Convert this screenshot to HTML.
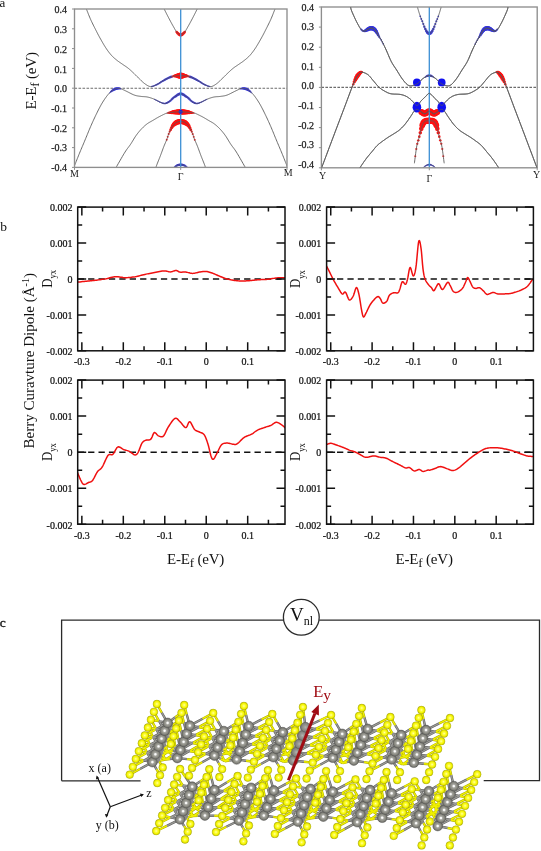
<!DOCTYPE html>
<html><head><meta charset="utf-8"><style>
html,body{margin:0;padding:0;background:#fff;}
body{width:541px;height:851px;overflow:hidden;}
svg{display:block;}
text{font-family:"Liberation Serif",serif;}
</style></head><body>
<svg width="541" height="851" viewBox="0 0 541 851">
<defs>
<radialGradient id="gY" cx="0.5" cy="0.5" r="0.5"><stop offset="0" stop-color="#ffffc0"/><stop offset="0.25" stop-color="#ffff50"/><stop offset="0.7" stop-color="#f4f400"/><stop offset="0.9" stop-color="#d8d800"/><stop offset="1" stop-color="#a8a800"/></radialGradient>
<radialGradient id="gG" cx="0.5" cy="0.5" r="0.5"><stop offset="0" stop-color="#ffffff"/><stop offset="0.16" stop-color="#f6f6f4"/><stop offset="0.36" stop-color="#a6a6a0"/><stop offset="0.72" stop-color="#88887f"/><stop offset="0.92" stop-color="#6e6e6a"/><stop offset="1" stop-color="#5a5a58"/></radialGradient>
<radialGradient id="gD" cx="0.5" cy="0.5" r="0.5"><stop offset="0" stop-color="#b4b4b0"/><stop offset="0.35" stop-color="#9a9a96"/><stop offset="0.8" stop-color="#82827e"/><stop offset="1" stop-color="#6c6c68"/></radialGradient>
</defs><rect x="0" y="0" width="541" height="851" fill="#fff"/><line x1="74.5" y1="88.20" x2="287.0" y2="88.20" stroke="#6c6c6c" stroke-width="1.1" stroke-dasharray="2.6,1.4"/><clipPath id="clipa74"><rect x="74.5" y="9.0" width="212.5" height="158.4"/></clipPath><g clip-path="url(#clipa74)"><circle cx="151.70" cy="86.56" r="0.72" fill="#3434d8"/><circle cx="152.70" cy="86.34" r="0.74" fill="#3434d8"/><circle cx="153.70" cy="86.00" r="0.76" fill="#3434d8"/><circle cx="154.70" cy="85.58" r="0.79" fill="#3434d8"/><circle cx="155.70" cy="85.12" r="0.81" fill="#3434d8"/><circle cx="156.70" cy="84.65" r="0.84" fill="#3434d8"/><circle cx="157.70" cy="84.12" r="0.86" fill="#3434d8"/><circle cx="158.70" cy="83.52" r="0.88" fill="#3434d8"/><circle cx="159.70" cy="82.89" r="0.91" fill="#3434d8"/><circle cx="160.70" cy="82.25" r="0.93" fill="#3434d8"/><circle cx="161.70" cy="81.61" r="0.95" fill="#3434d8"/><circle cx="162.70" cy="81.02" r="0.98" fill="#3434d8"/><circle cx="163.70" cy="80.45" r="1.00" fill="#3434d8"/><circle cx="164.70" cy="79.90" r="1.03" fill="#3434d8"/><circle cx="165.70" cy="79.36" r="1.05" fill="#3434d8"/><circle cx="166.70" cy="78.84" r="1.07" fill="#3434d8"/><circle cx="167.70" cy="78.34" r="1.10" fill="#3434d8"/><circle cx="168.70" cy="77.86" r="1.12" fill="#3434d8"/><circle cx="169.70" cy="77.43" r="1.15" fill="#3434d8"/><circle cx="170.70" cy="77.04" r="1.17" fill="#3434d8"/><circle cx="171.70" cy="76.68" r="1.19" fill="#3434d8"/><circle cx="189.70" cy="76.68" r="1.19" fill="#3434d8"/><circle cx="190.70" cy="77.04" r="1.17" fill="#3434d8"/><circle cx="191.70" cy="77.43" r="1.15" fill="#3434d8"/><circle cx="192.70" cy="77.86" r="1.12" fill="#3434d8"/><circle cx="193.70" cy="78.34" r="1.10" fill="#3434d8"/><circle cx="194.70" cy="78.84" r="1.07" fill="#3434d8"/><circle cx="195.70" cy="79.36" r="1.05" fill="#3434d8"/><circle cx="196.70" cy="79.90" r="1.03" fill="#3434d8"/><circle cx="197.70" cy="80.45" r="1.00" fill="#3434d8"/><circle cx="198.70" cy="81.02" r="0.98" fill="#3434d8"/><circle cx="199.70" cy="81.61" r="0.95" fill="#3434d8"/><circle cx="200.70" cy="82.25" r="0.93" fill="#3434d8"/><circle cx="201.70" cy="82.89" r="0.91" fill="#3434d8"/><circle cx="202.70" cy="83.52" r="0.88" fill="#3434d8"/><circle cx="203.70" cy="84.12" r="0.86" fill="#3434d8"/><circle cx="204.70" cy="84.65" r="0.84" fill="#3434d8"/><circle cx="205.70" cy="85.12" r="0.81" fill="#3434d8"/><circle cx="206.70" cy="85.58" r="0.79" fill="#3434d8"/><circle cx="207.70" cy="86.00" r="0.76" fill="#3434d8"/><circle cx="208.70" cy="86.34" r="0.74" fill="#3434d8"/><circle cx="209.70" cy="86.56" r="0.72" fill="#3434d8"/><circle cx="171.70" cy="76.68" r="0.56" fill="#ff1010"/><circle cx="172.70" cy="76.39" r="0.85" fill="#ff1010"/><circle cx="173.70" cy="76.15" r="1.15" fill="#ff1010"/><circle cx="174.70" cy="75.97" r="1.44" fill="#ff1010"/><circle cx="175.70" cy="75.85" r="1.73" fill="#ff1010"/><circle cx="176.70" cy="75.77" r="2.03" fill="#ff1010"/><circle cx="177.70" cy="75.73" r="2.32" fill="#ff1010"/><circle cx="178.70" cy="75.71" r="2.61" fill="#ff1010"/><circle cx="179.70" cy="75.70" r="2.91" fill="#ff1010"/><circle cx="180.70" cy="75.70" r="3.20" fill="#ff1010"/><circle cx="181.70" cy="75.70" r="2.91" fill="#ff1010"/><circle cx="182.70" cy="75.71" r="2.61" fill="#ff1010"/><circle cx="183.70" cy="75.73" r="2.32" fill="#ff1010"/><circle cx="184.70" cy="75.77" r="2.03" fill="#ff1010"/><circle cx="185.70" cy="75.85" r="1.73" fill="#ff1010"/><circle cx="186.70" cy="75.97" r="1.44" fill="#ff1010"/><circle cx="187.70" cy="76.15" r="1.15" fill="#ff1010"/><circle cx="188.70" cy="76.39" r="0.85" fill="#ff1010"/><circle cx="189.70" cy="76.68" r="0.56" fill="#ff1010"/><circle cx="176.70" cy="32.03" r="1.32" fill="#ff1010"/><circle cx="177.70" cy="33.16" r="1.41" fill="#ff1010"/><circle cx="178.70" cy="34.06" r="1.51" fill="#ff1010"/><circle cx="179.70" cy="34.67" r="1.60" fill="#ff1010"/><circle cx="180.70" cy="34.90" r="1.70" fill="#ff1010"/><circle cx="181.70" cy="34.67" r="1.60" fill="#ff1010"/><circle cx="182.70" cy="34.06" r="1.51" fill="#ff1010"/><circle cx="183.70" cy="33.16" r="1.41" fill="#ff1010"/><circle cx="184.70" cy="32.03" r="1.32" fill="#ff1010"/><circle cx="109.70" cy="92.81" r="0.56" fill="#3434d8"/><circle cx="110.70" cy="91.91" r="0.82" fill="#3434d8"/><circle cx="111.70" cy="91.10" r="1.04" fill="#3434d8"/><circle cx="112.70" cy="90.37" r="1.20" fill="#3434d8"/><circle cx="113.70" cy="89.74" r="1.32" fill="#3434d8"/><circle cx="114.70" cy="89.22" r="1.38" fill="#3434d8"/><circle cx="115.70" cy="88.82" r="1.40" fill="#3434d8"/><circle cx="116.70" cy="88.56" r="1.36" fill="#3434d8"/><circle cx="117.70" cy="88.42" r="1.28" fill="#3434d8"/><circle cx="118.70" cy="88.41" r="1.14" fill="#3434d8"/><circle cx="119.70" cy="88.52" r="0.96" fill="#3434d8"/><circle cx="120.70" cy="88.73" r="0.72" fill="#3434d8"/><circle cx="240.70" cy="88.73" r="0.72" fill="#3434d8"/><circle cx="241.70" cy="88.52" r="0.96" fill="#3434d8"/><circle cx="242.70" cy="88.41" r="1.14" fill="#3434d8"/><circle cx="243.70" cy="88.42" r="1.28" fill="#3434d8"/><circle cx="244.70" cy="88.56" r="1.36" fill="#3434d8"/><circle cx="245.70" cy="88.82" r="1.40" fill="#3434d8"/><circle cx="246.70" cy="89.22" r="1.38" fill="#3434d8"/><circle cx="247.70" cy="89.74" r="1.32" fill="#3434d8"/><circle cx="248.70" cy="90.37" r="1.20" fill="#3434d8"/><circle cx="249.70" cy="91.10" r="1.04" fill="#3434d8"/><circle cx="250.70" cy="91.91" r="0.82" fill="#3434d8"/><circle cx="251.70" cy="92.81" r="0.56" fill="#3434d8"/><circle cx="154.70" cy="99.39" r="0.52" fill="#3434d8"/><circle cx="155.70" cy="99.88" r="0.56" fill="#3434d8"/><circle cx="156.70" cy="100.39" r="0.59" fill="#3434d8"/><circle cx="157.70" cy="100.92" r="0.62" fill="#3434d8"/><circle cx="158.70" cy="101.44" r="0.66" fill="#3434d8"/><circle cx="159.70" cy="101.94" r="0.69" fill="#3434d8"/><circle cx="160.70" cy="102.37" r="0.73" fill="#3434d8"/><circle cx="161.70" cy="102.79" r="0.76" fill="#3434d8"/><circle cx="162.70" cy="103.18" r="0.79" fill="#3434d8"/><circle cx="163.70" cy="103.44" r="0.83" fill="#3434d8"/><circle cx="164.70" cy="103.50" r="0.86" fill="#3434d8"/><circle cx="165.70" cy="103.36" r="0.89" fill="#3434d8"/><circle cx="166.70" cy="103.04" r="0.93" fill="#3434d8"/><circle cx="167.70" cy="102.57" r="0.96" fill="#3434d8"/><circle cx="168.70" cy="101.99" r="1.00" fill="#3434d8"/><circle cx="169.70" cy="101.31" r="1.03" fill="#3434d8"/><circle cx="170.70" cy="100.44" r="1.06" fill="#3434d8"/><circle cx="171.70" cy="99.47" r="1.10" fill="#3434d8"/><circle cx="172.70" cy="98.50" r="1.13" fill="#3434d8"/><circle cx="173.70" cy="97.61" r="1.16" fill="#3434d8"/><circle cx="174.70" cy="96.86" r="1.20" fill="#3434d8"/><circle cx="175.70" cy="96.15" r="1.23" fill="#3434d8"/><circle cx="176.70" cy="95.45" r="1.27" fill="#3434d8"/><circle cx="177.70" cy="94.82" r="1.30" fill="#3434d8"/><circle cx="178.70" cy="94.30" r="1.33" fill="#3434d8"/><circle cx="179.70" cy="93.95" r="1.37" fill="#3434d8"/><circle cx="180.70" cy="93.80" r="1.40" fill="#3434d8"/><circle cx="181.70" cy="93.95" r="1.37" fill="#3434d8"/><circle cx="182.70" cy="94.30" r="1.33" fill="#3434d8"/><circle cx="183.70" cy="94.82" r="1.30" fill="#3434d8"/><circle cx="184.70" cy="95.45" r="1.27" fill="#3434d8"/><circle cx="185.70" cy="96.15" r="1.23" fill="#3434d8"/><circle cx="186.70" cy="96.86" r="1.20" fill="#3434d8"/><circle cx="187.70" cy="97.61" r="1.16" fill="#3434d8"/><circle cx="188.70" cy="98.50" r="1.13" fill="#3434d8"/><circle cx="189.70" cy="99.47" r="1.10" fill="#3434d8"/><circle cx="190.70" cy="100.44" r="1.06" fill="#3434d8"/><circle cx="191.70" cy="101.31" r="1.03" fill="#3434d8"/><circle cx="192.70" cy="101.99" r="1.00" fill="#3434d8"/><circle cx="193.70" cy="102.57" r="0.96" fill="#3434d8"/><circle cx="194.70" cy="103.04" r="0.93" fill="#3434d8"/><circle cx="195.70" cy="103.36" r="0.89" fill="#3434d8"/><circle cx="196.70" cy="103.50" r="0.86" fill="#3434d8"/><circle cx="197.70" cy="103.44" r="0.83" fill="#3434d8"/><circle cx="198.70" cy="103.18" r="0.79" fill="#3434d8"/><circle cx="199.70" cy="102.79" r="0.76" fill="#3434d8"/><circle cx="200.70" cy="102.37" r="0.73" fill="#3434d8"/><circle cx="201.70" cy="101.94" r="0.69" fill="#3434d8"/><circle cx="202.70" cy="101.44" r="0.66" fill="#3434d8"/><circle cx="203.70" cy="100.92" r="0.62" fill="#3434d8"/><circle cx="204.70" cy="100.39" r="0.59" fill="#3434d8"/><circle cx="205.70" cy="99.88" r="0.56" fill="#3434d8"/><circle cx="206.70" cy="99.39" r="0.52" fill="#3434d8"/><circle cx="166.70" cy="113.19" r="0.37" fill="#ff1010"/><circle cx="167.70" cy="112.98" r="0.69" fill="#ff1010"/><circle cx="168.70" cy="112.81" r="0.99" fill="#ff1010"/><circle cx="169.70" cy="112.66" r="1.26" fill="#ff1010"/><circle cx="170.70" cy="112.53" r="1.51" fill="#ff1010"/><circle cx="171.70" cy="112.41" r="1.74" fill="#ff1010"/><circle cx="172.70" cy="112.30" r="1.94" fill="#ff1010"/><circle cx="173.70" cy="112.21" r="2.12" fill="#ff1010"/><circle cx="174.70" cy="112.13" r="2.27" fill="#ff1010"/><circle cx="175.70" cy="112.06" r="2.40" fill="#ff1010"/><circle cx="176.70" cy="112.00" r="2.51" fill="#ff1010"/><circle cx="177.70" cy="111.96" r="2.59" fill="#ff1010"/><circle cx="178.70" cy="111.93" r="2.65" fill="#ff1010"/><circle cx="179.70" cy="111.91" r="2.69" fill="#ff1010"/><circle cx="180.70" cy="111.90" r="2.70" fill="#ff1010"/><circle cx="181.70" cy="111.91" r="2.69" fill="#ff1010"/><circle cx="182.70" cy="111.93" r="2.65" fill="#ff1010"/><circle cx="183.70" cy="111.96" r="2.59" fill="#ff1010"/><circle cx="184.70" cy="112.00" r="2.51" fill="#ff1010"/><circle cx="185.70" cy="112.06" r="2.40" fill="#ff1010"/><circle cx="186.70" cy="112.13" r="2.27" fill="#ff1010"/><circle cx="187.70" cy="112.21" r="2.12" fill="#ff1010"/><circle cx="188.70" cy="112.30" r="1.94" fill="#ff1010"/><circle cx="189.70" cy="112.41" r="1.74" fill="#ff1010"/><circle cx="190.70" cy="112.53" r="1.51" fill="#ff1010"/><circle cx="191.70" cy="112.66" r="1.26" fill="#ff1010"/><circle cx="192.70" cy="112.81" r="0.99" fill="#ff1010"/><circle cx="193.70" cy="112.98" r="0.69" fill="#ff1010"/><circle cx="194.70" cy="113.19" r="0.37" fill="#ff1010"/><circle cx="166.70" cy="139.75" r="0.91" fill="#ff1010"/><circle cx="167.70" cy="136.84" r="0.96" fill="#ff1010"/><circle cx="168.70" cy="133.92" r="1.01" fill="#ff1010"/><circle cx="169.70" cy="131.59" r="1.06" fill="#ff1010"/><circle cx="191.70" cy="131.59" r="1.06" fill="#ff1010"/><circle cx="192.70" cy="133.92" r="1.01" fill="#ff1010"/><circle cx="193.70" cy="136.84" r="0.96" fill="#ff1010"/><circle cx="194.70" cy="139.75" r="0.91" fill="#ff1010"/><circle cx="170.70" cy="129.66" r="1.44" fill="#ff1010"/><circle cx="171.70" cy="127.59" r="1.66" fill="#ff1010"/><circle cx="172.70" cy="125.77" r="1.88" fill="#ff1010"/><circle cx="173.70" cy="124.67" r="2.10" fill="#ff1010"/><circle cx="174.70" cy="123.78" r="2.32" fill="#ff1010"/><circle cx="186.70" cy="123.78" r="2.32" fill="#ff1010"/><circle cx="187.70" cy="124.67" r="2.10" fill="#ff1010"/><circle cx="188.70" cy="125.77" r="1.88" fill="#ff1010"/><circle cx="189.70" cy="127.59" r="1.66" fill="#ff1010"/><circle cx="190.70" cy="129.66" r="1.44" fill="#ff1010"/><circle cx="175.70" cy="122.94" r="2.50" fill="#ff1010"/><circle cx="176.70" cy="122.33" r="2.52" fill="#ff1010"/><circle cx="177.70" cy="121.95" r="2.54" fill="#ff1010"/><circle cx="178.70" cy="121.67" r="2.56" fill="#ff1010"/><circle cx="179.70" cy="121.48" r="2.58" fill="#ff1010"/><circle cx="180.70" cy="121.40" r="2.60" fill="#ff1010"/><circle cx="181.70" cy="121.48" r="2.58" fill="#ff1010"/><circle cx="182.70" cy="121.67" r="2.56" fill="#ff1010"/><circle cx="183.70" cy="121.95" r="2.54" fill="#ff1010"/><circle cx="184.70" cy="122.33" r="2.52" fill="#ff1010"/><circle cx="185.70" cy="122.94" r="2.50" fill="#ff1010"/><circle cx="173.70" cy="168.01" r="0.93" fill="#3434d8"/><circle cx="174.70" cy="167.10" r="0.97" fill="#3434d8"/><circle cx="175.70" cy="166.30" r="1.01" fill="#3434d8"/><circle cx="176.70" cy="165.66" r="1.04" fill="#3434d8"/><circle cx="177.70" cy="165.20" r="1.08" fill="#3434d8"/><circle cx="178.70" cy="164.91" r="1.12" fill="#3434d8"/><circle cx="179.70" cy="164.75" r="1.16" fill="#3434d8"/><circle cx="180.70" cy="164.70" r="1.20" fill="#3434d8"/><circle cx="181.70" cy="164.75" r="1.16" fill="#3434d8"/><circle cx="182.70" cy="164.91" r="1.12" fill="#3434d8"/><circle cx="183.70" cy="165.20" r="1.08" fill="#3434d8"/><circle cx="184.70" cy="165.66" r="1.04" fill="#3434d8"/><circle cx="185.70" cy="166.30" r="1.01" fill="#3434d8"/><circle cx="186.70" cy="167.10" r="0.97" fill="#3434d8"/><circle cx="187.70" cy="168.01" r="0.93" fill="#3434d8"/><path d="M86.40,9.00L86.64,9.62L86.95,10.40L87.31,11.33L87.72,12.37L88.16,13.50L88.62,14.68L89.11,15.89L89.61,17.10L90.11,18.28L90.60,19.40L91.10,20.50L91.63,21.64L92.19,22.79L92.76,23.96L93.34,25.13L93.92,26.29L94.49,27.43L95.05,28.53L95.59,29.59L96.10,30.60L96.58,31.54L97.03,32.43L97.46,33.27L97.88,34.08L98.29,34.86L98.71,35.64L99.13,36.42L99.56,37.22L100.02,38.04L100.50,38.90L101.01,39.81L101.54,40.74L102.09,41.71L102.66,42.69L103.23,43.67L103.81,44.65L104.39,45.61L104.97,46.54L105.54,47.44L106.10,48.30L106.65,49.12L107.20,49.92L107.75,50.69L108.30,51.44L108.85,52.17L109.40,52.88L109.95,53.57L110.50,54.24L111.05,54.88L111.60,55.50L112.16,56.09L112.72,56.66L113.28,57.20L113.84,57.71L114.40,58.21L114.96,58.68L115.52,59.15L116.08,59.61L116.64,60.05L117.20,60.50L117.75,60.93L118.30,61.35L118.85,61.75L119.40,62.14L119.95,62.52L120.50,62.89L121.05,63.26L121.60,63.64L122.15,64.01L122.70,64.40L123.26,64.79L123.82,65.16L124.38,65.54L124.94,65.91L125.50,66.28L126.06,66.66L126.62,67.05L127.18,67.45L127.74,67.87L128.30,68.30L128.85,68.75L129.40,69.22L129.95,69.70L130.50,70.20L131.05,70.70L131.60,71.21L132.15,71.73L132.70,72.25L133.25,72.77L133.80,73.30L134.36,73.83L134.92,74.38L135.48,74.93L136.04,75.49L136.60,76.05L137.16,76.61L137.72,77.17L138.28,77.72L138.84,78.27L139.40,78.80L139.95,79.33L140.50,79.87L141.05,80.41L141.60,80.94L142.15,81.47L142.70,81.98L143.25,82.48L143.80,82.95L144.35,83.39L144.90,83.80L145.45,84.19L146.01,84.57L146.56,84.95L147.12,85.30L147.68,85.62L148.23,85.92L148.79,86.17L149.36,86.37L149.93,86.52L150.50,86.60L151.08,86.62L151.65,86.57L152.23,86.46L152.81,86.31L153.39,86.12L153.98,85.89L154.58,85.64L155.18,85.37L155.78,85.09L156.40,84.80L157.03,84.49L157.66,84.14L158.31,83.77L158.96,83.36L159.62,82.94L160.28,82.52L160.94,82.09L161.60,81.68L162.25,81.28L162.90,80.90L163.55,80.54L164.21,80.17L164.87,79.81L165.52,79.46L166.18,79.11L166.83,78.77L167.47,78.45L168.10,78.14L168.71,77.86L169.30,77.60L169.86,77.37L170.40,77.15L170.92,76.95L171.42,76.78L171.91,76.61L172.41,76.46L172.90,76.33L173.42,76.21L173.94,76.10L174.50,76.00L175.08,75.91L175.68,75.85L176.29,75.80L176.91,75.76L177.54,75.73L178.17,75.71L178.81,75.70L179.44,75.70L180.08,75.70L180.70,75.70L181.32,75.70L181.96,75.70L182.59,75.70L183.23,75.71L183.86,75.73L184.49,75.76L185.11,75.80L185.72,75.85L186.32,75.91L186.90,76.00L187.46,76.10L187.98,76.21L188.50,76.33L188.99,76.46L189.49,76.61L189.98,76.78L190.48,76.95L191.00,77.15L191.54,77.37L192.10,77.60L192.69,77.86L193.30,78.14L193.93,78.45L194.57,78.77L195.22,79.11L195.88,79.46L196.53,79.81L197.19,80.17L197.85,80.54L198.50,80.90L199.15,81.28L199.80,81.68L200.46,82.09L201.12,82.52L201.78,82.94L202.44,83.36L203.09,83.77L203.74,84.14L204.37,84.49L205.00,84.80L205.62,85.09L206.22,85.37L206.82,85.64L207.42,85.89L208.01,86.12L208.59,86.31L209.17,86.46L209.75,86.57L210.32,86.62L210.90,86.60L211.47,86.52L212.04,86.37L212.61,86.17L213.17,85.92L213.72,85.62L214.28,85.30L214.84,84.95L215.39,84.57L215.95,84.19L216.50,83.80L217.05,83.39L217.60,82.95L218.15,82.48L218.70,81.98L219.25,81.47L219.80,80.94L220.35,80.41L220.90,79.87L221.45,79.33L222.00,78.80L222.56,78.27L223.12,77.72L223.68,77.17L224.24,76.61L224.80,76.05L225.36,75.49L225.92,74.93L226.48,74.38L227.04,73.83L227.60,73.30L228.15,72.77L228.70,72.25L229.25,71.73L229.80,71.21L230.35,70.70L230.90,70.20L231.45,69.70L232.00,69.22L232.55,68.75L233.10,68.30L233.66,67.87L234.22,67.45L234.78,67.05L235.34,66.66L235.90,66.28L236.46,65.91L237.02,65.54L237.58,65.16L238.14,64.79L238.70,64.40L239.25,64.01L239.80,63.64L240.35,63.26L240.90,62.89L241.45,62.52L242.00,62.14L242.55,61.75L243.10,61.35L243.65,60.93L244.20,60.50L244.76,60.05L245.32,59.61L245.88,59.15L246.44,58.68L247.00,58.21L247.56,57.71L248.12,57.20L248.68,56.66L249.24,56.09L249.80,55.50L250.35,54.88L250.90,54.24L251.45,53.57L252.00,52.88L252.55,52.18L253.10,51.44L253.65,50.69L254.20,49.92L254.75,49.12L255.30,48.30L255.86,47.44L256.43,46.54L257.01,45.61L257.59,44.65L258.17,43.67L258.74,42.69L259.31,41.71L259.86,40.74L260.39,39.81L260.90,38.90L261.38,38.04L261.84,37.22L262.27,36.42L262.69,35.64L263.11,34.86L263.52,34.08L263.94,33.27L264.37,32.43L264.82,31.54L265.30,30.60L265.81,29.59L266.35,28.53L266.91,27.43L267.48,26.29L268.06,25.13L268.64,23.96L269.21,22.79L269.77,21.64L270.30,20.50L270.80,19.40L271.29,18.28L271.79,17.10L272.29,15.89L272.78,14.68L273.24,13.50L273.68,12.37L274.09,11.33L274.45,10.40L274.76,9.62L275.00,9.00" fill="none" stroke="#5a5a5a" stroke-width="0.9"/><path d="M163.60,7.00L163.63,7.11L163.65,7.22L163.66,7.34L163.68,7.48L163.72,7.64L163.78,7.86L163.86,8.13L163.99,8.47L164.17,8.89L164.40,9.40L164.70,10.03L165.06,10.78L165.48,11.62L165.94,12.53L166.43,13.49L166.93,14.49L167.44,15.48L167.95,16.47L168.44,17.41L168.90,18.30L169.35,19.15L169.80,20.00L170.25,20.85L170.70,21.70L171.15,22.53L171.60,23.35L172.03,24.15L172.47,24.93L172.89,25.68L173.30,26.40L173.70,27.10L174.08,27.79L174.46,28.46L174.83,29.12L175.19,29.75L175.55,30.35L175.91,30.92L176.27,31.46L176.63,31.95L177.00,32.40L177.37,32.81L177.74,33.20L178.11,33.56L178.48,33.89L178.85,34.18L179.22,34.43L179.59,34.63L179.96,34.78L180.33,34.87L180.70,34.90L181.07,34.87L181.44,34.78L181.81,34.63L182.18,34.43L182.55,34.18L182.92,33.89L183.29,33.56L183.66,33.20L184.03,32.81L184.40,32.40L184.77,31.95L185.13,31.46L185.49,30.92L185.85,30.35L186.21,29.75L186.57,29.12L186.94,28.46L187.32,27.79L187.70,27.10L188.10,26.40L188.51,25.68L188.93,24.93L189.37,24.15L189.80,23.35L190.25,22.53L190.70,21.70L191.15,20.85L191.60,20.00L192.05,19.15L192.50,18.30L192.96,17.41L193.45,16.47L193.96,15.48L194.47,14.49L194.97,13.49L195.46,12.53L195.92,11.62L196.34,10.78L196.70,10.03L197.00,9.40L197.23,8.89L197.41,8.47L197.54,8.13L197.62,7.86L197.68,7.64L197.72,7.48L197.74,7.34L197.75,7.22L197.77,7.11L197.80,7.00" fill="none" stroke="#5a5a5a" stroke-width="0.9"/><path d="M73.50,167.80L73.55,167.70L73.59,167.63L73.63,167.57L73.68,167.48L73.74,167.36L73.83,167.18L73.96,166.92L74.12,166.55L74.33,166.05L74.60,165.40L74.93,164.58L75.33,163.60L75.77,162.49L76.25,161.28L76.77,159.98L77.31,158.63L77.86,157.25L78.41,155.87L78.96,154.51L79.50,153.20L80.03,151.91L80.58,150.61L81.13,149.29L81.69,147.96L82.26,146.62L82.83,145.27L83.41,143.92L83.98,142.58L84.54,141.23L85.10,139.90L85.65,138.57L86.20,137.22L86.75,135.88L87.30,134.53L87.85,133.18L88.40,131.84L88.95,130.51L89.50,129.19L90.05,127.89L90.60,126.60L91.16,125.33L91.72,124.06L92.28,122.81L92.84,121.56L93.40,120.33L93.96,119.11L94.52,117.91L95.08,116.72L95.64,115.55L96.20,114.40L96.75,113.26L97.30,112.14L97.85,111.03L98.40,109.93L98.95,108.86L99.50,107.80L100.05,106.76L100.60,105.75L101.15,104.76L101.70,103.80L102.26,102.86L102.83,101.93L103.41,101.02L103.99,100.13L104.57,99.26L105.14,98.43L105.71,97.63L106.26,96.87L106.79,96.16L107.30,95.50L107.79,94.89L108.26,94.34L108.71,93.83L109.15,93.36L109.58,92.93L110.00,92.53L110.42,92.15L110.84,91.79L111.27,91.44L111.70,91.10L112.14,90.77L112.58,90.45L113.02,90.16L113.46,89.88L113.89,89.62L114.33,89.39L114.77,89.18L115.21,88.99L115.66,88.83L116.10,88.70L116.54,88.59L116.98,88.51L117.41,88.45L117.84,88.41L118.28,88.40L118.72,88.41L119.17,88.45L119.63,88.51L120.11,88.59L120.60,88.70L121.10,88.84L121.59,89.00L122.09,89.19L122.59,89.41L123.11,89.65L123.65,89.91L124.21,90.19L124.80,90.48L125.43,90.78L126.10,91.10L126.82,91.45L127.61,91.84L128.44,92.27L129.30,92.71L130.19,93.17L131.08,93.62L131.95,94.05L132.81,94.45L133.63,94.80L134.40,95.10L135.12,95.34L135.82,95.54L136.49,95.71L137.13,95.85L137.77,95.96L138.39,96.06L139.01,96.15L139.64,96.23L140.26,96.31L140.90,96.40L141.54,96.48L142.18,96.54L142.82,96.59L143.46,96.62L144.10,96.66L144.74,96.69L145.38,96.74L146.02,96.80L146.66,96.89L147.30,97.00L147.95,97.14L148.59,97.29L149.24,97.46L149.89,97.64L150.54,97.84L151.20,98.05L151.85,98.27L152.50,98.50L153.15,98.75L153.80,99.00L154.46,99.28L155.13,99.59L155.81,99.93L156.50,100.28L157.18,100.64L157.84,101.00L158.50,101.34L159.13,101.66L159.73,101.95L160.30,102.20L160.83,102.42L161.33,102.63L161.80,102.83L162.24,103.01L162.68,103.17L163.10,103.30L163.51,103.41L163.93,103.48L164.36,103.51L164.80,103.50L165.25,103.45L165.69,103.37L166.13,103.25L166.57,103.10L167.01,102.92L167.45,102.71L167.90,102.47L168.36,102.20L168.82,101.91L169.30,101.60L169.79,101.24L170.28,100.83L170.78,100.37L171.28,99.89L171.79,99.38L172.31,98.87L172.84,98.36L173.38,97.87L173.94,97.42L174.50,97.00L175.08,96.59L175.68,96.17L176.29,95.74L176.91,95.31L177.54,94.91L178.17,94.55L178.81,94.25L179.44,94.01L180.08,93.85L180.70,93.80L181.32,93.85L181.96,94.01L182.59,94.25L183.23,94.55L183.86,94.91L184.49,95.31L185.11,95.74L185.72,96.17L186.32,96.59L186.90,97.00L187.46,97.42L188.02,97.87L188.56,98.36L189.09,98.87L189.61,99.38L190.12,99.89L190.62,100.37L191.12,100.83L191.61,101.24L192.10,101.60L192.58,101.91L193.04,102.20L193.50,102.47L193.95,102.71L194.39,102.92L194.83,103.10L195.27,103.25L195.71,103.37L196.15,103.45L196.60,103.50L197.04,103.51L197.47,103.48L197.89,103.41L198.30,103.30L198.72,103.17L199.16,103.01L199.60,102.83L200.07,102.63L200.57,102.42L201.10,102.20L201.67,101.95L202.27,101.66L202.90,101.34L203.56,101.00L204.22,100.64L204.90,100.28L205.59,99.93L206.27,99.59L206.94,99.28L207.60,99.00L208.25,98.75L208.90,98.50L209.55,98.27L210.20,98.05L210.86,97.84L211.51,97.64L212.16,97.46L212.81,97.29L213.45,97.14L214.10,97.00L214.74,96.89L215.38,96.80L216.02,96.74L216.66,96.69L217.30,96.66L217.94,96.62L218.58,96.59L219.22,96.54L219.86,96.48L220.50,96.40L221.14,96.31L221.76,96.23L222.39,96.15L223.01,96.06L223.63,95.96L224.27,95.85L224.91,95.71L225.58,95.54L226.28,95.34L227.00,95.10L227.77,94.80L228.59,94.45L229.45,94.05L230.32,93.62L231.21,93.17L232.10,92.71L232.96,92.27L233.79,91.84L234.58,91.45L235.30,91.10L235.97,90.78L236.60,90.48L237.19,90.19L237.75,89.91L238.29,89.65L238.81,89.41L239.31,89.19L239.81,89.00L240.30,88.84L240.80,88.70L241.29,88.59L241.77,88.51L242.23,88.45L242.68,88.41L243.12,88.40L243.56,88.41L243.99,88.45L244.42,88.51L244.86,88.59L245.30,88.70L245.74,88.83L246.19,88.99L246.63,89.18L247.07,89.39L247.51,89.62L247.94,89.88L248.38,90.16L248.82,90.45L249.26,90.77L249.70,91.10L250.13,91.44L250.56,91.79L250.98,92.15L251.40,92.53L251.82,92.93L252.25,93.36L252.69,93.83L253.14,94.34L253.61,94.89L254.10,95.50L254.61,96.16L255.14,96.87L255.69,97.63L256.26,98.43L256.83,99.26L257.41,100.13L257.99,101.02L258.57,101.93L259.14,102.86L259.70,103.80L260.25,104.76L260.80,105.75L261.35,106.76L261.90,107.80L262.45,108.86L263.00,109.93L263.55,111.03L264.10,112.14L264.65,113.26L265.20,114.40L265.76,115.55L266.32,116.72L266.88,117.91L267.44,119.11L268.00,120.33L268.56,121.56L269.12,122.81L269.68,124.06L270.24,125.33L270.80,126.60L271.35,127.89L271.90,129.19L272.45,130.51L273.00,131.84L273.55,133.18L274.10,134.53L274.65,135.88L275.20,137.22L275.75,138.57L276.30,139.90L276.86,141.23L277.42,142.58L277.99,143.92L278.57,145.27L279.14,146.62L279.71,147.96L280.27,149.29L280.82,150.61L281.37,151.91L281.90,153.20L282.44,154.51L282.99,155.87L283.54,157.25L284.09,158.63L284.63,159.98L285.15,161.28L285.63,162.49L286.07,163.60L286.47,164.58L286.80,165.40L287.07,166.05L287.28,166.55L287.44,166.92L287.57,167.18L287.66,167.36L287.72,167.48L287.77,167.57L287.81,167.63L287.85,167.70L287.90,167.80" fill="none" stroke="#5a5a5a" stroke-width="0.9"/><path d="M115.30,168.50L115.31,168.50L115.28,168.58L115.23,168.70L115.17,168.82L115.14,168.91L115.16,168.92L115.24,168.81L115.41,168.55L115.69,168.09L116.10,167.40L116.68,166.41L117.42,165.13L118.28,163.61L119.24,161.94L120.26,160.16L121.30,158.35L122.32,156.58L123.31,154.90L124.21,153.39L125.00,152.10L125.69,151.03L126.32,150.09L126.90,149.27L127.44,148.53L127.96,147.85L128.46,147.20L128.95,146.56L129.45,145.90L129.96,145.18L130.50,144.40L131.06,143.55L131.62,142.66L132.18,141.75L132.74,140.82L133.30,139.89L133.86,138.96L134.42,138.05L134.98,137.16L135.54,136.31L136.10,135.50L136.65,134.73L137.20,133.99L137.75,133.27L138.30,132.58L138.85,131.91L139.40,131.25L139.95,130.62L140.50,130.00L141.05,129.39L141.60,128.80L142.16,128.22L142.72,127.66L143.28,127.12L143.84,126.60L144.40,126.09L144.96,125.60L145.52,125.12L146.08,124.66L146.64,124.22L147.20,123.80L147.75,123.40L148.30,123.03L148.85,122.69L149.40,122.36L149.95,122.04L150.50,121.74L151.05,121.44L151.60,121.13L152.15,120.82L152.70,120.50L153.26,120.17L153.82,119.83L154.38,119.49L154.94,119.16L155.50,118.82L156.06,118.48L156.62,118.15L157.18,117.83L157.74,117.51L158.30,117.20L158.86,116.89L159.44,116.58L160.03,116.28L160.61,115.97L161.19,115.68L161.76,115.39L162.31,115.11L162.84,114.86L163.34,114.62L163.80,114.40L164.20,114.21L164.55,114.04L164.84,113.89L165.12,113.75L165.38,113.63L165.64,113.52L165.93,113.41L166.26,113.31L166.64,113.21L167.10,113.10L167.63,112.99L168.22,112.88L168.85,112.78L169.53,112.68L170.22,112.59L170.94,112.50L171.67,112.41L172.39,112.34L173.11,112.26L173.80,112.20L174.48,112.14L175.17,112.09L175.86,112.05L176.55,112.01L177.24,111.98L177.93,111.95L178.62,111.93L179.32,111.91L180.01,111.90L180.70,111.90L181.39,111.90L182.08,111.91L182.78,111.93L183.47,111.95L184.16,111.98L184.85,112.01L185.54,112.05L186.23,112.09L186.92,112.14L187.60,112.20L188.29,112.26L189.01,112.34L189.73,112.41L190.46,112.50L191.18,112.59L191.87,112.68L192.55,112.78L193.18,112.88L193.77,112.99L194.30,113.10L194.76,113.21L195.14,113.31L195.47,113.41L195.76,113.52L196.02,113.63L196.28,113.75L196.56,113.89L196.85,114.04L197.20,114.21L197.60,114.40L198.06,114.62L198.56,114.86L199.09,115.11L199.64,115.39L200.21,115.68L200.79,115.97L201.37,116.28L201.96,116.58L202.54,116.89L203.10,117.20L203.66,117.51L204.22,117.83L204.78,118.15L205.34,118.48L205.90,118.82L206.46,119.16L207.02,119.49L207.58,119.83L208.14,120.17L208.70,120.50L209.25,120.82L209.80,121.13L210.35,121.44L210.90,121.74L211.45,122.04L212.00,122.36L212.55,122.69L213.10,123.03L213.65,123.40L214.20,123.80L214.76,124.22L215.32,124.66L215.88,125.12L216.44,125.60L217.00,126.09L217.56,126.60L218.12,127.12L218.68,127.66L219.24,128.22L219.80,128.80L220.35,129.39L220.90,130.00L221.45,130.62L222.00,131.25L222.55,131.91L223.10,132.58L223.65,133.27L224.20,133.99L224.75,134.73L225.30,135.50L225.86,136.31L226.42,137.16L226.98,138.05L227.54,138.96L228.10,139.89L228.66,140.82L229.22,141.75L229.78,142.66L230.34,143.55L230.90,144.40L231.44,145.18L231.95,145.90L232.45,146.56L232.94,147.20L233.44,147.85L233.96,148.53L234.50,149.27L235.08,150.09L235.71,151.03L236.40,152.10L237.19,153.39L238.09,154.90L239.08,156.58L240.10,158.35L241.14,160.16L242.16,161.94L243.12,163.61L243.98,165.13L244.72,166.41L245.30,167.40L245.71,168.09L245.99,168.55L246.16,168.81L246.24,168.92L246.26,168.91L246.23,168.82L246.17,168.70L246.12,168.58L246.09,168.50L246.10,168.50" fill="none" stroke="#5a5a5a" stroke-width="0.9"/><path d="M155.80,168.50L155.83,168.35L155.86,168.19L155.88,168.01L155.91,167.81L155.96,167.57L156.02,167.28L156.11,166.93L156.23,166.50L156.39,166.00L156.60,165.40L156.87,164.68L157.19,163.84L157.56,162.90L157.97,161.88L158.39,160.81L158.83,159.71L159.28,158.61L159.71,157.52L160.12,156.48L160.50,155.50L160.85,154.56L161.20,153.64L161.54,152.72L161.87,151.81L162.19,150.91L162.52,150.02L162.84,149.14L163.16,148.28L163.48,147.43L163.80,146.60L164.13,145.77L164.48,144.93L164.83,144.10L165.19,143.27L165.54,142.46L165.88,141.68L166.20,140.94L166.50,140.24L166.77,139.59L167.00,139.00L167.19,138.48L167.35,138.04L167.47,137.65L167.57,137.31L167.66,137.01L167.73,136.72L167.81,136.44L167.89,136.15L167.98,135.84L168.10,135.50L168.23,135.13L168.37,134.76L168.52,134.38L168.67,134.00L168.82,133.61L168.98,133.23L169.14,132.86L169.29,132.49L169.45,132.14L169.60,131.80L169.75,131.48L169.90,131.17L170.05,130.87L170.20,130.59L170.35,130.31L170.50,130.03L170.65,129.75L170.80,129.47L170.95,129.19L171.10,128.90L171.25,128.60L171.39,128.29L171.53,127.98L171.67,127.67L171.81,127.36L171.95,127.05L172.10,126.74L172.26,126.45L172.42,126.17L172.60,125.90L172.79,125.64L173.00,125.40L173.21,125.16L173.43,124.93L173.66,124.71L173.89,124.49L174.12,124.28L174.35,124.08L174.58,123.89L174.80,123.70L175.01,123.52L175.22,123.34L175.41,123.18L175.61,123.02L175.81,122.86L176.01,122.72L176.23,122.58L176.46,122.44L176.72,122.32L177.00,122.20L177.31,122.08L177.64,121.97L178.00,121.86L178.37,121.75L178.76,121.66L179.15,121.57L179.54,121.50L179.94,121.45L180.32,121.41L180.70,121.40L181.08,121.41L181.46,121.45L181.86,121.50L182.25,121.57L182.64,121.66L183.03,121.75L183.40,121.86L183.76,121.97L184.09,122.08L184.40,122.20L184.68,122.32L184.94,122.44L185.17,122.58L185.39,122.72L185.59,122.86L185.79,123.02L185.99,123.18L186.18,123.34L186.39,123.52L186.60,123.70L186.82,123.89L187.05,124.08L187.28,124.28L187.51,124.49L187.74,124.71L187.97,124.93L188.19,125.16L188.40,125.40L188.61,125.64L188.80,125.90L188.98,126.17L189.14,126.45L189.30,126.74L189.45,127.05L189.59,127.36L189.73,127.67L189.87,127.98L190.01,128.29L190.15,128.60L190.30,128.90L190.45,129.19L190.60,129.47L190.75,129.75L190.90,130.03L191.05,130.31L191.20,130.59L191.35,130.87L191.50,131.17L191.65,131.48L191.80,131.80L191.95,132.14L192.11,132.49L192.26,132.86L192.42,133.23L192.57,133.61L192.73,134.00L192.88,134.38L193.03,134.76L193.17,135.13L193.30,135.50L193.42,135.84L193.51,136.15L193.59,136.44L193.67,136.72L193.74,137.01L193.83,137.31L193.93,137.65L194.05,138.04L194.21,138.48L194.40,139.00L194.63,139.59L194.90,140.24L195.20,140.94L195.52,141.68L195.86,142.46L196.21,143.27L196.57,144.10L196.92,144.93L197.27,145.77L197.60,146.60L197.92,147.43L198.24,148.28L198.56,149.14L198.88,150.02L199.21,150.91L199.53,151.81L199.86,152.72L200.20,153.64L200.55,154.56L200.90,155.50L201.28,156.48L201.69,157.52L202.12,158.61L202.57,159.71L203.01,160.81L203.43,161.88L203.84,162.90L204.21,163.84L204.53,164.68L204.80,165.40L205.01,166.00L205.17,166.50L205.29,166.93L205.38,167.28L205.44,167.57L205.49,167.81L205.52,168.01L205.54,168.19L205.57,168.35L205.60,168.50" fill="none" stroke="#5a5a5a" stroke-width="0.9"/><path d="M170.80,171.50L170.96,171.30L171.15,171.04L171.39,170.73L171.65,170.39L171.93,170.02L172.23,169.64L172.55,169.25L172.87,168.87L173.19,168.52L173.50,168.20L173.82,167.90L174.15,167.59L174.48,167.29L174.83,166.99L175.19,166.69L175.55,166.41L175.91,166.15L176.27,165.91L176.64,165.69L177.00,165.50L177.36,165.34L177.73,165.19L178.10,165.07L178.47,164.97L178.84,164.88L179.21,164.81L179.58,164.76L179.96,164.73L180.33,164.71L180.70,164.70L181.07,164.71L181.44,164.73L181.82,164.76L182.19,164.81L182.56,164.88L182.93,164.97L183.30,165.07L183.67,165.19L184.04,165.34L184.40,165.50L184.76,165.69L185.13,165.91L185.49,166.15L185.85,166.41L186.21,166.69L186.57,166.99L186.92,167.29L187.25,167.59L187.58,167.90L187.90,168.20L188.21,168.52L188.53,168.87L188.85,169.25L189.17,169.64L189.47,170.02L189.75,170.39L190.01,170.73L190.25,171.04L190.44,171.30L190.60,171.50" fill="none" stroke="#5a5a5a" stroke-width="0.9"/></g><line x1="180.7" y1="9.0" x2="180.7" y2="167.4" stroke="#3c8fd4" stroke-width="1.3"/><rect x="74.5" y="9.0" width="212.5" height="158.4" fill="none" stroke="#8e8e8e" stroke-width="1.35"/><line x1="72.0" y1="9.00" x2="74.5" y2="9.00" stroke="#8e8e8e" stroke-width="1"/><text x="67.10" y="13.40" font-size="10" text-anchor="end" fill="#222" stroke="#222" stroke-width="0.25">0.4</text><line x1="72.0" y1="28.80" x2="74.5" y2="28.80" stroke="#8e8e8e" stroke-width="1"/><text x="67.10" y="33.11" font-size="10" text-anchor="end" fill="#222" stroke="#222" stroke-width="0.25">0.3</text><line x1="72.0" y1="48.60" x2="74.5" y2="48.60" stroke="#8e8e8e" stroke-width="1"/><text x="67.10" y="52.82" font-size="10" text-anchor="end" fill="#222" stroke="#222" stroke-width="0.25">0.2</text><line x1="72.0" y1="68.40" x2="74.5" y2="68.40" stroke="#8e8e8e" stroke-width="1"/><text x="67.10" y="72.54" font-size="10" text-anchor="end" fill="#222" stroke="#222" stroke-width="0.25">0.1</text><line x1="72.0" y1="88.20" x2="74.5" y2="88.20" stroke="#8e8e8e" stroke-width="1"/><text x="67.10" y="92.25" font-size="10" text-anchor="end" fill="#222" stroke="#222" stroke-width="0.25">0.0</text><line x1="72.0" y1="108.00" x2="74.5" y2="108.00" stroke="#8e8e8e" stroke-width="1"/><text x="67.10" y="111.96" font-size="10" text-anchor="end" fill="#222" stroke="#222" stroke-width="0.25">-0.1</text><line x1="72.0" y1="127.80" x2="74.5" y2="127.80" stroke="#8e8e8e" stroke-width="1"/><text x="67.10" y="131.67" font-size="10" text-anchor="end" fill="#222" stroke="#222" stroke-width="0.25">-0.2</text><line x1="72.0" y1="147.60" x2="74.5" y2="147.60" stroke="#8e8e8e" stroke-width="1"/><text x="67.10" y="151.39" font-size="10" text-anchor="end" fill="#222" stroke="#222" stroke-width="0.25">-0.3</text><line x1="72.0" y1="167.40" x2="74.5" y2="167.40" stroke="#8e8e8e" stroke-width="1"/><text x="67.10" y="171.10" font-size="10" text-anchor="end" fill="#222" stroke="#222" stroke-width="0.25">-0.4</text><line x1="74.5" y1="167.4" x2="74.5" y2="169.9" stroke="#8e8e8e" stroke-width="1"/><line x1="180.7" y1="167.4" x2="180.7" y2="169.9" stroke="#8e8e8e" stroke-width="1"/><line x1="287.0" y1="167.4" x2="287.0" y2="169.9" stroke="#8e8e8e" stroke-width="1"/><text x="74.4" y="176.5" font-size="10" text-anchor="middle" fill="#222">M</text><text x="180.7" y="180.3" font-size="10" text-anchor="middle" fill="#222">Γ</text><text x="288.2" y="175.5" font-size="10" text-anchor="middle" fill="#222">M</text><circle cx="180.7" cy="111.8" r="2.1" fill="#2020e0"/><line x1="178.2" y1="111.8" x2="183.2" y2="111.8" stroke="#5a5a5a" stroke-width="0.8"/><line x1="321.4" y1="87.40" x2="537.2" y2="87.40" stroke="#6c6c6c" stroke-width="1.1" stroke-dasharray="2.6,1.4"/><clipPath id="clipa321"><rect x="321.4" y="7.0" width="215.80000000000007" height="160.8"/></clipPath><g clip-path="url(#clipa321)"><circle cx="361.30" cy="29.61" r="1.00" fill="#3434d8"/><circle cx="362.30" cy="30.49" r="0.99" fill="#3434d8"/><circle cx="363.30" cy="30.99" r="0.98" fill="#3434d8"/><circle cx="364.30" cy="31.10" r="0.97" fill="#3434d8"/><circle cx="365.30" cy="30.83" r="0.96" fill="#3434d8"/><circle cx="366.30" cy="30.27" r="0.95" fill="#3434d8"/><circle cx="367.30" cy="29.63" r="0.95" fill="#3434d8"/><circle cx="368.30" cy="29.03" r="0.94" fill="#3434d8"/><circle cx="369.30" cy="28.62" r="0.93" fill="#3434d8"/><circle cx="370.30" cy="28.33" r="0.92" fill="#3434d8"/><circle cx="371.30" cy="28.20" r="0.91" fill="#3434d8"/><circle cx="372.30" cy="28.33" r="0.90" fill="#3434d8"/><circle cx="373.30" cy="28.71" r="0.89" fill="#3434d8"/><circle cx="374.30" cy="29.34" r="0.88" fill="#3434d8"/><circle cx="375.30" cy="30.28" r="0.88" fill="#3434d8"/><circle cx="376.30" cy="31.63" r="0.87" fill="#3434d8"/><circle cx="377.30" cy="33.37" r="0.86" fill="#3434d8"/><circle cx="378.30" cy="35.22" r="0.85" fill="#3434d8"/><circle cx="379.30" cy="36.92" r="0.84" fill="#3434d8"/><circle cx="380.30" cy="38.52" r="0.83" fill="#3434d8"/><circle cx="381.30" cy="40.16" r="0.82" fill="#3434d8"/><circle cx="382.30" cy="41.98" r="0.81" fill="#3434d8"/><circle cx="383.30" cy="43.93" r="0.81" fill="#3434d8"/><circle cx="475.30" cy="43.93" r="0.81" fill="#3434d8"/><circle cx="476.30" cy="41.98" r="0.81" fill="#3434d8"/><circle cx="477.30" cy="40.16" r="0.82" fill="#3434d8"/><circle cx="478.30" cy="38.52" r="0.83" fill="#3434d8"/><circle cx="479.30" cy="36.92" r="0.84" fill="#3434d8"/><circle cx="480.30" cy="35.22" r="0.85" fill="#3434d8"/><circle cx="481.30" cy="33.37" r="0.86" fill="#3434d8"/><circle cx="482.30" cy="31.63" r="0.87" fill="#3434d8"/><circle cx="483.30" cy="30.28" r="0.88" fill="#3434d8"/><circle cx="484.30" cy="29.34" r="0.88" fill="#3434d8"/><circle cx="485.30" cy="28.71" r="0.89" fill="#3434d8"/><circle cx="486.30" cy="28.33" r="0.90" fill="#3434d8"/><circle cx="487.30" cy="28.20" r="0.91" fill="#3434d8"/><circle cx="488.30" cy="28.33" r="0.92" fill="#3434d8"/><circle cx="489.30" cy="28.62" r="0.93" fill="#3434d8"/><circle cx="490.30" cy="29.03" r="0.94" fill="#3434d8"/><circle cx="491.30" cy="29.63" r="0.95" fill="#3434d8"/><circle cx="492.30" cy="30.27" r="0.95" fill="#3434d8"/><circle cx="493.30" cy="30.83" r="0.96" fill="#3434d8"/><circle cx="494.30" cy="31.10" r="0.97" fill="#3434d8"/><circle cx="495.30" cy="30.99" r="0.98" fill="#3434d8"/><circle cx="496.30" cy="30.49" r="0.99" fill="#3434d8"/><circle cx="497.30" cy="29.61" r="1.00" fill="#3434d8"/><circle cx="364.30" cy="31.10" r="1.17" fill="#3434d8"/><circle cx="365.30" cy="30.83" r="1.46" fill="#3434d8"/><circle cx="366.30" cy="30.27" r="1.71" fill="#3434d8"/><circle cx="367.30" cy="29.63" r="1.91" fill="#3434d8"/><circle cx="368.30" cy="29.03" r="2.08" fill="#3434d8"/><circle cx="369.30" cy="28.62" r="2.19" fill="#3434d8"/><circle cx="370.30" cy="28.33" r="2.27" fill="#3434d8"/><circle cx="371.30" cy="28.20" r="2.30" fill="#3434d8"/><circle cx="372.30" cy="28.33" r="2.29" fill="#3434d8"/><circle cx="373.30" cy="28.71" r="2.23" fill="#3434d8"/><circle cx="374.30" cy="29.34" r="2.13" fill="#3434d8"/><circle cx="375.30" cy="30.28" r="1.98" fill="#3434d8"/><circle cx="376.30" cy="31.63" r="1.80" fill="#3434d8"/><circle cx="377.30" cy="33.37" r="1.56" fill="#3434d8"/><circle cx="378.30" cy="35.22" r="1.29" fill="#3434d8"/><circle cx="379.30" cy="36.92" r="0.97" fill="#3434d8"/><circle cx="479.30" cy="36.92" r="0.97" fill="#3434d8"/><circle cx="480.30" cy="35.22" r="1.29" fill="#3434d8"/><circle cx="481.30" cy="33.37" r="1.56" fill="#3434d8"/><circle cx="482.30" cy="31.63" r="1.80" fill="#3434d8"/><circle cx="483.30" cy="30.28" r="1.98" fill="#3434d8"/><circle cx="484.30" cy="29.34" r="2.13" fill="#3434d8"/><circle cx="485.30" cy="28.71" r="2.23" fill="#3434d8"/><circle cx="486.30" cy="28.33" r="2.29" fill="#3434d8"/><circle cx="487.30" cy="28.20" r="2.30" fill="#3434d8"/><circle cx="488.30" cy="28.33" r="2.27" fill="#3434d8"/><circle cx="489.30" cy="28.62" r="2.19" fill="#3434d8"/><circle cx="490.30" cy="29.03" r="2.08" fill="#3434d8"/><circle cx="491.30" cy="29.63" r="1.91" fill="#3434d8"/><circle cx="492.30" cy="30.27" r="1.71" fill="#3434d8"/><circle cx="493.30" cy="30.83" r="1.46" fill="#3434d8"/><circle cx="494.30" cy="31.10" r="1.17" fill="#3434d8"/><circle cx="424.30" cy="77.63" r="0.40" fill="#3434d8"/><circle cx="425.30" cy="76.98" r="0.69" fill="#3434d8"/><circle cx="426.30" cy="76.40" r="0.91" fill="#3434d8"/><circle cx="427.30" cy="75.94" r="1.07" fill="#3434d8"/><circle cx="428.30" cy="75.62" r="1.17" fill="#3434d8"/><circle cx="429.30" cy="75.50" r="1.20" fill="#3434d8"/><circle cx="430.30" cy="75.62" r="1.17" fill="#3434d8"/><circle cx="431.30" cy="75.94" r="1.07" fill="#3434d8"/><circle cx="432.30" cy="76.40" r="0.91" fill="#3434d8"/><circle cx="433.30" cy="76.98" r="0.69" fill="#3434d8"/><circle cx="434.30" cy="77.63" r="0.40" fill="#3434d8"/><circle cx="420.30" cy="16.38" r="0.83" fill="#3434d8"/><circle cx="421.30" cy="18.97" r="0.91" fill="#3434d8"/><circle cx="422.30" cy="21.35" r="1.00" fill="#3434d8"/><circle cx="423.30" cy="23.96" r="1.08" fill="#3434d8"/><circle cx="424.30" cy="26.65" r="1.17" fill="#3434d8"/><circle cx="425.30" cy="28.97" r="1.26" fill="#3434d8"/><circle cx="426.30" cy="30.92" r="1.34" fill="#3434d8"/><circle cx="427.30" cy="32.42" r="1.43" fill="#3434d8"/><circle cx="428.30" cy="33.31" r="1.51" fill="#3434d8"/><circle cx="429.30" cy="33.60" r="1.60" fill="#3434d8"/><circle cx="430.30" cy="33.31" r="1.51" fill="#3434d8"/><circle cx="431.30" cy="32.42" r="1.43" fill="#3434d8"/><circle cx="432.30" cy="30.92" r="1.34" fill="#3434d8"/><circle cx="433.30" cy="28.97" r="1.26" fill="#3434d8"/><circle cx="434.30" cy="26.65" r="1.17" fill="#3434d8"/><circle cx="435.30" cy="23.96" r="1.08" fill="#3434d8"/><circle cx="436.30" cy="21.35" r="1.00" fill="#3434d8"/><circle cx="437.30" cy="18.97" r="0.91" fill="#3434d8"/><circle cx="438.30" cy="16.38" r="0.83" fill="#3434d8"/><circle cx="352.30" cy="86.64" r="0.60" fill="#ff1010"/><circle cx="353.30" cy="84.18" r="1.19" fill="#ff1010"/><circle cx="354.30" cy="81.83" r="1.66" fill="#ff1010"/><circle cx="355.30" cy="79.69" r="2.00" fill="#ff1010"/><circle cx="356.30" cy="77.75" r="2.21" fill="#ff1010"/><circle cx="357.30" cy="76.08" r="2.30" fill="#ff1010"/><circle cx="358.30" cy="74.70" r="2.26" fill="#ff1010"/><circle cx="359.30" cy="73.60" r="2.10" fill="#ff1010"/><circle cx="360.30" cy="72.65" r="1.81" fill="#ff1010"/><circle cx="361.30" cy="72.21" r="1.39" fill="#ff1010"/><circle cx="362.30" cy="72.22" r="0.85" fill="#ff1010"/><circle cx="496.30" cy="72.22" r="0.85" fill="#ff1010"/><circle cx="497.30" cy="72.21" r="1.39" fill="#ff1010"/><circle cx="498.30" cy="72.65" r="1.81" fill="#ff1010"/><circle cx="499.30" cy="73.60" r="2.10" fill="#ff1010"/><circle cx="500.30" cy="74.70" r="2.26" fill="#ff1010"/><circle cx="501.30" cy="76.08" r="2.30" fill="#ff1010"/><circle cx="502.30" cy="77.75" r="2.21" fill="#ff1010"/><circle cx="503.30" cy="79.69" r="2.00" fill="#ff1010"/><circle cx="504.30" cy="81.83" r="1.66" fill="#ff1010"/><circle cx="505.30" cy="84.18" r="1.19" fill="#ff1010"/><circle cx="506.30" cy="86.64" r="0.60" fill="#ff1010"/><circle cx="421.30" cy="111.92" r="3.00" fill="#ff1010"/><circle cx="422.30" cy="112.62" r="3.00" fill="#ff1010"/><circle cx="423.30" cy="113.30" r="3.00" fill="#ff1010"/><circle cx="424.30" cy="113.67" r="3.00" fill="#ff1010"/><circle cx="425.30" cy="113.57" r="3.00" fill="#ff1010"/><circle cx="426.30" cy="112.96" r="3.00" fill="#ff1010"/><circle cx="427.30" cy="112.18" r="3.00" fill="#ff1010"/><circle cx="428.30" cy="111.50" r="3.00" fill="#ff1010"/><circle cx="429.30" cy="111.20" r="3.00" fill="#ff1010"/><circle cx="430.30" cy="111.50" r="3.00" fill="#ff1010"/><circle cx="431.30" cy="112.18" r="3.00" fill="#ff1010"/><circle cx="432.30" cy="112.96" r="3.00" fill="#ff1010"/><circle cx="433.30" cy="113.57" r="3.00" fill="#ff1010"/><circle cx="434.30" cy="113.67" r="3.00" fill="#ff1010"/><circle cx="435.30" cy="113.30" r="3.00" fill="#ff1010"/><circle cx="436.30" cy="112.62" r="3.00" fill="#ff1010"/><circle cx="437.30" cy="111.92" r="3.00" fill="#ff1010"/><circle cx="415.30" cy="156.27" r="0.99" fill="#ff1010"/><circle cx="416.30" cy="148.98" r="1.07" fill="#ff1010"/><circle cx="417.30" cy="143.81" r="1.14" fill="#ff1010"/><circle cx="418.30" cy="140.36" r="1.21" fill="#ff1010"/><circle cx="419.30" cy="136.65" r="1.29" fill="#ff1010"/><circle cx="439.30" cy="136.65" r="1.29" fill="#ff1010"/><circle cx="440.30" cy="140.36" r="1.21" fill="#ff1010"/><circle cx="441.30" cy="143.81" r="1.14" fill="#ff1010"/><circle cx="442.30" cy="148.98" r="1.07" fill="#ff1010"/><circle cx="443.30" cy="156.27" r="0.99" fill="#ff1010"/><circle cx="420.30" cy="132.71" r="1.75" fill="#ff1010"/><circle cx="421.30" cy="128.83" r="2.32" fill="#ff1010"/><circle cx="422.30" cy="125.16" r="2.89" fill="#ff1010"/><circle cx="436.30" cy="125.16" r="2.89" fill="#ff1010"/><circle cx="437.30" cy="128.83" r="2.32" fill="#ff1010"/><circle cx="438.30" cy="132.71" r="1.75" fill="#ff1010"/><circle cx="423.30" cy="122.97" r="3.01" fill="#ff1010"/><circle cx="424.30" cy="121.74" r="3.03" fill="#ff1010"/><circle cx="425.30" cy="121.18" r="3.04" fill="#ff1010"/><circle cx="426.30" cy="120.91" r="3.06" fill="#ff1010"/><circle cx="427.30" cy="120.78" r="3.07" fill="#ff1010"/><circle cx="428.30" cy="120.72" r="3.09" fill="#ff1010"/><circle cx="429.30" cy="120.70" r="3.10" fill="#ff1010"/><circle cx="430.30" cy="120.72" r="3.09" fill="#ff1010"/><circle cx="431.30" cy="120.78" r="3.07" fill="#ff1010"/><circle cx="432.30" cy="120.91" r="3.06" fill="#ff1010"/><circle cx="433.30" cy="121.18" r="3.04" fill="#ff1010"/><circle cx="434.30" cy="121.74" r="3.03" fill="#ff1010"/><circle cx="435.30" cy="122.97" r="3.01" fill="#ff1010"/><circle cx="423.30" cy="167.72" r="0.61" fill="#3434d8"/><circle cx="424.30" cy="166.84" r="0.66" fill="#3434d8"/><circle cx="425.30" cy="166.04" r="0.71" fill="#3434d8"/><circle cx="426.30" cy="165.40" r="0.76" fill="#3434d8"/><circle cx="427.30" cy="164.95" r="0.80" fill="#3434d8"/><circle cx="428.30" cy="164.69" r="0.85" fill="#3434d8"/><circle cx="429.30" cy="164.60" r="0.90" fill="#3434d8"/><circle cx="430.30" cy="164.69" r="0.85" fill="#3434d8"/><circle cx="431.30" cy="164.95" r="0.80" fill="#3434d8"/><circle cx="432.30" cy="165.40" r="0.76" fill="#3434d8"/><circle cx="433.30" cy="166.04" r="0.71" fill="#3434d8"/><circle cx="434.30" cy="166.84" r="0.66" fill="#3434d8"/><circle cx="435.30" cy="167.72" r="0.61" fill="#3434d8"/><path d="M350.50,5.00L350.52,5.25L350.54,5.54L350.55,5.89L350.57,6.28L350.59,6.71L350.64,7.18L350.70,7.69L350.80,8.23L350.93,8.80L351.10,9.40L351.32,10.05L351.59,10.76L351.89,11.52L352.23,12.33L352.58,13.16L352.95,14.00L353.32,14.83L353.70,15.66L354.06,16.45L354.40,17.20L354.73,17.92L355.06,18.63L355.39,19.33L355.72,20.02L356.04,20.69L356.37,21.36L356.70,22.01L357.03,22.65L357.37,23.28L357.70,23.90L358.04,24.52L358.38,25.14L358.72,25.76L359.06,26.37L359.40,26.96L359.74,27.53L360.08,28.07L360.42,28.56L360.76,29.01L361.10,29.40L361.43,29.74L361.75,30.05L362.06,30.32L362.37,30.55L362.69,30.74L363.01,30.89L363.33,31.00L363.67,31.08L364.03,31.11L364.40,31.10L364.80,31.02L365.23,30.87L365.67,30.65L366.13,30.38L366.59,30.09L367.06,29.78L367.52,29.48L367.97,29.21L368.40,28.98L368.80,28.80L369.18,28.66L369.55,28.54L369.90,28.43L370.24,28.34L370.57,28.27L370.90,28.22L371.22,28.19L371.54,28.20L371.87,28.23L372.20,28.30L372.53,28.40L372.87,28.51L373.20,28.65L373.53,28.82L373.86,29.02L374.18,29.25L374.51,29.51L374.84,29.80L375.17,30.13L375.50,30.50L375.83,30.92L376.16,31.40L376.49,31.93L376.82,32.50L377.15,33.09L377.48,33.70L377.81,34.32L378.14,34.93L378.47,35.53L378.80,36.10L379.13,36.64L379.45,37.16L379.76,37.67L380.08,38.17L380.40,38.67L380.72,39.20L381.05,39.74L381.39,40.32L381.74,40.93L382.10,41.60L382.47,42.31L382.85,43.04L383.24,43.81L383.63,44.60L384.04,45.42L384.45,46.27L384.87,47.15L385.30,48.07L385.75,49.02L386.20,50.00L386.67,51.04L387.15,52.17L387.65,53.35L388.16,54.56L388.68,55.80L389.20,57.04L389.72,58.25L390.25,59.43L390.78,60.56L391.30,61.60L391.82,62.57L392.34,63.48L392.87,64.34L393.39,65.17L393.92,65.97L394.45,66.76L394.98,67.55L395.52,68.35L396.06,69.16L396.60,70.00L397.15,70.88L397.70,71.78L398.26,72.70L398.82,73.62L399.39,74.54L399.95,75.46L400.52,76.35L401.08,77.21L401.64,78.03L402.20,78.80L402.76,79.54L403.32,80.28L403.89,81.00L404.46,81.69L405.02,82.35L405.58,82.97L406.13,83.54L406.67,84.06L407.19,84.52L407.70,84.90L408.19,85.21L408.65,85.45L409.09,85.63L409.52,85.76L409.95,85.83L410.38,85.86L410.81,85.86L411.25,85.83L411.71,85.77L412.20,85.70L412.71,85.60L413.23,85.47L413.77,85.30L414.32,85.10L414.88,84.86L415.44,84.60L416.01,84.31L416.58,84.00L417.14,83.66L417.70,83.30L418.25,82.90L418.81,82.43L419.36,81.92L419.91,81.38L420.47,80.82L421.03,80.27L421.59,79.72L422.15,79.20L422.72,78.72L423.30,78.30L423.88,77.91L424.47,77.51L425.07,77.12L425.67,76.75L426.28,76.41L426.88,76.11L427.49,75.86L428.09,75.67L428.70,75.54L429.30,75.50L429.90,75.54L430.51,75.67L431.11,75.86L431.72,76.11L432.33,76.41L432.93,76.75L433.53,77.12L434.13,77.51L434.72,77.91L435.30,78.30L435.88,78.72L436.45,79.20L437.01,79.72L437.57,80.27L438.13,80.83L438.69,81.38L439.24,81.92L439.79,82.43L440.35,82.90L440.90,83.30L441.46,83.66L442.02,84.00L442.59,84.31L443.16,84.60L443.72,84.86L444.28,85.10L444.83,85.30L445.37,85.47L445.89,85.60L446.40,85.70L446.89,85.77L447.35,85.83L447.79,85.86L448.22,85.86L448.65,85.83L449.08,85.76L449.51,85.63L449.95,85.45L450.41,85.21L450.90,84.90L451.41,84.52L451.93,84.06L452.47,83.54L453.02,82.97L453.58,82.35L454.14,81.69L454.71,81.00L455.28,80.28L455.84,79.54L456.40,78.80L456.96,78.03L457.52,77.21L458.08,76.35L458.65,75.46L459.21,74.54L459.78,73.62L460.34,72.70L460.90,71.78L461.45,70.88L462.00,70.00L462.54,69.16L463.08,68.35L463.62,67.55L464.15,66.76L464.68,65.97L465.21,65.17L465.73,64.34L466.26,63.48L466.78,62.57L467.30,61.60L467.82,60.56L468.35,59.43L468.88,58.25L469.40,57.04L469.93,55.80L470.44,54.56L470.95,53.35L471.45,52.17L471.93,51.04L472.40,50.00L472.85,49.02L473.30,48.07L473.73,47.15L474.15,46.27L474.56,45.42L474.97,44.60L475.36,43.81L475.75,43.04L476.13,42.31L476.50,41.60L476.86,40.93L477.21,40.32L477.55,39.74L477.88,39.20L478.20,38.67L478.52,38.17L478.84,37.67L479.15,37.16L479.47,36.64L479.80,36.10L480.13,35.53L480.46,34.93L480.79,34.32L481.12,33.70L481.45,33.09L481.78,32.50L482.11,31.93L482.44,31.40L482.77,30.92L483.10,30.50L483.43,30.13L483.76,29.80L484.09,29.51L484.42,29.25L484.74,29.02L485.07,28.82L485.40,28.65L485.73,28.51L486.07,28.40L486.40,28.30L486.73,28.23L487.06,28.20L487.38,28.19L487.70,28.22L488.03,28.27L488.36,28.34L488.70,28.43L489.05,28.54L489.42,28.66L489.80,28.80L490.20,28.98L490.63,29.21L491.08,29.48L491.54,29.78L492.01,30.09L492.47,30.38L492.93,30.65L493.37,30.87L493.80,31.02L494.20,31.10L494.57,31.11L494.93,31.08L495.27,31.00L495.59,30.89L495.91,30.74L496.23,30.55L496.54,30.32L496.85,30.05L497.17,29.74L497.50,29.40L497.84,29.01L498.18,28.56L498.52,28.07L498.86,27.53L499.20,26.96L499.54,26.37L499.88,25.76L500.22,25.14L500.56,24.52L500.90,23.90L501.23,23.28L501.57,22.65L501.90,22.01L502.23,21.36L502.56,20.69L502.88,20.02L503.21,19.33L503.54,18.63L503.87,17.92L504.20,17.20L504.54,16.45L504.90,15.66L505.28,14.83L505.65,14.00L506.02,13.16L506.37,12.33L506.71,11.52L507.01,10.76L507.28,10.05L507.50,9.40L507.67,8.80L507.80,8.23L507.90,7.69L507.96,7.18L508.01,6.71L508.03,6.28L508.05,5.89L508.06,5.54L508.08,5.25L508.10,5.00" fill="none" stroke="#5a5a5a" stroke-width="0.9"/><path d="M416.90,4.00L416.93,4.17L416.95,4.36L416.97,4.57L417.00,4.82L417.03,5.10L417.08,5.43L417.15,5.80L417.24,6.24L417.35,6.73L417.50,7.30L417.69,7.97L417.91,8.75L418.17,9.62L418.44,10.56L418.74,11.53L419.04,12.52L419.35,13.49L419.65,14.43L419.93,15.31L420.20,16.10L420.45,16.81L420.70,17.48L420.95,18.11L421.19,18.70L421.43,19.28L421.66,19.83L421.90,20.39L422.13,20.94L422.37,21.51L422.60,22.10L422.83,22.71L423.07,23.33L423.30,23.96L423.53,24.59L423.76,25.21L423.98,25.83L424.21,26.43L424.44,27.02L424.67,27.57L424.90,28.10L425.13,28.61L425.36,29.10L425.60,29.58L425.83,30.05L426.06,30.49L426.29,30.92L426.52,31.31L426.75,31.67L426.98,32.01L427.20,32.30L427.42,32.56L427.63,32.79L427.84,32.99L428.05,33.15L428.26,33.29L428.47,33.41L428.68,33.49L428.88,33.55L429.09,33.59L429.30,33.60L429.51,33.59L429.72,33.55L429.92,33.49L430.13,33.41L430.34,33.29L430.55,33.15L430.76,32.99L430.97,32.79L431.18,32.56L431.40,32.30L431.62,32.01L431.85,31.67L432.08,31.31L432.31,30.92L432.54,30.49L432.77,30.05L433.00,29.58L433.24,29.10L433.47,28.61L433.70,28.10L433.93,27.57L434.16,27.02L434.39,26.43L434.62,25.83L434.84,25.21L435.07,24.59L435.30,23.96L435.53,23.33L435.77,22.71L436.00,22.10L436.23,21.51L436.47,20.94L436.70,20.39L436.94,19.83L437.18,19.28L437.41,18.70L437.65,18.11L437.90,17.48L438.15,16.81L438.40,16.10L438.67,15.31L438.95,14.43L439.25,13.49L439.56,12.52L439.86,11.53L440.16,10.56L440.43,9.62L440.69,8.75L440.91,7.97L441.10,7.30L441.25,6.73L441.36,6.24L441.45,5.80L441.52,5.43L441.57,5.10L441.60,4.82L441.63,4.57L441.65,4.36L441.67,4.17L441.70,4.00" fill="none" stroke="#5a5a5a" stroke-width="0.9"/><path d="M320.80,170.00L320.82,169.94L320.82,169.95L320.80,170.01L320.78,170.05L320.78,170.04L320.82,169.94L320.92,169.68L321.08,169.24L321.34,168.56L321.70,167.60L322.18,166.32L322.78,164.74L323.46,162.92L324.22,160.90L325.04,158.74L325.88,156.50L326.74,154.22L327.59,151.96L328.42,149.77L329.20,147.70L329.95,145.71L330.70,143.72L331.45,141.73L332.20,139.74L332.94,137.76L333.69,135.77L334.44,133.78L335.19,131.79L335.95,129.79L336.70,127.80L337.46,125.80L338.22,123.80L338.98,121.80L339.74,119.80L340.50,117.80L341.26,115.80L342.02,113.80L342.78,111.80L343.54,109.80L344.30,107.80L345.07,105.76L345.86,103.65L346.66,101.49L347.47,99.33L348.27,97.19L349.05,95.10L349.80,93.10L350.52,91.21L351.19,89.46L351.80,87.90L352.35,86.51L352.85,85.27L353.31,84.16L353.72,83.16L354.11,82.26L354.48,81.42L354.84,80.65L355.19,79.92L355.54,79.21L355.90,78.50L356.26,77.82L356.62,77.19L356.96,76.62L357.29,76.09L357.62,75.61L357.94,75.16L358.26,74.75L358.57,74.38L358.89,74.03L359.20,73.70L359.50,73.40L359.77,73.12L360.03,72.88L360.28,72.67L360.54,72.49L360.81,72.35L361.10,72.24L361.42,72.18L361.78,72.17L362.20,72.20L362.68,72.28L363.21,72.40L363.78,72.57L364.38,72.79L365.01,73.04L365.65,73.33L366.29,73.65L366.92,74.00L367.53,74.39L368.10,74.80L368.65,75.25L369.17,75.76L369.69,76.30L370.20,76.88L370.70,77.49L371.20,78.12L371.71,78.77L372.23,79.42L372.75,80.06L373.30,80.70L373.86,81.35L374.43,82.03L375.01,82.73L375.59,83.44L376.18,84.16L376.78,84.86L377.38,85.55L377.98,86.21L378.59,86.83L379.20,87.40L379.82,87.93L380.45,88.43L381.08,88.91L381.72,89.36L382.37,89.78L383.01,90.18L383.65,90.57L384.28,90.93L384.90,91.27L385.50,91.60L386.07,91.91L386.61,92.19L387.13,92.46L387.63,92.70L388.14,92.92L388.66,93.13L389.20,93.32L389.78,93.49L390.41,93.65L391.10,93.80L391.87,93.92L392.72,94.01L393.63,94.07L394.59,94.11L395.56,94.14L396.53,94.16L397.48,94.20L398.38,94.24L399.23,94.31L400.00,94.40L400.69,94.51L401.34,94.64L401.93,94.77L402.50,94.91L403.03,95.06L403.54,95.23L404.04,95.40L404.52,95.59L405.01,95.79L405.50,96.00L405.99,96.23L406.47,96.48L406.93,96.74L407.39,97.01L407.83,97.29L408.26,97.59L408.69,97.89L409.10,98.19L409.51,98.49L409.90,98.80L410.28,99.11L410.64,99.43L410.98,99.75L411.32,100.08L411.64,100.41L411.97,100.75L412.29,101.09L412.62,101.43L412.95,101.76L413.30,102.10L413.66,102.47L414.02,102.90L414.38,103.36L414.74,103.83L415.11,104.29L415.48,104.70L415.86,105.06L416.24,105.32L416.62,105.48L417.00,105.50L417.39,105.37L417.77,105.10L418.16,104.73L418.55,104.26L418.95,103.74L419.35,103.17L419.75,102.59L420.16,102.02L420.58,101.48L421.00,101.00L421.43,100.55L421.88,100.10L422.34,99.64L422.80,99.18L423.26,98.73L423.73,98.28L424.19,97.84L424.64,97.41L425.08,97.00L425.50,96.60L425.91,96.20L426.30,95.76L426.69,95.32L427.07,94.88L427.44,94.47L427.81,94.09L428.18,93.77L428.55,93.52L428.92,93.36L429.30,93.30L429.68,93.36L430.05,93.52L430.42,93.77L430.79,94.09L431.16,94.47L431.53,94.88L431.91,95.32L432.30,95.76L432.69,96.20L433.10,96.60L433.52,96.99L433.96,97.41L434.41,97.84L434.87,98.28L435.34,98.72L435.80,99.18L436.26,99.64L436.72,100.10L437.17,100.55L437.60,101.00L438.02,101.48L438.44,102.02L438.85,102.59L439.25,103.17L439.65,103.74L440.05,104.26L440.44,104.73L440.83,105.10L441.21,105.37L441.60,105.50L441.98,105.48L442.36,105.32L442.74,105.06L443.12,104.70L443.49,104.29L443.86,103.83L444.22,103.36L444.58,102.90L444.94,102.47L445.30,102.10L445.65,101.76L445.98,101.43L446.31,101.09L446.63,100.75L446.96,100.41L447.28,100.08L447.62,99.75L447.96,99.43L448.32,99.11L448.70,98.80L449.09,98.49L449.50,98.19L449.91,97.89L450.34,97.59L450.77,97.29L451.21,97.01L451.67,96.74L452.13,96.48L452.61,96.23L453.10,96.00L453.59,95.79L454.08,95.59L454.56,95.40L455.06,95.23L455.57,95.06L456.10,94.91L456.67,94.77L457.26,94.64L457.91,94.51L458.60,94.40L459.37,94.31L460.22,94.24L461.12,94.20L462.07,94.16L463.04,94.14L464.01,94.11L464.97,94.07L465.88,94.01L466.73,93.92L467.50,93.80L468.19,93.65L468.82,93.49L469.40,93.32L469.94,93.13L470.46,92.92L470.97,92.70L471.47,92.46L471.99,92.19L472.53,91.91L473.10,91.60L473.70,91.27L474.32,90.93L474.95,90.57L475.59,90.18L476.23,89.78L476.88,89.36L477.52,88.91L478.15,88.43L478.78,87.93L479.40,87.40L480.01,86.83L480.62,86.21L481.22,85.55L481.82,84.86L482.42,84.16L483.01,83.44L483.59,82.73L484.17,82.03L484.74,81.35L485.30,80.70L485.85,80.06L486.37,79.42L486.89,78.77L487.40,78.12L487.90,77.49L488.40,76.88L488.91,76.30L489.43,75.76L489.95,75.25L490.50,74.80L491.07,74.39L491.68,74.00L492.31,73.65L492.95,73.33L493.59,73.04L494.22,72.79L494.82,72.57L495.39,72.40L495.92,72.28L496.40,72.20L496.82,72.17L497.18,72.18L497.50,72.24L497.79,72.35L498.06,72.49L498.32,72.67L498.57,72.88L498.83,73.12L499.10,73.40L499.40,73.70L499.71,74.03L500.03,74.38L500.34,74.75L500.66,75.16L500.98,75.61L501.31,76.09L501.64,76.62L501.98,77.19L502.34,77.82L502.70,78.50L503.06,79.21L503.41,79.92L503.76,80.65L504.12,81.42L504.49,82.26L504.88,83.16L505.29,84.16L505.75,85.27L506.25,86.51L506.80,87.90L507.41,89.46L508.08,91.21L508.80,93.10L509.55,95.10L510.33,97.19L511.13,99.33L511.94,101.49L512.74,103.65L513.53,105.76L514.30,107.80L515.06,109.80L515.82,111.80L516.58,113.80L517.34,115.80L518.10,117.80L518.86,119.80L519.62,121.80L520.38,123.80L521.14,125.80L521.90,127.80L522.65,129.79L523.41,131.79L524.16,133.78L524.91,135.77L525.66,137.76L526.40,139.74L527.15,141.73L527.90,143.72L528.65,145.71L529.40,147.70L530.18,149.77L531.01,151.96L531.86,154.22L532.72,156.50L533.56,158.74L534.38,160.90L535.14,162.92L535.82,164.74L536.42,166.32L536.90,167.60L537.26,168.56L537.52,169.24L537.68,169.68L537.78,169.94L537.82,170.04L537.82,170.05L537.80,170.01L537.78,169.95L537.78,169.94L537.80,170.00" fill="none" stroke="#5a5a5a" stroke-width="0.9"/><path d="M359.30,170.00L359.32,169.89L359.31,169.79L359.29,169.69L359.27,169.56L359.27,169.41L359.30,169.21L359.37,168.95L359.50,168.62L359.71,168.21L360.00,167.70L360.39,167.07L360.88,166.31L361.45,165.45L362.08,164.51L362.75,163.52L363.44,162.52L364.14,161.52L364.83,160.54L365.49,159.63L366.10,158.80L366.67,158.04L367.24,157.32L367.79,156.63L368.34,155.96L368.88,155.31L369.42,154.67L369.96,154.03L370.50,153.40L371.05,152.76L371.60,152.10L372.16,151.43L372.72,150.74L373.28,150.04L373.84,149.35L374.40,148.66L374.96,147.98L375.52,147.32L376.08,146.68L376.64,146.07L377.20,145.50L377.75,144.97L378.30,144.47L378.85,144.00L379.40,143.56L379.95,143.13L380.50,142.72L381.05,142.31L381.60,141.91L382.15,141.51L382.70,141.10L383.26,140.69L383.82,140.28L384.38,139.88L384.94,139.48L385.50,139.09L386.06,138.70L386.62,138.32L387.18,137.94L387.74,137.57L388.30,137.20L388.85,136.84L389.40,136.49L389.95,136.16L390.50,135.82L391.05,135.49L391.60,135.16L392.15,134.83L392.70,134.50L393.25,134.15L393.80,133.80L394.36,133.44L394.92,133.09L395.48,132.75L396.04,132.40L396.60,132.04L397.16,131.67L397.72,131.28L398.28,130.88L398.84,130.45L399.40,130.00L399.95,129.52L400.50,129.03L401.05,128.52L401.60,127.99L402.15,127.44L402.70,126.88L403.25,126.29L403.80,125.68L404.35,125.05L404.90,124.40L405.47,123.70L406.05,122.95L406.65,122.16L407.24,121.34L407.84,120.51L408.42,119.69L408.99,118.88L409.53,118.10L410.03,117.37L410.50,116.70L410.92,116.08L411.31,115.49L411.66,114.92L411.99,114.38L412.30,113.87L412.60,113.38L412.89,112.92L413.18,112.49L413.48,112.08L413.80,111.70L414.12,111.33L414.43,110.98L414.74,110.63L415.04,110.32L415.35,110.03L415.66,109.78L415.98,109.58L416.30,109.42L416.64,109.33L417.00,109.30L417.38,109.35L417.77,109.50L418.18,109.71L418.59,109.98L419.02,110.28L419.45,110.61L419.87,110.94L420.29,111.26L420.70,111.55L421.10,111.80L421.48,112.03L421.85,112.29L422.21,112.55L422.57,112.81L422.93,113.06L423.28,113.29L423.64,113.47L424.02,113.61L424.40,113.69L424.80,113.70L425.22,113.61L425.65,113.40L426.09,113.12L426.54,112.78L427.00,112.41L427.46,112.05L427.92,111.72L428.39,111.45L428.85,111.27L429.30,111.20L429.75,111.27L430.21,111.45L430.68,111.72L431.14,112.05L431.60,112.41L432.06,112.78L432.51,113.12L432.95,113.40L433.38,113.61L433.80,113.70L434.20,113.69L434.58,113.61L434.96,113.47L435.32,113.29L435.68,113.06L436.03,112.81L436.39,112.55L436.75,112.29L437.12,112.03L437.50,111.80L437.90,111.55L438.31,111.26L438.73,110.94L439.15,110.61L439.58,110.28L440.01,109.98L440.42,109.71L440.83,109.50L441.22,109.35L441.60,109.30L441.96,109.33L442.30,109.42L442.62,109.58L442.94,109.78L443.25,110.03L443.56,110.32L443.86,110.63L444.17,110.98L444.48,111.33L444.80,111.70L445.12,112.08L445.42,112.49L445.71,112.92L446.00,113.38L446.30,113.87L446.61,114.38L446.94,114.92L447.29,115.49L447.68,116.08L448.10,116.70L448.57,117.37L449.07,118.10L449.61,118.88L450.18,119.69L450.76,120.51L451.36,121.34L451.95,122.16L452.55,122.95L453.13,123.70L453.70,124.40L454.25,125.05L454.80,125.68L455.35,126.29L455.90,126.88L456.45,127.44L457.00,127.99L457.55,128.52L458.10,129.03L458.65,129.52L459.20,130.00L459.76,130.45L460.32,130.88L460.88,131.28L461.44,131.67L462.00,132.04L462.56,132.40L463.12,132.75L463.68,133.09L464.24,133.44L464.80,133.80L465.35,134.15L465.90,134.50L466.45,134.83L467.00,135.16L467.55,135.49L468.10,135.82L468.65,136.16L469.20,136.49L469.75,136.84L470.30,137.20L470.86,137.57L471.42,137.94L471.98,138.32L472.54,138.70L473.10,139.09L473.66,139.48L474.22,139.88L474.78,140.28L475.34,140.69L475.90,141.10L476.45,141.51L477.00,141.91L477.55,142.31L478.10,142.72L478.65,143.13L479.20,143.56L479.75,144.00L480.30,144.47L480.85,144.97L481.40,145.50L481.96,146.07L482.52,146.68L483.08,147.32L483.64,147.98L484.20,148.66L484.76,149.35L485.32,150.04L485.88,150.74L486.44,151.43L487.00,152.10L487.55,152.76L488.10,153.40L488.64,154.03L489.18,154.67L489.72,155.31L490.26,155.96L490.81,156.63L491.36,157.32L491.93,158.04L492.50,158.80L493.11,159.63L493.77,160.54L494.46,161.52L495.16,162.52L495.85,163.53L496.52,164.51L497.15,165.45L497.72,166.31L498.21,167.07L498.60,167.70L498.89,168.21L499.10,168.62L499.23,168.95L499.30,169.21L499.33,169.41L499.33,169.56L499.31,169.69L499.29,169.79L499.28,169.89L499.30,170.00" fill="none" stroke="#5a5a5a" stroke-width="0.9"/><path d="M414.40,163.30L414.53,162.30L414.70,160.96L414.90,159.37L415.13,157.58L415.37,155.69L415.63,153.75L415.89,151.85L416.14,150.06L416.38,148.45L416.60,147.10L416.81,145.96L417.03,144.94L417.25,144.02L417.46,143.18L417.68,142.42L417.88,141.73L418.08,141.08L418.27,140.47L418.44,139.88L418.60,139.30L418.74,138.77L418.86,138.32L418.96,137.93L419.05,137.59L419.13,137.28L419.21,136.98L419.29,136.67L419.38,136.33L419.48,135.95L419.60,135.50L419.73,134.99L419.87,134.44L420.01,133.86L420.16,133.26L420.32,132.64L420.48,132.01L420.63,131.38L420.79,130.77L420.95,130.17L421.10,129.60L421.25,129.04L421.39,128.48L421.53,127.92L421.67,127.36L421.81,126.82L421.95,126.29L422.10,125.78L422.26,125.29L422.42,124.83L422.60,124.40L422.78,124.00L422.96,123.62L423.14,123.27L423.32,122.93L423.51,122.62L423.72,122.33L423.95,122.06L424.20,121.82L424.48,121.60L424.80,121.40L425.16,121.23L425.55,121.09L425.98,120.98L426.43,120.89L426.91,120.82L427.39,120.77L427.88,120.73L428.36,120.71L428.84,120.70L429.30,120.70L429.76,120.70L430.24,120.71L430.72,120.73L431.21,120.77L431.69,120.82L432.17,120.89L432.62,120.98L433.05,121.09L433.44,121.23L433.80,121.40L434.12,121.60L434.40,121.82L434.65,122.06L434.88,122.33L435.09,122.62L435.28,122.93L435.46,123.27L435.64,123.62L435.82,124.00L436.00,124.40L436.18,124.83L436.34,125.29L436.50,125.78L436.65,126.29L436.79,126.82L436.93,127.36L437.07,127.92L437.21,128.48L437.35,129.04L437.50,129.60L437.65,130.17L437.81,130.77L437.97,131.38L438.12,132.01L438.28,132.64L438.44,133.26L438.59,133.86L438.73,134.44L438.87,134.99L439.00,135.50L439.12,135.95L439.22,136.33L439.31,136.67L439.39,136.98L439.47,137.28L439.55,137.59L439.64,137.93L439.74,138.32L439.86,138.77L440.00,139.30L440.16,139.88L440.33,140.47L440.52,141.08L440.72,141.73L440.93,142.43L441.14,143.18L441.35,144.02L441.57,144.94L441.79,145.96L442.00,147.10L442.22,148.45L442.46,150.06L442.71,151.85L442.97,153.75L443.23,155.69L443.47,157.58L443.70,159.37L443.90,160.96L444.07,162.30L444.20,163.30" fill="none" stroke="#5a5a5a" stroke-width="0.9"/><path d="M420.30,171.00L420.46,170.82L420.66,170.59L420.89,170.31L421.16,170.00L421.44,169.66L421.75,169.32L422.06,168.97L422.38,168.62L422.69,168.30L423.00,168.00L423.31,167.72L423.63,167.43L423.96,167.13L424.29,166.84L424.63,166.56L424.97,166.29L425.31,166.04L425.65,165.80L425.98,165.59L426.30,165.40L426.61,165.24L426.92,165.10L427.22,164.98L427.52,164.87L427.82,164.79L428.11,164.72L428.41,164.67L428.70,164.63L429.00,164.61L429.30,164.60L429.60,164.61L429.90,164.63L430.19,164.67L430.49,164.72L430.78,164.79L431.08,164.87L431.38,164.98L431.68,165.10L431.99,165.24L432.30,165.40L432.62,165.59L432.95,165.80L433.29,166.04L433.63,166.29L433.97,166.56L434.31,166.84L434.64,167.13L434.97,167.43L435.29,167.72L435.60,168.00L435.91,168.30L436.22,168.62L436.54,168.97L436.85,169.32L437.16,169.66L437.44,170.00L437.71,170.31L437.94,170.59L438.14,170.82L438.30,171.00" fill="none" stroke="#5a5a5a" stroke-width="0.9"/></g><line x1="429.3" y1="7.0" x2="429.3" y2="167.8" stroke="#3c8fd4" stroke-width="1.3"/><rect x="321.4" y="7.0" width="215.80000000000007" height="160.8" fill="none" stroke="#8e8e8e" stroke-width="1.35"/><line x1="318.9" y1="7.00" x2="321.4" y2="7.00" stroke="#8e8e8e" stroke-width="1"/><text x="314.00" y="10.80" font-size="10" text-anchor="end" fill="#222" stroke="#222" stroke-width="0.25">0.4</text><line x1="318.9" y1="27.10" x2="321.4" y2="27.10" stroke="#8e8e8e" stroke-width="1"/><text x="314.00" y="30.42" font-size="10" text-anchor="end" fill="#222" stroke="#222" stroke-width="0.25">0.3</text><line x1="318.9" y1="47.20" x2="321.4" y2="47.20" stroke="#8e8e8e" stroke-width="1"/><text x="314.00" y="50.05" font-size="10" text-anchor="end" fill="#222" stroke="#222" stroke-width="0.25">0.2</text><line x1="318.9" y1="67.30" x2="321.4" y2="67.30" stroke="#8e8e8e" stroke-width="1"/><text x="314.00" y="69.68" font-size="10" text-anchor="end" fill="#222" stroke="#222" stroke-width="0.25">0.1</text><line x1="318.9" y1="87.40" x2="321.4" y2="87.40" stroke="#8e8e8e" stroke-width="1"/><text x="314.00" y="89.30" font-size="10" text-anchor="end" fill="#222" stroke="#222" stroke-width="0.25">0.0</text><line x1="318.9" y1="107.50" x2="321.4" y2="107.50" stroke="#8e8e8e" stroke-width="1"/><text x="314.00" y="108.93" font-size="10" text-anchor="end" fill="#222" stroke="#222" stroke-width="0.25">-0.1</text><line x1="318.9" y1="127.60" x2="321.4" y2="127.60" stroke="#8e8e8e" stroke-width="1"/><text x="314.00" y="128.55" font-size="10" text-anchor="end" fill="#222" stroke="#222" stroke-width="0.25">-0.2</text><line x1="318.9" y1="147.70" x2="321.4" y2="147.70" stroke="#8e8e8e" stroke-width="1"/><text x="314.00" y="148.18" font-size="10" text-anchor="end" fill="#222" stroke="#222" stroke-width="0.25">-0.3</text><line x1="318.9" y1="167.80" x2="321.4" y2="167.80" stroke="#8e8e8e" stroke-width="1"/><text x="314.00" y="167.80" font-size="10" text-anchor="end" fill="#222" stroke="#222" stroke-width="0.25">-0.4</text><line x1="321.4" y1="167.8" x2="321.4" y2="170.3" stroke="#8e8e8e" stroke-width="1"/><line x1="429.3" y1="167.8" x2="429.3" y2="170.3" stroke="#8e8e8e" stroke-width="1"/><line x1="537.2" y1="167.8" x2="537.2" y2="170.3" stroke="#8e8e8e" stroke-width="1"/><text x="322.6" y="179.2" font-size="10" text-anchor="middle" fill="#222">Y</text><text x="429.3" y="182.3" font-size="10" text-anchor="middle" fill="#222">Γ</text><text x="536.6" y="178.0" font-size="10" text-anchor="middle" fill="#222">Y</text><circle cx="416.90" cy="82.4" r="3.9" fill="#1010f0"/><ellipse cx="416.90" cy="107.2" rx="4.3" ry="5.4" fill="#1010f0"/><circle cx="441.70" cy="82.4" r="3.9" fill="#1010f0"/><ellipse cx="441.70" cy="107.2" rx="4.3" ry="5.4" fill="#1010f0"/><path d="M350.50,5.00L350.52,5.25L350.54,5.54L350.55,5.89L350.57,6.28L350.59,6.71L350.64,7.18L350.70,7.69L350.80,8.23L350.93,8.80L351.10,9.40L351.32,10.05L351.59,10.76L351.89,11.52L352.23,12.33L352.58,13.16L352.95,14.00L353.32,14.83L353.70,15.66L354.06,16.45L354.40,17.20L354.73,17.92L355.06,18.63L355.39,19.33L355.72,20.02L356.04,20.69L356.37,21.36L356.70,22.01L357.03,22.65L357.37,23.28L357.70,23.90L358.04,24.52L358.38,25.14L358.72,25.76L359.06,26.37L359.40,26.96L359.74,27.53L360.08,28.07L360.42,28.56L360.76,29.01L361.10,29.40L361.43,29.74L361.75,30.05L362.06,30.32L362.37,30.55L362.69,30.74L363.01,30.89L363.33,31.00L363.67,31.08L364.03,31.11L364.40,31.10L364.80,31.02L365.23,30.87L365.67,30.65L366.13,30.38L366.59,30.09L367.06,29.78L367.52,29.48L367.97,29.21L368.40,28.98L368.80,28.80L369.18,28.66L369.55,28.54L369.90,28.43L370.24,28.34L370.57,28.27L370.90,28.22L371.22,28.19L371.54,28.20L371.87,28.23L372.20,28.30L372.53,28.40L372.87,28.51L373.20,28.65L373.53,28.82L373.86,29.02L374.18,29.25L374.51,29.51L374.84,29.80L375.17,30.13L375.50,30.50L375.83,30.92L376.16,31.40L376.49,31.93L376.82,32.50L377.15,33.09L377.48,33.70L377.81,34.32L378.14,34.93L378.47,35.53L378.80,36.10L379.13,36.64L379.45,37.16L379.76,37.67L380.08,38.17L380.40,38.67L380.72,39.20L381.05,39.74L381.39,40.32L381.74,40.93L382.10,41.60L382.47,42.31L382.85,43.04L383.24,43.81L383.63,44.60L384.04,45.42L384.45,46.27L384.87,47.15L385.30,48.07L385.75,49.02L386.20,50.00L386.67,51.04L387.15,52.17L387.65,53.35L388.16,54.56L388.68,55.80L389.20,57.04L389.72,58.25L390.25,59.43L390.78,60.56L391.30,61.60L391.82,62.57L392.34,63.48L392.87,64.34L393.39,65.17L393.92,65.97L394.45,66.76L394.98,67.55L395.52,68.35L396.06,69.16L396.60,70.00L397.15,70.88L397.70,71.78L398.26,72.70L398.82,73.62L399.39,74.54L399.95,75.46L400.52,76.35L401.08,77.21L401.64,78.03L402.20,78.80L402.76,79.54L403.32,80.28L403.89,81.00L404.46,81.69L405.02,82.35L405.58,82.97L406.13,83.54L406.67,84.06L407.19,84.52L407.70,84.90L408.19,85.21L408.65,85.45L409.09,85.63L409.52,85.76L409.95,85.83L410.38,85.86L410.81,85.86L411.25,85.83L411.71,85.77L412.20,85.70L412.71,85.60L413.23,85.47L413.77,85.30L414.32,85.10L414.88,84.86L415.44,84.60L416.01,84.31L416.58,84.00L417.14,83.66L417.70,83.30L418.25,82.90L418.81,82.43L419.36,81.92L419.91,81.38L420.47,80.82L421.03,80.27L421.59,79.72L422.15,79.20L422.72,78.72L423.30,78.30L423.88,77.91L424.47,77.51L425.07,77.12L425.67,76.75L426.28,76.41L426.88,76.11L427.49,75.86L428.09,75.67L428.70,75.54L429.30,75.50L429.90,75.54L430.51,75.67L431.11,75.86L431.72,76.11L432.33,76.41L432.93,76.75L433.53,77.12L434.13,77.51L434.72,77.91L435.30,78.30L435.88,78.72L436.45,79.20L437.01,79.72L437.57,80.27L438.13,80.83L438.69,81.38L439.24,81.92L439.79,82.43L440.35,82.90L440.90,83.30L441.46,83.66L442.02,84.00L442.59,84.31L443.16,84.60L443.72,84.86L444.28,85.10L444.83,85.30L445.37,85.47L445.89,85.60L446.40,85.70L446.89,85.77L447.35,85.83L447.79,85.86L448.22,85.86L448.65,85.83L449.08,85.76L449.51,85.63L449.95,85.45L450.41,85.21L450.90,84.90L451.41,84.52L451.93,84.06L452.47,83.54L453.02,82.97L453.58,82.35L454.14,81.69L454.71,81.00L455.28,80.28L455.84,79.54L456.40,78.80L456.96,78.03L457.52,77.21L458.08,76.35L458.65,75.46L459.21,74.54L459.78,73.62L460.34,72.70L460.90,71.78L461.45,70.88L462.00,70.00L462.54,69.16L463.08,68.35L463.62,67.55L464.15,66.76L464.68,65.97L465.21,65.17L465.73,64.34L466.26,63.48L466.78,62.57L467.30,61.60L467.82,60.56L468.35,59.43L468.88,58.25L469.40,57.04L469.93,55.80L470.44,54.56L470.95,53.35L471.45,52.17L471.93,51.04L472.40,50.00L472.85,49.02L473.30,48.07L473.73,47.15L474.15,46.27L474.56,45.42L474.97,44.60L475.36,43.81L475.75,43.04L476.13,42.31L476.50,41.60L476.86,40.93L477.21,40.32L477.55,39.74L477.88,39.20L478.20,38.67L478.52,38.17L478.84,37.67L479.15,37.16L479.47,36.64L479.80,36.10L480.13,35.53L480.46,34.93L480.79,34.32L481.12,33.70L481.45,33.09L481.78,32.50L482.11,31.93L482.44,31.40L482.77,30.92L483.10,30.50L483.43,30.13L483.76,29.80L484.09,29.51L484.42,29.25L484.74,29.02L485.07,28.82L485.40,28.65L485.73,28.51L486.07,28.40L486.40,28.30L486.73,28.23L487.06,28.20L487.38,28.19L487.70,28.22L488.03,28.27L488.36,28.34L488.70,28.43L489.05,28.54L489.42,28.66L489.80,28.80L490.20,28.98L490.63,29.21L491.08,29.48L491.54,29.78L492.01,30.09L492.47,30.38L492.93,30.65L493.37,30.87L493.80,31.02L494.20,31.10L494.57,31.11L494.93,31.08L495.27,31.00L495.59,30.89L495.91,30.74L496.23,30.55L496.54,30.32L496.85,30.05L497.17,29.74L497.50,29.40L497.84,29.01L498.18,28.56L498.52,28.07L498.86,27.53L499.20,26.96L499.54,26.37L499.88,25.76L500.22,25.14L500.56,24.52L500.90,23.90L501.23,23.28L501.57,22.65L501.90,22.01L502.23,21.36L502.56,20.69L502.88,20.02L503.21,19.33L503.54,18.63L503.87,17.92L504.20,17.20L504.54,16.45L504.90,15.66L505.28,14.83L505.65,14.00L506.02,13.16L506.37,12.33L506.71,11.52L507.01,10.76L507.28,10.05L507.50,9.40L507.67,8.80L507.80,8.23L507.90,7.69L507.96,7.18L508.01,6.71L508.03,6.28L508.05,5.89L508.06,5.54L508.08,5.25L508.10,5.00" fill="none" stroke="#5a5a5a" stroke-width="0.8" clip-path="url(#clipa321)"/><path d="M320.80,170.00L320.82,169.94L320.82,169.95L320.80,170.01L320.78,170.05L320.78,170.04L320.82,169.94L320.92,169.68L321.08,169.24L321.34,168.56L321.70,167.60L322.18,166.32L322.78,164.74L323.46,162.92L324.22,160.90L325.04,158.74L325.88,156.50L326.74,154.22L327.59,151.96L328.42,149.77L329.20,147.70L329.95,145.71L330.70,143.72L331.45,141.73L332.20,139.74L332.94,137.76L333.69,135.77L334.44,133.78L335.19,131.79L335.95,129.79L336.70,127.80L337.46,125.80L338.22,123.80L338.98,121.80L339.74,119.80L340.50,117.80L341.26,115.80L342.02,113.80L342.78,111.80L343.54,109.80L344.30,107.80L345.07,105.76L345.86,103.65L346.66,101.49L347.47,99.33L348.27,97.19L349.05,95.10L349.80,93.10L350.52,91.21L351.19,89.46L351.80,87.90L352.35,86.51L352.85,85.27L353.31,84.16L353.72,83.16L354.11,82.26L354.48,81.42L354.84,80.65L355.19,79.92L355.54,79.21L355.90,78.50L356.26,77.82L356.62,77.19L356.96,76.62L357.29,76.09L357.62,75.61L357.94,75.16L358.26,74.75L358.57,74.38L358.89,74.03L359.20,73.70L359.50,73.40L359.77,73.12L360.03,72.88L360.28,72.67L360.54,72.49L360.81,72.35L361.10,72.24L361.42,72.18L361.78,72.17L362.20,72.20L362.68,72.28L363.21,72.40L363.78,72.57L364.38,72.79L365.01,73.04L365.65,73.33L366.29,73.65L366.92,74.00L367.53,74.39L368.10,74.80L368.65,75.25L369.17,75.76L369.69,76.30L370.20,76.88L370.70,77.49L371.20,78.12L371.71,78.77L372.23,79.42L372.75,80.06L373.30,80.70L373.86,81.35L374.43,82.03L375.01,82.73L375.59,83.44L376.18,84.16L376.78,84.86L377.38,85.55L377.98,86.21L378.59,86.83L379.20,87.40L379.82,87.93L380.45,88.43L381.08,88.91L381.72,89.36L382.37,89.78L383.01,90.18L383.65,90.57L384.28,90.93L384.90,91.27L385.50,91.60L386.07,91.91L386.61,92.19L387.13,92.46L387.63,92.70L388.14,92.92L388.66,93.13L389.20,93.32L389.78,93.49L390.41,93.65L391.10,93.80L391.87,93.92L392.72,94.01L393.63,94.07L394.59,94.11L395.56,94.14L396.53,94.16L397.48,94.20L398.38,94.24L399.23,94.31L400.00,94.40L400.69,94.51L401.34,94.64L401.93,94.77L402.50,94.91L403.03,95.06L403.54,95.23L404.04,95.40L404.52,95.59L405.01,95.79L405.50,96.00L405.99,96.23L406.47,96.48L406.93,96.74L407.39,97.01L407.83,97.29L408.26,97.59L408.69,97.89L409.10,98.19L409.51,98.49L409.90,98.80L410.28,99.11L410.64,99.43L410.98,99.75L411.32,100.08L411.64,100.41L411.97,100.75L412.29,101.09L412.62,101.43L412.95,101.76L413.30,102.10L413.66,102.47L414.02,102.90L414.38,103.36L414.74,103.83L415.11,104.29L415.48,104.70L415.86,105.06L416.24,105.32L416.62,105.48L417.00,105.50L417.39,105.37L417.77,105.10L418.16,104.73L418.55,104.26L418.95,103.74L419.35,103.17L419.75,102.59L420.16,102.02L420.58,101.48L421.00,101.00L421.43,100.55L421.88,100.10L422.34,99.64L422.80,99.18L423.26,98.73L423.73,98.28L424.19,97.84L424.64,97.41L425.08,97.00L425.50,96.60L425.91,96.20L426.30,95.76L426.69,95.32L427.07,94.88L427.44,94.47L427.81,94.09L428.18,93.77L428.55,93.52L428.92,93.36L429.30,93.30L429.68,93.36L430.05,93.52L430.42,93.77L430.79,94.09L431.16,94.47L431.53,94.88L431.91,95.32L432.30,95.76L432.69,96.20L433.10,96.60L433.52,96.99L433.96,97.41L434.41,97.84L434.87,98.28L435.34,98.72L435.80,99.18L436.26,99.64L436.72,100.10L437.17,100.55L437.60,101.00L438.02,101.48L438.44,102.02L438.85,102.59L439.25,103.17L439.65,103.74L440.05,104.26L440.44,104.73L440.83,105.10L441.21,105.37L441.60,105.50L441.98,105.48L442.36,105.32L442.74,105.06L443.12,104.70L443.49,104.29L443.86,103.83L444.22,103.36L444.58,102.90L444.94,102.47L445.30,102.10L445.65,101.76L445.98,101.43L446.31,101.09L446.63,100.75L446.96,100.41L447.28,100.08L447.62,99.75L447.96,99.43L448.32,99.11L448.70,98.80L449.09,98.49L449.50,98.19L449.91,97.89L450.34,97.59L450.77,97.29L451.21,97.01L451.67,96.74L452.13,96.48L452.61,96.23L453.10,96.00L453.59,95.79L454.08,95.59L454.56,95.40L455.06,95.23L455.57,95.06L456.10,94.91L456.67,94.77L457.26,94.64L457.91,94.51L458.60,94.40L459.37,94.31L460.22,94.24L461.12,94.20L462.07,94.16L463.04,94.14L464.01,94.11L464.97,94.07L465.88,94.01L466.73,93.92L467.50,93.80L468.19,93.65L468.82,93.49L469.40,93.32L469.94,93.13L470.46,92.92L470.97,92.70L471.47,92.46L471.99,92.19L472.53,91.91L473.10,91.60L473.70,91.27L474.32,90.93L474.95,90.57L475.59,90.18L476.23,89.78L476.88,89.36L477.52,88.91L478.15,88.43L478.78,87.93L479.40,87.40L480.01,86.83L480.62,86.21L481.22,85.55L481.82,84.86L482.42,84.16L483.01,83.44L483.59,82.73L484.17,82.03L484.74,81.35L485.30,80.70L485.85,80.06L486.37,79.42L486.89,78.77L487.40,78.12L487.90,77.49L488.40,76.88L488.91,76.30L489.43,75.76L489.95,75.25L490.50,74.80L491.07,74.39L491.68,74.00L492.31,73.65L492.95,73.33L493.59,73.04L494.22,72.79L494.82,72.57L495.39,72.40L495.92,72.28L496.40,72.20L496.82,72.17L497.18,72.18L497.50,72.24L497.79,72.35L498.06,72.49L498.32,72.67L498.57,72.88L498.83,73.12L499.10,73.40L499.40,73.70L499.71,74.03L500.03,74.38L500.34,74.75L500.66,75.16L500.98,75.61L501.31,76.09L501.64,76.62L501.98,77.19L502.34,77.82L502.70,78.50L503.06,79.21L503.41,79.92L503.76,80.65L504.12,81.42L504.49,82.26L504.88,83.16L505.29,84.16L505.75,85.27L506.25,86.51L506.80,87.90L507.41,89.46L508.08,91.21L508.80,93.10L509.55,95.10L510.33,97.19L511.13,99.33L511.94,101.49L512.74,103.65L513.53,105.76L514.30,107.80L515.06,109.80L515.82,111.80L516.58,113.80L517.34,115.80L518.10,117.80L518.86,119.80L519.62,121.80L520.38,123.80L521.14,125.80L521.90,127.80L522.65,129.79L523.41,131.79L524.16,133.78L524.91,135.77L525.66,137.76L526.40,139.74L527.15,141.73L527.90,143.72L528.65,145.71L529.40,147.70L530.18,149.77L531.01,151.96L531.86,154.22L532.72,156.50L533.56,158.74L534.38,160.90L535.14,162.92L535.82,164.74L536.42,166.32L536.90,167.60L537.26,168.56L537.52,169.24L537.68,169.68L537.78,169.94L537.82,170.04L537.82,170.05L537.80,170.01L537.78,169.95L537.78,169.94L537.80,170.00" fill="none" stroke="#5a5a5a" stroke-width="0.8" clip-path="url(#clipa321)"/><path d="M359.30,170.00L359.32,169.89L359.31,169.79L359.29,169.69L359.27,169.56L359.27,169.41L359.30,169.21L359.37,168.95L359.50,168.62L359.71,168.21L360.00,167.70L360.39,167.07L360.88,166.31L361.45,165.45L362.08,164.51L362.75,163.52L363.44,162.52L364.14,161.52L364.83,160.54L365.49,159.63L366.10,158.80L366.67,158.04L367.24,157.32L367.79,156.63L368.34,155.96L368.88,155.31L369.42,154.67L369.96,154.03L370.50,153.40L371.05,152.76L371.60,152.10L372.16,151.43L372.72,150.74L373.28,150.04L373.84,149.35L374.40,148.66L374.96,147.98L375.52,147.32L376.08,146.68L376.64,146.07L377.20,145.50L377.75,144.97L378.30,144.47L378.85,144.00L379.40,143.56L379.95,143.13L380.50,142.72L381.05,142.31L381.60,141.91L382.15,141.51L382.70,141.10L383.26,140.69L383.82,140.28L384.38,139.88L384.94,139.48L385.50,139.09L386.06,138.70L386.62,138.32L387.18,137.94L387.74,137.57L388.30,137.20L388.85,136.84L389.40,136.49L389.95,136.16L390.50,135.82L391.05,135.49L391.60,135.16L392.15,134.83L392.70,134.50L393.25,134.15L393.80,133.80L394.36,133.44L394.92,133.09L395.48,132.75L396.04,132.40L396.60,132.04L397.16,131.67L397.72,131.28L398.28,130.88L398.84,130.45L399.40,130.00L399.95,129.52L400.50,129.03L401.05,128.52L401.60,127.99L402.15,127.44L402.70,126.88L403.25,126.29L403.80,125.68L404.35,125.05L404.90,124.40L405.47,123.70L406.05,122.95L406.65,122.16L407.24,121.34L407.84,120.51L408.42,119.69L408.99,118.88L409.53,118.10L410.03,117.37L410.50,116.70L410.92,116.08L411.31,115.49L411.66,114.92L411.99,114.38L412.30,113.87L412.60,113.38L412.89,112.92L413.18,112.49L413.48,112.08L413.80,111.70L414.12,111.33L414.43,110.98L414.74,110.63L415.04,110.32L415.35,110.03L415.66,109.78L415.98,109.58L416.30,109.42L416.64,109.33L417.00,109.30L417.38,109.35L417.77,109.50L418.18,109.71L418.59,109.98L419.02,110.28L419.45,110.61L419.87,110.94L420.29,111.26L420.70,111.55L421.10,111.80L421.48,112.03L421.85,112.29L422.21,112.55L422.57,112.81L422.93,113.06L423.28,113.29L423.64,113.47L424.02,113.61L424.40,113.69L424.80,113.70L425.22,113.61L425.65,113.40L426.09,113.12L426.54,112.78L427.00,112.41L427.46,112.05L427.92,111.72L428.39,111.45L428.85,111.27L429.30,111.20L429.75,111.27L430.21,111.45L430.68,111.72L431.14,112.05L431.60,112.41L432.06,112.78L432.51,113.12L432.95,113.40L433.38,113.61L433.80,113.70L434.20,113.69L434.58,113.61L434.96,113.47L435.32,113.29L435.68,113.06L436.03,112.81L436.39,112.55L436.75,112.29L437.12,112.03L437.50,111.80L437.90,111.55L438.31,111.26L438.73,110.94L439.15,110.61L439.58,110.28L440.01,109.98L440.42,109.71L440.83,109.50L441.22,109.35L441.60,109.30L441.96,109.33L442.30,109.42L442.62,109.58L442.94,109.78L443.25,110.03L443.56,110.32L443.86,110.63L444.17,110.98L444.48,111.33L444.80,111.70L445.12,112.08L445.42,112.49L445.71,112.92L446.00,113.38L446.30,113.87L446.61,114.38L446.94,114.92L447.29,115.49L447.68,116.08L448.10,116.70L448.57,117.37L449.07,118.10L449.61,118.88L450.18,119.69L450.76,120.51L451.36,121.34L451.95,122.16L452.55,122.95L453.13,123.70L453.70,124.40L454.25,125.05L454.80,125.68L455.35,126.29L455.90,126.88L456.45,127.44L457.00,127.99L457.55,128.52L458.10,129.03L458.65,129.52L459.20,130.00L459.76,130.45L460.32,130.88L460.88,131.28L461.44,131.67L462.00,132.04L462.56,132.40L463.12,132.75L463.68,133.09L464.24,133.44L464.80,133.80L465.35,134.15L465.90,134.50L466.45,134.83L467.00,135.16L467.55,135.49L468.10,135.82L468.65,136.16L469.20,136.49L469.75,136.84L470.30,137.20L470.86,137.57L471.42,137.94L471.98,138.32L472.54,138.70L473.10,139.09L473.66,139.48L474.22,139.88L474.78,140.28L475.34,140.69L475.90,141.10L476.45,141.51L477.00,141.91L477.55,142.31L478.10,142.72L478.65,143.13L479.20,143.56L479.75,144.00L480.30,144.47L480.85,144.97L481.40,145.50L481.96,146.07L482.52,146.68L483.08,147.32L483.64,147.98L484.20,148.66L484.76,149.35L485.32,150.04L485.88,150.74L486.44,151.43L487.00,152.10L487.55,152.76L488.10,153.40L488.64,154.03L489.18,154.67L489.72,155.31L490.26,155.96L490.81,156.63L491.36,157.32L491.93,158.04L492.50,158.80L493.11,159.63L493.77,160.54L494.46,161.52L495.16,162.52L495.85,163.53L496.52,164.51L497.15,165.45L497.72,166.31L498.21,167.07L498.60,167.70L498.89,168.21L499.10,168.62L499.23,168.95L499.30,169.21L499.33,169.41L499.33,169.56L499.31,169.69L499.29,169.79L499.28,169.89L499.30,170.00" fill="none" stroke="#5a5a5a" stroke-width="0.8" clip-path="url(#clipa321)"/><text transform="translate(36.2,109.4) rotate(-90)" font-size="15" letter-spacing="-0.2" fill="#111">E-E<tspan font-size="13" dy="2.6">f</tspan><tspan dy="-2.6"> (eV)</tspan></text><text x="-0.5" y="6.8" font-size="13" fill="#111" font-family="Liberation Sans, sans-serif">a</text><clipPath id="clipb77207"><rect x="77.7" y="207.1" width="207.3" height="143.70000000000002"/></clipPath><line x1="77.7" y1="278.95" x2="285.0" y2="278.95" stroke="#111" stroke-width="1.5" stroke-dasharray="6.3,4.1"/><path d="M77.00,282.20L77.75,282.12L78.74,282.02L79.93,281.90L81.24,281.76L82.64,281.62L84.05,281.47L85.42,281.33L86.70,281.20L87.91,281.08L89.12,280.96L90.34,280.85L91.55,280.73L92.76,280.61L93.98,280.49L95.19,280.35L96.40,280.20L97.61,280.04L98.83,279.87L100.04,279.70L101.25,279.51L102.46,279.32L103.67,279.12L104.89,278.91L106.10,278.70L107.31,278.45L108.52,278.16L109.74,277.85L110.95,277.54L112.16,277.25L113.37,277.00L114.59,276.81L115.80,276.70L117.01,276.70L118.22,276.79L119.44,276.94L120.65,277.14L121.86,277.34L123.08,277.52L124.29,277.65L125.50,277.70L126.71,277.68L127.92,277.62L129.14,277.53L130.35,277.41L131.56,277.26L132.78,277.09L133.99,276.90L135.20,276.70L136.41,276.47L137.62,276.21L138.84,275.92L140.05,275.61L141.26,275.29L142.47,274.98L143.69,274.68L144.90,274.40L146.11,274.14L147.33,273.89L148.54,273.65L149.75,273.41L150.96,273.17L152.18,272.94L153.39,272.72L154.60,272.50L155.84,272.27L157.11,272.02L158.40,271.76L159.69,271.52L160.94,271.30L162.14,271.11L163.27,270.97L164.30,270.90L165.22,270.92L166.04,271.02L166.80,271.19L167.49,271.39L168.16,271.59L168.82,271.76L169.49,271.87L170.20,271.90L170.94,271.82L171.70,271.65L172.46,271.42L173.22,271.16L173.96,270.91L174.68,270.70L175.36,270.55L176.00,270.50L176.57,270.57L177.08,270.73L177.55,270.95L178.00,271.21L178.45,271.49L178.92,271.74L179.43,271.96L180.00,272.10L180.63,272.17L181.30,272.18L182.00,272.16L182.72,272.12L183.47,272.08L184.24,272.05L185.01,272.05L185.80,272.10L186.60,272.22L187.43,272.39L188.28,272.61L189.14,272.83L190.01,273.05L190.88,273.23L191.74,273.35L192.60,273.40L193.45,273.36L194.30,273.24L195.15,273.07L196.00,272.87L196.85,272.65L197.70,272.44L198.55,272.25L199.40,272.10L200.25,271.97L201.10,271.84L201.95,271.71L202.80,271.60L203.65,271.51L204.50,271.46L205.35,271.45L206.20,271.50L207.04,271.61L207.88,271.77L208.71,271.97L209.54,272.21L210.38,272.48L211.23,272.77L212.10,273.08L213.00,273.40L213.93,273.75L214.88,274.14L215.86,274.57L216.84,275.01L217.84,275.45L218.83,275.89L219.82,276.31L220.80,276.70L221.75,277.07L222.69,277.43L223.61,277.77L224.53,278.11L225.47,278.44L226.44,278.74L227.44,279.03L228.50,279.30L229.62,279.55L230.78,279.79L231.99,280.01L233.22,280.21L234.47,280.40L235.73,280.56L236.97,280.69L238.20,280.80L239.41,280.88L240.62,280.93L241.84,280.95L243.05,280.96L244.26,280.94L245.47,280.91L246.69,280.86L247.90,280.80L249.11,280.72L250.33,280.61L251.54,280.48L252.75,280.33L253.96,280.18L255.18,280.04L256.39,279.91L257.60,279.80L258.81,279.72L260.03,279.66L261.24,279.62L262.45,279.58L263.66,279.53L264.88,279.48L266.09,279.40L267.30,279.30L268.54,279.16L269.81,278.99L271.10,278.79L272.39,278.58L273.64,278.38L274.84,278.19L275.97,278.02L277.00,277.90L277.94,277.82L278.81,277.76L279.61,277.73L280.36,277.72L281.06,277.71L281.71,277.71L282.32,277.71L282.90,277.70L283.44,277.68L283.94,277.67L284.40,277.65L284.82,277.64L285.19,277.63L285.51,277.62L285.78,277.61L286.00,277.60" fill="none" stroke="#f01010" stroke-width="1.5" stroke-linejoin="round" clip-path="url(#clipb77207)"/><rect x="77.7" y="207.1" width="207.3" height="143.70000000000002" fill="none" stroke="#111" stroke-width="1.5"/><path d="M81.85,350.8v-8.5M81.85,207.1v8.5M102.58,350.8v-4.5M102.58,207.1v4.5M123.31,350.8v-8.5M123.31,207.1v8.5M144.04,350.8v-4.5M144.04,207.1v4.5M164.77,350.8v-8.5M164.77,207.1v8.5M185.50,350.8v-4.5M185.50,207.1v4.5M206.23,350.8v-8.5M206.23,207.1v8.5M226.96,350.8v-4.5M226.96,207.1v4.5M247.69,350.8v-8.5M247.69,207.1v8.5M268.42,350.8v-4.5M268.42,207.1v4.5M77.7,350.80h8.5M285.0,350.80h-8.5M77.7,332.84h4.5M285.0,332.84h-4.5M77.7,314.88h8.5M285.0,314.88h-8.5M77.7,296.91h4.5M285.0,296.91h-4.5M77.7,278.95h8.5M285.0,278.95h-8.5M77.7,260.99h4.5M285.0,260.99h-4.5M77.7,243.03h8.5M285.0,243.03h-8.5M77.7,225.06h4.5M285.0,225.06h-4.5M77.7,207.10h8.5M285.0,207.10h-8.5" stroke="#111" stroke-width="1.5" fill="none"/><text x="72.40" y="211.40" font-size="10" text-anchor="end" fill="#111" stroke="#111" stroke-width="0.22">0.002</text><text x="72.40" y="247.33" font-size="10" text-anchor="end" fill="#111" stroke="#111" stroke-width="0.22">0.001</text><text x="72.40" y="283.25" font-size="10" text-anchor="end" fill="#111" stroke="#111" stroke-width="0.22">0</text><text x="72.40" y="319.18" font-size="10" text-anchor="end" fill="#111" stroke="#111" stroke-width="0.22">-0.001</text><text x="72.40" y="355.10" font-size="10" text-anchor="end" fill="#111" stroke="#111" stroke-width="0.22">-0.002</text><text x="81.85" y="365.40" font-size="10" text-anchor="middle" fill="#111" stroke="#111" stroke-width="0.22">-0.3</text><text x="123.31" y="365.40" font-size="10" text-anchor="middle" fill="#111" stroke="#111" stroke-width="0.22">-0.2</text><text x="164.77" y="365.40" font-size="10" text-anchor="middle" fill="#111" stroke="#111" stroke-width="0.22">-0.1</text><text x="206.23" y="365.40" font-size="10" text-anchor="middle" fill="#111" stroke="#111" stroke-width="0.22">0</text><text x="247.69" y="365.40" font-size="10" text-anchor="middle" fill="#111" stroke="#111" stroke-width="0.22">0.1</text><clipPath id="clipb326207"><rect x="326.6" y="207.1" width="206.79999999999995" height="143.70000000000002"/></clipPath><line x1="326.6" y1="278.95" x2="533.4" y2="278.95" stroke="#111" stroke-width="1.5" stroke-dasharray="6.3,4.1"/><path d="M326.00,265.50L326.09,265.63L326.20,265.78L326.34,265.96L326.49,266.18L326.66,266.43L326.85,266.73L327.07,267.08L327.30,267.50L327.55,267.98L327.83,268.51L328.12,269.10L328.44,269.74L328.77,270.42L329.13,271.14L329.50,271.90L329.90,272.70L330.33,273.56L330.79,274.50L331.27,275.50L331.77,276.52L332.29,277.56L332.80,278.59L333.31,279.57L333.80,280.50L334.27,281.36L334.74,282.18L335.20,282.97L335.66,283.74L336.12,284.51L336.60,285.28L337.09,286.08L337.60,286.90L338.15,287.82L338.73,288.84L339.33,289.91L339.94,290.97L340.54,291.97L341.13,292.84L341.69,293.54L342.20,294.00L342.66,294.13L343.08,293.93L343.47,293.52L343.84,293.01L344.21,292.50L344.58,292.10L344.98,291.93L345.40,292.10L345.85,292.69L346.33,293.64L346.81,294.83L347.31,296.13L347.81,297.41L348.31,298.55L348.81,299.42L349.30,299.90L349.79,300.00L350.29,299.85L350.79,299.49L351.29,298.96L351.79,298.31L352.27,297.57L352.75,296.78L353.20,296.00L353.64,295.06L354.06,293.85L354.48,292.50L354.88,291.11L355.27,289.81L355.66,288.72L356.03,287.94L356.40,287.60L356.75,287.69L357.09,288.09L357.42,288.76L357.74,289.66L358.05,290.74L358.36,291.97L358.68,293.30L359.00,294.70L359.33,296.30L359.67,298.19L360.01,300.28L360.34,302.47L360.68,304.66L361.00,306.75L361.31,308.63L361.60,310.20L361.87,311.53L362.11,312.75L362.33,313.83L362.55,314.77L362.77,315.57L362.99,316.19L363.23,316.64L363.50,316.90L363.78,316.93L364.07,316.72L364.37,316.32L364.68,315.76L365.00,315.08L365.34,314.34L365.71,313.56L366.10,312.80L366.53,311.98L366.98,311.05L367.47,310.03L367.97,308.96L368.48,307.89L368.99,306.85L369.50,305.87L370.00,305.00L370.49,304.22L370.98,303.49L371.46,302.81L371.95,302.17L372.44,301.56L372.93,300.99L373.41,300.43L373.90,299.90L374.40,299.37L374.91,298.82L375.42,298.30L375.94,297.81L376.44,297.37L376.92,297.01L377.38,296.75L377.80,296.60L378.18,296.58L378.52,296.67L378.84,296.85L379.13,297.11L379.42,297.43L379.70,297.80L379.99,298.19L380.30,298.60L380.61,299.09L380.91,299.70L381.21,300.39L381.51,301.09L381.83,301.77L382.16,302.37L382.51,302.83L382.90,303.10L383.33,303.20L383.81,303.17L384.32,303.03L384.85,302.80L385.38,302.49L385.89,302.11L386.37,301.67L386.80,301.20L387.18,300.63L387.50,299.93L387.80,299.13L388.08,298.29L388.36,297.44L388.67,296.63L389.01,295.90L389.40,295.30L389.85,294.81L390.34,294.38L390.86,294.00L391.40,293.68L391.95,293.40L392.51,293.17L393.06,292.97L393.60,292.80L394.14,292.70L394.70,292.70L395.28,292.76L395.84,292.85L396.39,292.93L396.91,292.97L397.39,292.94L397.80,292.80L398.14,292.58L398.42,292.31L398.65,292.00L398.85,291.63L399.04,291.20L399.23,290.71L399.44,290.15L399.70,289.50L399.99,288.68L400.29,287.65L400.60,286.49L400.92,285.29L401.25,284.13L401.59,283.11L401.94,282.30L402.30,281.80L402.68,281.68L403.09,281.89L403.51,282.32L403.94,282.89L404.36,283.47L404.77,283.97L405.15,284.28L405.50,284.30L405.80,284.07L406.07,283.71L406.31,283.23L406.54,282.64L406.76,281.93L406.99,281.12L407.23,280.21L407.50,279.20L407.79,277.92L408.09,276.27L408.40,274.41L408.72,272.51L409.05,270.71L409.39,269.17L409.74,268.05L410.10,267.50L410.48,267.70L410.87,268.58L411.28,269.92L411.70,271.49L412.12,273.10L412.53,274.51L412.92,275.52L413.30,275.90L413.65,275.77L413.99,275.39L414.31,274.75L414.62,273.84L414.94,272.67L415.25,271.22L415.57,269.50L415.90,267.50L416.24,264.88L416.60,261.50L416.96,257.65L417.32,253.62L417.68,249.71L418.03,246.21L418.37,243.41L418.70,241.60L419.01,240.77L419.32,240.61L419.61,241.04L419.90,241.94L420.18,243.20L420.46,244.72L420.73,246.39L421.00,248.10L421.27,250.08L421.52,252.53L421.78,255.31L422.02,258.25L422.27,261.22L422.51,264.07L422.76,266.64L423.00,268.80L423.23,270.57L423.45,272.09L423.66,273.41L423.87,274.58L424.09,275.63L424.33,276.61L424.60,277.55L424.90,278.50L425.25,279.43L425.63,280.28L426.04,281.07L426.47,281.80L426.91,282.48L427.35,283.12L427.78,283.72L428.20,284.30L428.61,284.83L429.02,285.31L429.43,285.73L429.84,286.13L430.25,286.49L430.64,286.85L431.03,287.22L431.40,287.60L431.74,288.06L432.05,288.60L432.34,289.18L432.62,289.74L432.91,290.21L433.23,290.55L433.59,290.70L434.00,290.60L434.48,290.12L435.01,289.27L435.57,288.18L436.17,286.98L436.77,285.79L437.37,284.76L437.95,284.02L438.50,283.70L439.01,283.91L439.49,284.56L439.95,285.51L440.41,286.61L440.87,287.71L441.35,288.66L441.85,289.31L442.40,289.50L443.01,289.16L443.67,288.39L444.37,287.33L445.08,286.11L445.78,284.88L446.45,283.75L447.07,282.88L447.60,282.40L448.05,282.29L448.42,282.41L448.74,282.73L449.02,283.19L449.30,283.75L449.57,284.37L449.86,285.00L450.20,285.60L450.57,286.24L450.94,287.01L451.32,287.85L451.71,288.71L452.11,289.56L452.52,290.33L452.95,291.00L453.40,291.50L453.86,291.86L454.34,292.12L454.84,292.30L455.34,292.40L455.86,292.42L456.40,292.38L456.94,292.27L457.50,292.10L458.09,291.86L458.71,291.53L459.36,291.12L460.02,290.66L460.67,290.14L461.29,289.58L461.87,289.00L462.40,288.40L462.87,287.76L463.30,287.06L463.70,286.30L464.07,285.52L464.42,284.74L464.75,283.96L465.08,283.20L465.40,282.50L465.71,281.78L466.01,281.01L466.28,280.22L466.55,279.47L466.81,278.79L467.07,278.22L467.33,277.81L467.60,277.60L467.87,277.61L468.13,277.81L468.39,278.16L468.66,278.62L468.92,279.18L469.20,279.78L469.49,280.40L469.80,281.00L470.13,281.65L470.47,282.40L470.83,283.22L471.20,284.07L471.57,284.90L471.95,285.68L472.33,286.36L472.70,286.90L473.07,287.31L473.43,287.64L473.79,287.88L474.15,288.06L474.52,288.19L474.90,288.28L475.29,288.35L475.70,288.40L476.13,288.39L476.58,288.30L477.04,288.14L477.51,287.96L477.98,287.80L478.46,287.67L478.93,287.63L479.40,287.70L479.86,287.88L480.32,288.15L480.79,288.49L481.25,288.88L481.71,289.30L482.18,289.73L482.64,290.17L483.10,290.60L483.57,291.05L484.04,291.57L484.52,292.12L484.99,292.68L485.46,293.20L485.92,293.67L486.37,294.04L486.80,294.30L487.20,294.43L487.59,294.45L487.95,294.38L488.31,294.26L488.66,294.09L489.02,293.91L489.40,293.74L489.80,293.60L490.22,293.46L490.64,293.27L491.07,293.07L491.51,292.86L491.96,292.67L492.42,292.52L492.90,292.42L493.40,292.40L493.91,292.47L494.43,292.62L494.96,292.83L495.51,293.07L496.07,293.33L496.66,293.57L497.26,293.77L497.90,293.90L498.57,293.97L499.28,294.01L500.01,294.02L500.76,294.01L501.53,293.99L502.29,293.96L503.05,293.92L503.80,293.90L504.54,293.89L505.28,293.87L506.01,293.86L506.75,293.84L507.49,293.81L508.23,293.77L508.96,293.70L509.70,293.60L510.44,293.47L511.18,293.33L511.91,293.16L512.65,292.97L513.39,292.77L514.12,292.55L514.86,292.33L515.60,292.10L516.34,291.87L517.07,291.63L517.81,291.39L518.54,291.14L519.28,290.87L520.02,290.57L520.76,290.25L521.50,289.90L522.26,289.52L523.03,289.13L523.81,288.72L524.59,288.28L525.36,287.81L526.11,287.31L526.83,286.78L527.50,286.20L528.15,285.53L528.79,284.76L529.41,283.92L530.01,283.07L530.56,282.24L531.07,281.47L531.52,280.81L531.90,280.30L532.20,279.96L532.41,279.75L532.56,279.64L532.66,279.59L532.74,279.59L532.81,279.59L532.89,279.57L533.00,279.50L533.14,279.38L533.28,279.24L533.43,279.10L533.57,278.95L533.70,278.81L533.82,278.68L533.92,278.58L534.00,278.50" fill="none" stroke="#f01010" stroke-width="1.5" stroke-linejoin="round" clip-path="url(#clipb326207)"/><rect x="326.6" y="207.1" width="206.79999999999995" height="143.70000000000002" fill="none" stroke="#111" stroke-width="1.5"/><path d="M330.74,350.8v-8.5M330.74,207.1v8.5M351.42,350.8v-4.5M351.42,207.1v4.5M372.10,350.8v-8.5M372.10,207.1v8.5M392.78,350.8v-4.5M392.78,207.1v4.5M413.46,350.8v-8.5M413.46,207.1v8.5M434.14,350.8v-4.5M434.14,207.1v4.5M454.82,350.8v-8.5M454.82,207.1v8.5M475.50,350.8v-4.5M475.50,207.1v4.5M496.18,350.8v-8.5M496.18,207.1v8.5M516.86,350.8v-4.5M516.86,207.1v4.5M326.6,350.80h8.5M533.4,350.80h-8.5M326.6,332.84h4.5M533.4,332.84h-4.5M326.6,314.88h8.5M533.4,314.88h-8.5M326.6,296.91h4.5M533.4,296.91h-4.5M326.6,278.95h8.5M533.4,278.95h-8.5M326.6,260.99h4.5M533.4,260.99h-4.5M326.6,243.03h8.5M533.4,243.03h-8.5M326.6,225.06h4.5M533.4,225.06h-4.5M326.6,207.10h8.5M533.4,207.10h-8.5" stroke="#111" stroke-width="1.5" fill="none"/><text x="321.30" y="211.40" font-size="10" text-anchor="end" fill="#111" stroke="#111" stroke-width="0.22">0.002</text><text x="321.30" y="247.33" font-size="10" text-anchor="end" fill="#111" stroke="#111" stroke-width="0.22">0.001</text><text x="321.30" y="283.25" font-size="10" text-anchor="end" fill="#111" stroke="#111" stroke-width="0.22">0</text><text x="321.30" y="319.18" font-size="10" text-anchor="end" fill="#111" stroke="#111" stroke-width="0.22">-0.001</text><text x="321.30" y="355.10" font-size="10" text-anchor="end" fill="#111" stroke="#111" stroke-width="0.22">-0.002</text><text x="330.74" y="365.40" font-size="10" text-anchor="middle" fill="#111" stroke="#111" stroke-width="0.22">-0.3</text><text x="372.10" y="365.40" font-size="10" text-anchor="middle" fill="#111" stroke="#111" stroke-width="0.22">-0.2</text><text x="413.46" y="365.40" font-size="10" text-anchor="middle" fill="#111" stroke="#111" stroke-width="0.22">-0.1</text><text x="454.82" y="365.40" font-size="10" text-anchor="middle" fill="#111" stroke="#111" stroke-width="0.22">0</text><text x="496.18" y="365.40" font-size="10" text-anchor="middle" fill="#111" stroke="#111" stroke-width="0.22">0.1</text><clipPath id="clipb77380"><rect x="77.7" y="380.1" width="207.3" height="144.10000000000002"/></clipPath><line x1="77.7" y1="452.15" x2="285.0" y2="452.15" stroke="#111" stroke-width="1.5" stroke-dasharray="6.3,4.1"/><path d="M77.00,471.50L77.06,471.65L77.14,471.81L77.22,472.00L77.32,472.23L77.44,472.51L77.59,472.86L77.78,473.29L78.00,473.80L78.27,474.45L78.59,475.23L78.95,476.11L79.33,477.05L79.73,478.00L80.13,478.92L80.52,479.77L80.90,480.50L81.25,481.16L81.58,481.81L81.90,482.42L82.23,482.99L82.57,483.49L82.94,483.90L83.35,484.21L83.80,484.40L84.32,484.44L84.89,484.34L85.50,484.12L86.14,483.82L86.78,483.47L87.42,483.12L88.03,482.78L88.60,482.50L89.12,482.30L89.61,482.16L90.08,482.05L90.54,481.92L91.00,481.75L91.48,481.47L91.97,481.07L92.50,480.50L93.07,479.71L93.66,478.70L94.27,477.56L94.89,476.33L95.53,475.07L96.16,473.86L96.79,472.75L97.40,471.80L98.00,471.06L98.58,470.49L99.16,470.02L99.74,469.59L100.32,469.13L100.93,468.59L101.55,467.90L102.20,467.00L102.89,465.79L103.62,464.31L104.38,462.65L105.15,460.91L105.92,459.21L106.68,457.63L107.41,456.30L108.10,455.30L108.75,454.71L109.38,454.45L109.98,454.42L110.56,454.52L111.14,454.67L111.72,454.74L112.30,454.65L112.90,454.30L113.50,453.62L114.10,452.69L114.69,451.59L115.29,450.43L115.89,449.30L116.51,448.28L117.14,447.49L117.80,447.00L118.48,446.85L119.19,446.95L119.91,447.25L120.64,447.68L121.39,448.18L122.13,448.69L122.87,449.15L123.60,449.50L124.33,449.76L125.06,449.98L125.79,450.19L126.53,450.39L127.25,450.60L127.98,450.83L128.69,451.09L129.40,451.40L130.11,451.80L130.83,452.30L131.55,452.86L132.26,453.42L132.95,453.96L133.61,454.41L134.23,454.74L134.80,454.90L135.31,454.92L135.76,454.86L136.16,454.70L136.54,454.45L136.91,454.10L137.28,453.64L137.67,453.08L138.10,452.40L138.56,451.52L139.03,450.40L139.52,449.13L140.01,447.77L140.51,446.42L141.01,445.13L141.51,444.00L142.00,443.10L142.48,442.42L142.95,441.88L143.42,441.46L143.89,441.13L144.36,440.87L144.85,440.64L145.36,440.43L145.90,440.20L146.47,440.02L147.09,439.95L147.73,439.93L148.38,439.93L149.02,439.90L149.65,439.80L150.25,439.58L150.80,439.20L151.30,438.58L151.76,437.71L152.18,436.70L152.59,435.63L153.00,434.60L153.41,433.69L153.84,432.99L154.30,432.60L154.79,432.56L155.28,432.80L155.79,433.25L156.31,433.83L156.84,434.45L157.38,435.06L157.94,435.57L158.50,435.90L159.08,436.14L159.68,436.38L160.29,436.60L160.91,436.76L161.54,436.83L162.17,436.76L162.79,436.53L163.40,436.10L163.99,435.42L164.56,434.51L165.12,433.42L165.68,432.21L166.26,430.93L166.86,429.63L167.50,428.37L168.20,427.20L168.97,426.01L169.80,424.71L170.68,423.36L171.59,422.04L172.49,420.81L173.38,419.75L174.22,418.92L175.00,418.40L175.71,418.22L176.36,418.31L176.97,418.64L177.56,419.13L178.15,419.74L178.74,420.41L179.35,421.08L180.00,421.70L180.70,422.39L181.44,423.27L182.20,424.24L182.97,425.22L183.73,426.14L184.46,426.89L185.16,427.41L185.80,427.60L186.37,427.33L186.89,426.63L187.36,425.65L187.81,424.53L188.25,423.43L188.70,422.49L189.18,421.86L189.70,421.70L190.27,422.06L190.86,422.81L191.47,423.85L192.09,425.07L192.73,426.36L193.36,427.60L193.99,428.68L194.60,429.50L195.20,430.06L195.80,430.49L196.40,430.81L197.00,431.06L197.60,431.27L198.20,431.47L198.80,431.70L199.40,432.00L200.02,432.30L200.64,432.54L201.28,432.76L201.91,433.00L202.54,433.30L203.15,433.69L203.74,434.21L204.30,434.90L204.83,435.77L205.35,436.80L205.84,437.95L206.32,439.20L206.78,440.52L207.23,441.87L207.67,443.25L208.10,444.60L208.52,446.03L208.92,447.59L209.31,449.23L209.69,450.88L210.06,452.47L210.42,453.95L210.76,455.24L211.10,456.30L211.41,457.14L211.70,457.85L211.96,458.41L212.22,458.84L212.48,459.14L212.76,459.29L213.06,459.31L213.40,459.20L213.77,458.91L214.16,458.43L214.57,457.79L214.99,457.03L215.44,456.18L215.91,455.26L216.39,454.33L216.90,453.40L217.43,452.39L217.98,451.24L218.56,450.00L219.15,448.73L219.76,447.50L220.39,446.36L221.04,445.37L221.70,444.60L222.39,444.04L223.10,443.65L223.84,443.38L224.59,443.23L225.35,443.14L226.11,443.11L226.86,443.11L227.60,443.10L228.34,443.13L229.10,443.25L229.87,443.43L230.62,443.64L231.37,443.86L232.09,444.06L232.77,444.22L233.40,444.30L233.96,444.35L234.44,444.41L234.87,444.45L235.29,444.46L235.71,444.41L236.17,444.29L236.69,444.06L237.30,443.70L238.01,443.17L238.78,442.48L239.60,441.67L240.46,440.78L241.36,439.87L242.27,438.99L243.19,438.18L244.10,437.50L245.03,436.94L246.01,436.44L247.01,436.01L248.01,435.61L249.01,435.22L249.99,434.84L250.92,434.44L251.80,434.00L252.60,433.52L253.34,433.03L254.03,432.52L254.69,432.01L255.36,431.51L256.05,431.01L256.79,430.54L257.60,430.10L258.49,429.68L259.46,429.28L260.47,428.90L261.50,428.53L262.53,428.18L263.54,427.84L264.51,427.51L265.40,427.20L266.23,426.91L267.01,426.66L267.76,426.42L268.48,426.20L269.18,425.98L269.86,425.74L270.53,425.49L271.20,425.20L271.86,424.85L272.49,424.42L273.11,423.96L273.71,423.50L274.31,423.07L274.90,422.70L275.50,422.43L276.10,422.30L276.70,422.30L277.30,422.40L277.89,422.59L278.49,422.86L279.08,423.17L279.68,423.53L280.29,423.91L280.90,424.30L281.56,424.75L282.27,425.29L283.01,425.90L283.75,426.53L284.45,427.14L285.08,427.69L285.60,428.16L286.00,428.50" fill="none" stroke="#f01010" stroke-width="1.5" stroke-linejoin="round" clip-path="url(#clipb77380)"/><rect x="77.7" y="380.1" width="207.3" height="144.10000000000002" fill="none" stroke="#111" stroke-width="1.5"/><path d="M81.85,524.2v-8.5M81.85,380.1v8.5M102.58,524.2v-4.5M102.58,380.1v4.5M123.31,524.2v-8.5M123.31,380.1v8.5M144.04,524.2v-4.5M144.04,380.1v4.5M164.77,524.2v-8.5M164.77,380.1v8.5M185.50,524.2v-4.5M185.50,380.1v4.5M206.23,524.2v-8.5M206.23,380.1v8.5M226.96,524.2v-4.5M226.96,380.1v4.5M247.69,524.2v-8.5M247.69,380.1v8.5M268.42,524.2v-4.5M268.42,380.1v4.5M77.7,524.20h8.5M285.0,524.20h-8.5M77.7,506.19h4.5M285.0,506.19h-4.5M77.7,488.18h8.5M285.0,488.18h-8.5M77.7,470.16h4.5M285.0,470.16h-4.5M77.7,452.15h8.5M285.0,452.15h-8.5M77.7,434.14h4.5M285.0,434.14h-4.5M77.7,416.12h8.5M285.0,416.12h-8.5M77.7,398.11h4.5M285.0,398.11h-4.5M77.7,380.10h8.5M285.0,380.10h-8.5" stroke="#111" stroke-width="1.5" fill="none"/><text x="72.40" y="384.40" font-size="10" text-anchor="end" fill="#111" stroke="#111" stroke-width="0.22">0.002</text><text x="72.40" y="420.43" font-size="10" text-anchor="end" fill="#111" stroke="#111" stroke-width="0.22">0.001</text><text x="72.40" y="456.45" font-size="10" text-anchor="end" fill="#111" stroke="#111" stroke-width="0.22">0</text><text x="72.40" y="492.48" font-size="10" text-anchor="end" fill="#111" stroke="#111" stroke-width="0.22">-0.001</text><text x="72.40" y="528.50" font-size="10" text-anchor="end" fill="#111" stroke="#111" stroke-width="0.22">-0.002</text><text x="81.85" y="538.80" font-size="10" text-anchor="middle" fill="#111" stroke="#111" stroke-width="0.22">-0.3</text><text x="123.31" y="538.80" font-size="10" text-anchor="middle" fill="#111" stroke="#111" stroke-width="0.22">-0.2</text><text x="164.77" y="538.80" font-size="10" text-anchor="middle" fill="#111" stroke="#111" stroke-width="0.22">-0.1</text><text x="206.23" y="538.80" font-size="10" text-anchor="middle" fill="#111" stroke="#111" stroke-width="0.22">0</text><text x="247.69" y="538.80" font-size="10" text-anchor="middle" fill="#111" stroke="#111" stroke-width="0.22">0.1</text><clipPath id="clipb326380"><rect x="326.6" y="380.1" width="206.79999999999995" height="144.10000000000002"/></clipPath><line x1="326.6" y1="452.15" x2="533.4" y2="452.15" stroke="#111" stroke-width="1.5" stroke-dasharray="6.3,4.1"/><path d="M326.00,444.50L326.06,444.49L326.11,444.48L326.17,444.47L326.26,444.46L326.37,444.44L326.52,444.41L326.73,444.36L327.00,444.30L327.34,444.20L327.75,444.05L328.21,443.87L328.71,443.69L329.24,443.53L329.79,443.39L330.35,443.31L330.90,443.30L331.44,443.36L331.99,443.48L332.55,443.64L333.12,443.84L333.71,444.06L334.34,444.30L335.00,444.55L335.70,444.80L336.45,445.05L337.26,445.32L338.10,445.61L338.98,445.91L339.86,446.22L340.75,446.54L341.64,446.87L342.50,447.20L343.36,447.55L344.22,447.91L345.09,448.29L345.96,448.68L346.82,449.06L347.67,449.43L348.50,449.78L349.30,450.10L350.08,450.38L350.84,450.63L351.59,450.86L352.32,451.08L353.03,451.29L353.74,451.51L354.42,451.74L355.10,452.00L355.75,452.28L356.37,452.58L356.96,452.88L357.55,453.19L358.14,453.51L358.73,453.84L359.35,454.17L360.00,454.50L360.67,454.86L361.34,455.28L362.02,455.71L362.72,456.14L363.44,456.54L364.19,456.89L364.97,457.15L365.80,457.30L366.69,457.31L367.64,457.18L368.63,456.96L369.64,456.69L370.67,456.40L371.68,456.15L372.66,455.97L373.60,455.90L374.50,455.94L375.37,456.06L376.23,456.24L377.07,456.46L377.89,456.69L378.71,456.92L379.51,457.13L380.30,457.30L381.07,457.42L381.81,457.50L382.53,457.56L383.24,457.62L383.96,457.69L384.68,457.80L385.42,457.97L386.20,458.20L387.01,458.51L387.84,458.90L388.68,459.33L389.54,459.80L390.41,460.29L391.28,460.78L392.14,461.25L393.00,461.70L393.86,462.12L394.72,462.55L395.59,462.97L396.46,463.39L397.32,463.80L398.17,464.21L399.00,464.61L399.80,465.00L400.59,465.40L401.36,465.83L402.13,466.26L402.88,466.68L403.61,467.06L404.31,467.41L404.97,467.69L405.60,467.90L406.17,467.99L406.69,467.97L407.16,467.86L407.61,467.72L408.06,467.59L408.51,467.50L408.98,467.49L409.50,467.60L410.06,467.87L410.63,468.28L411.23,468.78L411.84,469.32L412.45,469.85L413.07,470.32L413.69,470.69L414.30,470.90L414.91,470.93L415.54,470.80L416.17,470.57L416.81,470.29L417.43,469.99L418.04,469.73L418.63,469.55L419.20,469.50L419.73,469.60L420.22,469.82L420.70,470.11L421.16,470.44L421.62,470.78L422.09,471.07L422.58,471.29L423.10,471.40L423.68,471.38L424.30,471.27L424.95,471.09L425.61,470.87L426.26,470.63L426.87,470.41L427.42,470.22L427.90,470.10L428.27,470.05L428.55,470.05L428.76,470.08L428.94,470.12L429.13,470.16L429.34,470.18L429.62,470.17L430.00,470.10L430.47,469.98L431.01,469.82L431.59,469.63L432.22,469.42L432.87,469.19L433.55,468.96L434.23,468.73L434.90,468.50L435.58,468.25L436.26,467.95L436.97,467.62L437.68,467.31L438.41,467.02L439.16,466.79L439.92,466.64L440.70,466.60L441.51,466.69L442.35,466.90L443.22,467.19L444.10,467.53L444.98,467.90L445.85,468.28L446.69,468.62L447.50,468.90L448.27,469.16L449.02,469.45L449.75,469.75L450.46,470.02L451.17,470.26L451.87,470.43L452.58,470.52L453.30,470.50L454.03,470.37L454.75,470.14L455.48,469.83L456.20,469.46L456.93,469.03L457.65,468.57L458.38,468.09L459.10,467.60L459.82,467.08L460.55,466.52L461.27,465.91L461.99,465.28L462.72,464.63L463.44,463.97L464.17,463.33L464.90,462.70L465.63,462.09L466.35,461.47L467.07,460.86L467.79,460.24L468.52,459.63L469.26,459.02L470.02,458.41L470.80,457.80L471.61,457.19L472.44,456.57L473.29,455.95L474.15,455.34L475.02,454.73L475.89,454.13L476.75,453.56L477.60,453.00L478.45,452.45L479.30,451.90L480.15,451.36L481.01,450.83L481.85,450.33L482.68,449.87L483.50,449.46L484.30,449.10L485.06,448.80L485.79,448.56L486.49,448.36L487.19,448.21L487.89,448.08L488.62,447.97L489.38,447.88L490.20,447.80L491.08,447.73L492.00,447.68L492.95,447.65L493.93,447.64L494.93,447.65L495.93,447.68L496.92,447.73L497.90,447.80L498.87,447.90L499.84,448.02L500.82,448.16L501.79,448.32L502.77,448.50L503.75,448.70L504.72,448.90L505.70,449.10L506.68,449.31L507.65,449.53L508.63,449.76L509.61,450.00L510.58,450.25L511.56,450.52L512.53,450.80L513.50,451.10L514.48,451.43L515.47,451.79L516.47,452.17L517.47,452.56L518.45,452.95L519.40,453.32L520.32,453.68L521.20,454.00L522.03,454.29L522.81,454.58L523.57,454.84L524.29,455.09L525.00,455.33L525.70,455.54L526.40,455.73L527.10,455.90L527.83,456.04L528.58,456.15L529.33,456.24L530.07,456.31L530.78,456.37L531.44,456.42L532.02,456.46L532.50,456.50L532.88,456.54L533.18,456.56L533.41,456.58L533.59,456.59L533.72,456.59L533.82,456.59L533.91,456.60L534.00,456.60" fill="none" stroke="#f01010" stroke-width="1.5" stroke-linejoin="round" clip-path="url(#clipb326380)"/><rect x="326.6" y="380.1" width="206.79999999999995" height="144.10000000000002" fill="none" stroke="#111" stroke-width="1.5"/><path d="M330.74,524.2v-8.5M330.74,380.1v8.5M351.42,524.2v-4.5M351.42,380.1v4.5M372.10,524.2v-8.5M372.10,380.1v8.5M392.78,524.2v-4.5M392.78,380.1v4.5M413.46,524.2v-8.5M413.46,380.1v8.5M434.14,524.2v-4.5M434.14,380.1v4.5M454.82,524.2v-8.5M454.82,380.1v8.5M475.50,524.2v-4.5M475.50,380.1v4.5M496.18,524.2v-8.5M496.18,380.1v8.5M516.86,524.2v-4.5M516.86,380.1v4.5M326.6,524.20h8.5M533.4,524.20h-8.5M326.6,506.19h4.5M533.4,506.19h-4.5M326.6,488.18h8.5M533.4,488.18h-8.5M326.6,470.16h4.5M533.4,470.16h-4.5M326.6,452.15h8.5M533.4,452.15h-8.5M326.6,434.14h4.5M533.4,434.14h-4.5M326.6,416.12h8.5M533.4,416.12h-8.5M326.6,398.11h4.5M533.4,398.11h-4.5M326.6,380.10h8.5M533.4,380.10h-8.5" stroke="#111" stroke-width="1.5" fill="none"/><text x="321.30" y="384.40" font-size="10" text-anchor="end" fill="#111" stroke="#111" stroke-width="0.22">0.002</text><text x="321.30" y="420.43" font-size="10" text-anchor="end" fill="#111" stroke="#111" stroke-width="0.22">0.001</text><text x="321.30" y="456.45" font-size="10" text-anchor="end" fill="#111" stroke="#111" stroke-width="0.22">0</text><text x="321.30" y="492.48" font-size="10" text-anchor="end" fill="#111" stroke="#111" stroke-width="0.22">-0.001</text><text x="321.30" y="528.50" font-size="10" text-anchor="end" fill="#111" stroke="#111" stroke-width="0.22">-0.002</text><text x="330.74" y="538.80" font-size="10" text-anchor="middle" fill="#111" stroke="#111" stroke-width="0.22">-0.3</text><text x="372.10" y="538.80" font-size="10" text-anchor="middle" fill="#111" stroke="#111" stroke-width="0.22">-0.2</text><text x="413.46" y="538.80" font-size="10" text-anchor="middle" fill="#111" stroke="#111" stroke-width="0.22">-0.1</text><text x="454.82" y="538.80" font-size="10" text-anchor="middle" fill="#111" stroke="#111" stroke-width="0.22">0</text><text x="496.18" y="538.80" font-size="10" text-anchor="middle" fill="#111" stroke="#111" stroke-width="0.22">0.1</text><text transform="translate(51.6,287.8) rotate(-90) scale(0.88,1)" font-size="14.5" fill="#111">D<tspan font-size="10" dy="4.6">yx</tspan></text><text transform="translate(299.9,288.0) rotate(-90) scale(0.88,1)" font-size="14.5" fill="#111">D<tspan font-size="10" dy="4.6">yx</tspan></text><text transform="translate(51.6,461.0) rotate(-90) scale(0.88,1)" font-size="14.5" fill="#111">D<tspan font-size="10" dy="4.6">yx</tspan></text><text transform="translate(299.9,461.0) rotate(-90) scale(0.88,1)" font-size="14.5" fill="#111">D<tspan font-size="10" dy="4.6">yx</tspan></text><text transform="translate(34.2,448.5) rotate(-90)" font-size="15" fill="#111">Berry Curavture Dipole (Å<tspan font-size="10" dy="-5.5">-1</tspan><tspan dy="5.5">)</tspan></text><text x="167" y="564.4" font-size="15" letter-spacing="-0.2" fill="#111">E-E<tspan font-size="13" dy="2.6">f</tspan><tspan dy="-2.6"> (eV)</tspan></text><text x="395.6" y="564.4" font-size="15" letter-spacing="-0.2" fill="#111">E-E<tspan font-size="13" dy="2.6">f</tspan><tspan dy="-2.6"> (eV)</tspan></text><text x="0.2" y="230.5" font-size="13.5" fill="#111" font-family="Liberation Sans, sans-serif">b</text><text x="-0.3" y="627.2" font-size="13.5" fill="#111" stroke="#111" stroke-width="0.3" font-family="Liberation Sans, sans-serif">c</text><path d="M61.6,780.8V620.2H283.3M319.2,620.2H539.5V780.6H483.7M61.6,780.8H140.6" fill="none" stroke="#2a2a2a" stroke-width="1.3"/><circle cx="301.3" cy="617.3" r="17.9" fill="#fff" stroke="#2a2a2a" stroke-width="1.3"/><text x="290.0" y="621.0" font-size="19" fill="#111">V<tspan font-size="12" dy="3.6">nl</tspan></text><g id="crystal"><path d="M152.4,762.1L146.6,751.7M152.4,762.1L143.3,760.3M152.4,762.1L139.9,769.0M152.4,762.1L162.1,755.7M152.4,762.1L156.6,769.3M155.4,754.3L149.6,743.9M155.4,754.3L146.3,752.5M155.4,754.3L143.0,761.1M155.4,754.3L163.9,748.6M155.4,754.3L159.4,761.5M158.5,746.4L152.6,736.0M158.5,746.4L149.3,744.7M158.5,746.4L146.0,753.3M158.5,746.4L166.7,740.8M158.5,746.4L162.8,754.6M161.5,738.6L155.7,728.2M161.5,738.6L152.3,736.8M161.5,738.6L149.0,745.4M161.5,738.6L169.6,733.0M161.5,738.6L165.6,746.8M164.6,730.7L158.7,720.3M164.6,730.7L155.4,729.0M164.6,730.7L152.0,737.6M164.6,730.7L172.4,725.2M164.6,730.7L168.0,738.0M167.6,722.9L161.7,712.5M167.6,722.9L158.4,721.1M167.6,722.9L155.1,729.8M167.6,722.9L175.3,717.3M167.6,722.9L170.8,730.2M177.3,758.0L175.2,746.0M177.3,758.0L190.4,750.5M177.3,758.0L187.1,759.1M180.4,749.9L178.1,738.1M180.4,749.9L175.1,746.7M180.4,749.9L193.4,742.5M180.4,749.9L190.1,751.2M183.6,741.8L181.0,730.1M183.6,741.8L178.0,738.7M183.6,741.8L196.5,734.6M183.6,741.8L193.2,743.2M186.7,733.7L183.8,722.2M186.7,733.7L180.9,730.8M186.7,733.7L199.6,726.6M186.7,733.7L196.3,735.2M189.8,725.6L186.7,714.3M189.8,725.6L183.8,722.9M189.8,725.6L202.6,718.7M189.8,725.6L199.3,727.3M214.4,755.5L208.7,745.1M214.4,755.5L205.4,753.7M214.4,755.5L202.1,762.3M214.4,755.5L223.1,750.0M214.4,755.5L218.6,763.0M217.5,747.4L211.8,737.1M217.5,747.4L208.5,745.7M217.5,747.4L205.2,754.3M217.5,747.4L226.0,742.0M217.5,747.4L222.0,756.0M220.7,739.2L214.9,729.1M220.7,739.2L211.6,737.7M220.7,739.2L208.2,746.4M220.7,739.2L228.9,734.0M220.7,739.2L224.9,748.0M223.8,731.1L217.9,721.1M223.8,731.1L214.6,729.8M223.8,731.1L211.3,738.4M223.8,731.1L231.8,726.0M223.8,731.1L227.4,739.0M236.6,759.4L234.6,747.4M236.6,759.4L249.5,751.9M236.6,759.4L246.1,760.7M239.7,751.1L237.5,739.3M239.7,751.1L234.5,748.0M239.7,751.1L252.5,743.8M239.7,751.1L249.2,752.5M242.7,742.8L240.3,731.2M242.7,742.8L237.4,739.9M242.7,742.8L255.6,735.7M242.7,742.8L252.2,744.4M245.8,734.4L243.2,723.1M245.8,734.4L240.2,731.8M245.8,734.4L258.6,727.6M245.8,734.4L255.3,736.3M248.8,726.1L246.1,715.0M248.8,726.1L243.1,723.7M248.8,726.1L261.7,719.4M248.8,726.1L258.3,728.2M273.3,757.1L267.7,746.5M273.3,757.1L264.3,755.3M273.3,757.1L260.9,764.0M273.3,757.1L282.1,751.1M273.3,757.1L277.7,764.1M276.4,748.8L270.8,738.4M276.4,748.8L267.4,747.1M276.4,748.8L264.0,755.9M276.4,748.8L285.0,743.1M276.4,748.8L281.1,756.9M279.6,740.5L273.9,730.3M279.6,740.5L270.5,739.0M279.6,740.5L267.1,747.8M279.6,740.5L287.9,735.0M279.6,740.5L284.0,748.9M282.7,732.2L277.0,722.2M282.7,732.2L273.6,730.9M282.7,732.2L270.2,739.7M282.7,732.2L290.8,727.0M282.7,732.2L286.4,739.9M293.3,760.5L292.6,748.3M293.3,760.5L307.4,752.9M293.3,760.5L304.0,761.7M296.4,752.2L295.5,740.3M296.4,752.2L310.4,744.8M296.4,752.2L307.0,753.6M299.4,743.9L298.4,732.2M299.4,743.9L313.5,736.7M299.4,743.9L310.1,745.4M302.4,735.5L301.2,724.2M302.4,735.5L316.5,728.6M302.4,735.5L313.2,737.3M305.5,727.2L304.1,716.1M305.5,727.2L319.6,720.5M305.5,727.2L316.2,729.2M332.8,757.7L326.8,747.3M332.8,757.7L323.5,756.0M332.8,757.7L320.1,764.8M332.8,757.7L341.3,752.1M332.8,757.7L336.8,765.1M335.9,749.8L329.9,739.4M335.9,749.8L326.5,748.1M335.9,749.8L323.2,756.8M335.9,749.8L344.2,744.2M335.9,749.8L340.1,758.1M339.1,741.8L333.0,731.4M339.1,741.8L329.6,740.2M339.1,741.8L326.3,748.9M339.1,741.8L347.1,736.2M339.1,741.8L343.0,750.2M342.2,733.9L336.1,723.5M342.2,733.9L332.7,732.2M342.2,733.9L329.4,741.0M342.2,733.9L350.0,728.3M342.2,733.9L345.5,741.3M353.8,760.5L352.2,749.0M353.8,760.5L367.4,753.6M353.8,760.5L364.1,762.1M357.3,752.6L355.3,741.1M357.3,752.6L352.3,749.8M357.3,752.6L370.6,745.8M357.3,752.6L367.3,754.3M360.8,744.7L358.3,733.2M360.8,744.7L355.3,741.9M360.8,744.7L373.8,738.0M360.8,744.7L370.5,746.5M364.2,736.8L361.4,725.3M364.2,736.8L358.4,734.0M364.2,736.8L377.0,730.2M364.2,736.8L373.7,738.7M367.7,728.9L364.4,717.4M367.7,728.9L361.4,726.1M367.7,728.9L380.2,722.4M367.7,728.9L376.9,730.9M391.6,759.4L386.0,748.9M391.6,759.4L382.7,757.4M391.6,759.4L379.5,765.9M391.6,759.4L400.6,753.6M391.6,759.4L396.2,766.5M394.8,751.3L389.1,740.9M394.8,751.3L385.8,749.5M394.8,751.3L382.5,758.0M394.8,751.3L403.5,745.7M394.8,751.3L399.6,759.4M397.9,743.1L392.2,733.0M397.9,743.1L388.9,741.5M397.9,743.1L385.6,750.1M397.9,743.1L406.4,737.7M397.9,743.1L402.5,751.5M401.1,735.0L395.2,725.1M401.1,735.0L391.9,733.6M401.1,735.0L388.7,742.1M401.1,735.0L409.3,729.8M401.1,735.0L404.9,742.6M413.8,762.7L412.1,750.8M413.8,762.7L427.2,755.2M413.8,762.7L423.9,763.7M416.9,754.5L414.9,742.9M416.9,754.5L430.2,747.2M416.9,754.5L426.9,755.7M419.9,746.4L417.8,734.9M419.9,746.4L414.8,743.5M419.9,746.4L433.2,739.3M419.9,746.4L429.9,747.8M422.9,738.2L420.6,727.0M422.9,738.2L417.7,735.5M422.9,738.2L436.2,731.3M422.9,738.2L432.9,739.9M426.0,730.0L423.5,719.0M426.0,730.0L420.5,727.6M426.0,730.0L439.2,723.4M426.0,730.0L435.9,731.9M180.0,819.4L173.5,808.7M180.0,819.4L170.2,817.3M180.0,819.4L166.9,825.8M180.0,819.4L189.8,812.5M180.0,819.4L184.2,826.2M183.1,811.2L176.5,800.8M183.1,811.2L173.2,809.3M183.1,811.2L169.9,817.8M183.1,811.2L191.5,805.3M183.1,811.2L187.1,818.2M186.1,803.0L179.5,792.8M186.1,803.0L176.2,801.4M186.1,803.0L172.9,809.9M186.1,803.0L194.4,797.3M186.1,803.0L190.4,811.1M189.1,794.9L182.5,784.9M189.1,794.9L179.2,793.4M189.1,794.9L175.9,802.0M189.1,794.9L197.3,789.3M189.1,794.9L193.3,803.2M192.2,786.7L185.5,777.0M192.2,786.7L182.2,785.5M192.2,786.7L179.0,794.0M192.2,786.7L200.1,781.4M192.2,786.7L195.7,794.3M204.9,815.5L202.9,802.9M204.9,815.5L197.6,815.9M204.9,815.5L217.8,807.0M204.9,815.5L214.4,815.8M208.1,807.0L205.8,794.8M208.1,807.0L200.5,807.8M208.1,807.0L220.9,798.8M208.1,807.0L217.5,807.5M211.2,798.5L208.7,786.7M211.2,798.5L205.7,795.3M211.2,798.5L224.0,790.5M211.2,798.5L220.6,799.3M214.4,790.0L211.6,778.6M214.4,790.0L208.6,787.2M214.4,790.0L227.1,782.3M214.4,790.0L223.7,791.1M238.9,820.5L233.1,809.2M238.9,820.5L229.7,818.0M238.9,820.5L226.3,826.8M238.9,820.5L248.5,813.8M238.9,820.5L242.9,827.6M241.9,812.3L236.1,801.1M241.9,812.3L232.8,809.9M241.9,812.3L229.4,818.7M241.9,812.3L250.2,806.5M241.9,812.3L245.7,819.6M245.0,804.1L239.2,793.1M245.0,804.1L235.8,801.9M245.0,804.1L232.4,810.7M245.0,804.1L253.1,798.5M245.0,804.1L249.1,812.5M248.1,796.0L242.3,785.0M248.1,796.0L238.9,793.8M248.1,796.0L235.5,802.6M248.1,796.0L256.0,790.5M248.1,796.0L251.9,804.5M251.1,787.8L242.0,785.7M251.1,787.8L238.6,794.5M251.1,787.8L258.9,782.5M251.1,787.8L254.4,795.5M263.8,815.5L261.6,803.6M263.8,815.5L257.9,811.9M263.8,815.5L276.5,808.2M263.8,815.5L273.2,816.9M267.1,807.2L264.6,795.5M267.1,807.2L261.6,804.2M267.1,807.2L279.7,800.1M267.1,807.2L276.4,808.8M270.5,798.8L267.6,787.4M270.5,798.8L264.6,796.1M270.5,798.8L282.9,792.0M270.5,798.8L279.5,800.7M273.8,790.5L270.6,779.3M273.8,790.5L267.6,788.0M273.8,790.5L286.1,783.9M273.8,790.5L282.7,792.6M297.8,821.6L291.8,811.0M297.8,821.6L288.5,819.7M297.8,821.6L285.1,828.4M297.8,821.6L306.9,814.8M297.8,821.6L301.4,828.6M301.0,813.4L294.9,802.9M301.0,813.4L291.6,811.6M301.0,813.4L288.2,820.3M301.0,813.4L308.8,807.6M301.0,813.4L304.3,820.6M304.1,805.2L298.0,794.9M304.1,805.2L294.7,803.6M304.1,805.2L291.3,812.3M304.1,805.2L311.7,799.5M304.1,805.2L307.6,813.5M307.3,797.1L301.1,786.9M307.3,797.1L297.8,795.6M307.3,797.1L294.4,804.3M307.3,797.1L314.7,791.5M307.3,797.1L310.5,805.5M310.5,788.9L300.9,787.5M310.5,788.9L297.5,796.2M310.5,788.9L317.6,783.5M310.5,788.9L313.1,796.5M323.3,816.6L320.4,804.6M323.3,816.6L316.6,812.9M323.3,816.6L336.0,809.2M323.3,816.6L332.6,817.9M326.4,808.3L323.3,796.5M326.4,808.3L320.3,805.2M326.4,808.3L339.1,801.1M326.4,808.3L335.7,809.8M329.6,799.9L326.2,788.4M329.6,799.9L323.2,797.1M329.6,799.9L342.2,793.0M329.6,799.9L338.8,801.7M332.7,791.6L329.1,780.3M332.7,791.6L326.1,789.0M332.7,791.6L345.3,784.9M332.7,791.6L341.9,793.6M357.2,822.1L351.3,811.7M357.2,822.1L347.9,820.4M357.2,822.1L344.5,829.1M357.2,822.1L366.9,815.6M357.2,822.1L361.3,829.4M360.4,814.1L354.4,803.7M360.4,814.1L351.0,812.4M360.4,814.1L347.7,821.2M360.4,814.1L368.8,808.3M360.4,814.1L364.3,821.4M363.6,806.0L357.5,795.8M363.6,806.0L354.1,804.5M363.6,806.0L350.8,813.2M363.6,806.0L371.7,800.4M363.6,806.0L367.7,814.4M366.8,798.0L360.6,787.8M366.8,798.0L357.3,796.5M366.8,798.0L353.9,805.2M366.8,798.0L374.6,792.4M366.8,798.0L370.6,806.4M370.0,790.0L360.4,788.5M370.0,790.0L357.0,797.3M370.0,790.0L377.6,784.5M370.0,790.0L373.1,797.5M382.2,817.7L380.1,805.6M382.2,817.7L395.1,810.5M382.2,817.7L391.8,819.1M385.3,809.6L383.0,797.6M385.3,809.6L380.0,806.3M385.3,809.6L398.2,802.6M385.3,809.6L394.9,811.1M388.5,801.4L385.9,789.6M388.5,801.4L382.9,798.3M388.5,801.4L401.3,794.6M388.5,801.4L398.0,803.2M391.6,793.3L388.8,781.6M391.6,793.3L385.8,790.3M391.6,793.3L404.3,786.7M391.6,793.3L401.0,795.3M416.1,823.2L410.4,813.0M416.1,823.2L407.1,821.6M416.1,823.2L403.8,830.1M416.1,823.2L426.3,817.2M416.1,823.2L420.6,831.0M419.3,815.2L413.5,805.1M419.3,815.2L410.2,813.7M419.3,815.2L406.9,822.2M419.3,815.2L429.2,809.3M419.3,815.2L423.6,823.1M422.5,807.2L416.5,797.2M422.5,807.2L413.2,805.8M422.5,807.2L410.0,814.3M422.5,807.2L431.0,802.0M422.5,807.2L426.5,815.1M425.6,799.1L419.6,789.3M425.6,799.1L416.3,797.9M425.6,799.1L413.0,806.4M425.6,799.1L434.0,794.0M425.6,799.1L429.9,808.1M428.8,791.1L419.4,790.0M428.8,791.1L416.1,798.6M428.8,791.1L436.9,786.0M428.8,791.1L432.8,800.1M437.7,826.0L436.2,813.4M437.7,826.0L451.1,819.3M437.7,826.0L447.7,828.0M440.9,818.0L439.3,806.8M440.9,818.0L454.2,811.3M440.9,818.0L450.8,820.0M444.1,810.0L442.3,798.9M444.1,810.0L438.7,807.3M444.1,810.0L457.3,803.4M444.1,810.0L454.0,812.1M447.4,802.1L445.3,790.9M447.4,802.1L442.2,799.7M447.4,802.1L460.4,795.4M447.4,802.1L457.1,804.1M450.6,794.1L448.2,783.0M450.6,794.1L445.2,791.7M450.6,794.1L463.6,787.5M450.6,794.1L460.2,796.2M453.8,786.1L451.2,775.0M453.8,786.1L448.2,783.7M453.8,786.1L466.7,779.6M453.8,786.1L463.3,788.3M152.4,762.1L160.4,760.6M155.4,754.3L161.6,757.6M158.5,746.4L162.8,754.6M177.3,758.0L169.9,759.0M180.4,749.9L171.1,755.9M152.4,762.1L162.1,755.7M155.4,754.3L163.3,752.7M158.5,746.4L164.4,749.8M161.5,738.6L165.6,746.8M177.3,758.0L171.6,754.2M180.4,749.9L172.8,751.1M183.6,741.8L173.9,748.0M180.0,819.4L188.1,817.3M183.1,811.2L189.3,814.2M186.1,803.0L190.4,811.1M204.9,815.5L197.6,815.9M208.1,807.0L198.8,812.6M180.0,819.4L189.8,812.5M183.1,811.2L191.0,809.4M186.1,803.0L192.1,806.3M189.1,794.9L193.3,803.2M204.9,815.5L199.3,811.0M208.1,807.0L200.5,807.8M211.2,798.5L201.7,804.5M214.4,755.5L220.9,759.0M217.5,747.4L222.0,756.0M236.6,759.4L229.3,760.5M239.7,751.1L230.5,757.4M214.4,755.5L222.5,754.2M217.5,747.4L223.7,751.1M220.7,739.2L224.9,748.0M236.6,759.4L231.0,755.6M239.7,751.1L232.1,752.5M242.7,742.8L233.3,749.3M238.9,820.5L246.8,818.7M241.9,812.3L247.9,815.6M245.0,804.1L249.1,812.5M263.8,815.5L256.2,816.8M267.1,807.2L257.5,813.6M238.9,820.5L248.5,813.8M241.9,812.3L249.6,810.7M245.0,804.1L250.8,807.6M248.1,796.0L251.9,804.5M263.8,815.5L257.9,811.9M267.1,807.2L259.2,808.7M270.5,798.8L260.4,805.6M273.3,757.1L279.9,760.1M276.4,748.8L281.1,756.9M293.3,760.5L287.5,761.4M296.4,752.2L288.7,758.2M273.3,757.1L281.6,755.2M276.4,748.8L282.8,752.1M279.6,740.5L284.0,748.9M293.3,760.5L289.2,756.5M296.4,752.2L290.4,753.3M299.4,743.9L291.5,750.2M297.8,821.6L305.2,819.7M301.0,813.4L306.4,816.6M304.1,805.2L307.6,813.5M323.3,816.6L314.9,817.8M326.4,808.3L316.1,814.7M297.8,821.6L306.9,814.8M301.0,813.4L308.1,811.7M304.1,805.2L309.3,808.6M307.3,797.1L310.5,805.5M323.3,816.6L316.6,812.9M326.4,808.3L317.8,809.7M329.6,799.9L319.0,806.6M332.8,757.7L339.0,761.1M335.9,749.8L340.1,758.1M353.8,760.5L346.9,762.2M357.3,752.6L348.3,759.2M332.8,757.7L340.6,756.2M335.9,749.8L341.8,753.2M339.1,741.8L343.0,750.2M353.8,760.5L348.6,757.3M357.3,752.6L349.9,754.3M360.8,744.7L351.3,751.3M357.2,822.1L365.2,820.5M360.4,814.1L366.4,817.4M363.6,806.0L367.7,814.4M382.2,817.7L374.7,818.8M385.3,809.6L375.9,815.7M357.2,822.1L366.9,815.6M360.4,814.1L368.1,812.5M363.6,806.0L369.3,809.5M366.8,798.0L370.6,806.4M382.2,817.7L376.4,813.9M385.3,809.6L377.6,810.8M388.5,801.4L378.8,807.7M391.6,759.4L398.4,762.5M394.8,751.3L399.6,759.4M413.8,762.7L406.9,763.8M416.9,754.5L408.0,760.7M391.6,759.4L400.1,757.7M394.8,751.3L401.3,754.6M397.9,743.1L402.5,751.5M413.8,762.7L408.5,759.0M416.9,754.5L409.7,755.9M419.9,746.4L410.8,752.7M416.1,823.2L426.3,817.2M419.3,815.2L427.5,814.2M422.5,807.2L428.7,811.1M425.6,799.1L429.9,808.1M437.7,826.0L434.5,818.3M440.9,818.0L435.7,815.3M444.1,810.0L437.0,812.2M447.4,802.1L438.2,809.2M419.3,815.2L429.2,809.3M422.5,807.2L430.4,806.2M425.6,799.1L431.6,803.2M428.8,791.1L432.8,800.1M437.7,826.0L436.2,813.4M440.9,818.0L437.4,810.4M444.1,810.0L438.7,807.3M447.4,802.1L439.9,804.3M450.6,794.1L441.1,801.3" stroke="#5e5e5c" stroke-width="2.4" fill="none"/><path d="M146.6,751.7L141.8,743.2M143.3,760.3L135.8,758.9M139.9,769.0L129.7,774.6M162.1,755.7L168.1,751.8M156.6,769.3L160.0,775.2M149.6,743.9L144.8,735.4M146.3,752.5L138.8,751.1M143.0,761.1L132.8,766.8M163.9,748.6L170.8,744.0M159.4,761.5L162.7,767.4M152.6,736.0L147.9,727.5M149.3,744.7L141.8,743.2M146.0,753.3L135.8,758.9M166.7,740.8L173.4,736.2M162.8,754.6L165.4,759.6M155.7,728.2L150.9,719.7M152.3,736.8L144.8,735.4M149.0,745.4L138.8,751.1M169.6,733.0L176.1,728.4M165.6,746.8L168.1,751.8M158.7,720.3L153.9,711.8M155.4,729.0L147.9,727.5M152.0,737.6L141.8,743.2M172.4,725.2L178.8,720.6M168.0,738.0L170.8,744.0M161.7,712.5L156.9,704.0M158.4,721.1L150.9,719.7M155.1,729.8L144.8,735.4M175.3,717.3L181.5,712.8M170.8,730.2L173.4,736.2M175.2,746.0L173.4,736.2M190.4,750.5L201.1,744.4M187.1,759.1L195.0,760.0M178.1,738.1L176.1,728.4M175.1,746.7L170.8,744.0M193.4,742.5L204.1,736.5M190.1,751.2L198.1,752.2M181.0,730.1L178.8,720.6M178.0,738.7L173.4,736.2M196.5,734.6L207.1,728.7M193.2,743.2L201.1,744.4M183.8,722.2L181.5,712.8M180.9,730.8L176.1,728.4M199.6,726.6L210.1,720.8M196.3,735.2L204.1,736.5M186.7,714.3L184.2,705.0M183.8,722.9L178.8,720.6M202.6,718.7L213.2,713.0M199.3,727.3L207.1,728.7M208.7,745.1L204.1,736.5M205.4,753.7L198.1,752.2M202.1,762.3L192.0,767.9M223.1,750.0L230.3,745.4M218.6,763.0L222.1,769.1M211.8,737.1L207.1,728.7M208.5,745.7L201.1,744.4M205.2,754.3L195.0,760.0M226.0,742.0L233.0,737.6M222.0,756.0L224.8,761.2M214.9,729.1L210.1,720.8M211.6,737.7L204.1,736.5M208.2,746.4L198.1,752.2M228.9,734.0L235.7,729.7M224.9,748.0L227.5,753.3M217.9,721.1L213.2,713.0M214.6,729.8L207.1,728.7M211.3,738.4L201.1,744.4M231.8,726.0L238.4,721.8M227.4,739.0L230.3,745.4M234.6,747.4L233.0,737.6M249.5,751.9L260.0,745.8M246.1,760.7L253.9,761.7M237.5,739.3L235.7,729.7M234.5,748.0L230.3,745.4M252.5,743.8L263.1,737.9M249.2,752.5L257.0,753.8M240.3,731.2L238.4,721.8M237.4,739.9L233.0,737.6M255.6,735.7L266.1,729.9M252.2,744.4L260.0,745.8M243.2,723.1L241.1,713.9M240.2,731.8L235.7,729.7M258.6,727.6L269.2,722.0M255.3,736.3L263.1,737.9M246.1,715.0L243.9,706.0M243.1,723.7L238.4,721.8M261.7,719.4L272.3,714.0M258.3,728.2L266.1,729.9M267.7,746.5L263.1,737.9M264.3,755.3L257.0,753.8M260.9,764.0L250.8,769.6M282.1,751.1L289.4,746.2M277.7,764.1L281.3,769.8M270.8,738.4L266.1,729.9M267.4,747.1L260.0,745.8M264.0,755.9L253.9,761.7M285.0,743.1L292.1,738.4M281.1,756.9L284.0,761.9M273.9,730.3L269.2,722.0M270.5,739.0L263.1,737.9M267.1,747.8L257.0,753.8M287.9,735.0L294.8,730.5M284.0,748.9L286.7,754.1M277.0,722.2L272.3,714.0M273.6,730.9L266.1,729.9M270.2,739.7L260.0,745.8M290.8,727.0L297.5,722.7M286.4,739.9L289.4,746.2M292.6,748.3L292.1,738.4M307.4,752.9L318.9,746.8M304.0,761.7L312.7,762.6M295.5,740.3L294.8,730.5M310.4,744.8L321.9,738.8M307.0,753.6L315.8,754.7M298.4,732.2L297.5,722.7M313.5,736.7L325.0,730.9M310.1,745.4L318.9,746.8M301.2,724.2L300.2,714.8M316.5,728.6L328.0,722.9M313.2,737.3L321.9,738.8M304.1,716.1L302.9,707.0M319.6,720.5L331.1,715.0M316.2,729.2L325.0,730.9M326.8,747.3L321.9,738.8M323.5,756.0L315.8,754.7M320.1,764.8L309.7,770.6M341.3,752.1L348.2,747.4M336.8,765.1L340.0,771.1M329.9,739.4L325.0,730.9M326.5,748.1L318.9,746.8M323.2,756.8L312.7,762.6M344.2,744.2L350.9,739.6M340.1,758.1L342.7,763.2M333.0,731.4L328.0,722.9M329.6,740.2L321.9,738.8M326.3,748.9L315.8,754.7M347.1,736.2L353.6,731.7M343.0,750.2L345.4,755.3M336.1,723.5L331.1,715.0M332.7,732.2L325.0,730.9M329.4,741.0L318.9,746.8M350.0,728.3L356.3,723.8M345.5,741.3L348.2,747.4M352.2,749.0L350.9,739.6M367.4,753.6L378.5,748.0M364.1,762.1L372.5,763.5M355.3,741.1L353.6,731.7M352.3,749.8L348.2,747.4M370.6,745.8L381.5,740.2M367.3,754.3L375.5,755.8M358.3,733.2L356.3,723.8M355.3,741.9L350.9,739.6M373.8,738.0L384.4,732.5M370.5,746.5L378.5,748.0M361.4,725.3L359.1,715.9M358.4,734.0L353.6,731.7M377.0,730.2L387.4,724.8M373.7,738.7L381.5,740.2M364.4,717.4L361.8,708.0M361.4,726.1L356.3,723.8M380.2,722.4L390.4,717.0M376.9,730.9L384.4,732.5M386.0,748.9L381.5,740.2M382.7,757.4L375.5,755.8M379.5,765.9L369.5,771.2M400.6,753.6L408.0,748.9M396.2,766.5L399.9,772.2M389.1,740.9L384.4,732.5M385.8,749.5L378.5,748.0M382.5,758.0L372.5,763.5M403.5,745.7L410.7,741.1M399.6,759.4L402.6,764.4M392.2,733.0L387.4,724.8M388.9,741.5L381.5,740.2M385.6,750.1L375.5,755.8M406.4,737.7L413.3,733.3M402.5,751.5L405.3,756.7M395.2,725.1L390.4,717.0M391.9,733.6L384.4,732.5M388.7,742.1L378.5,748.0M409.3,729.8L416.0,725.6M404.9,742.6L408.0,748.9M412.1,750.8L410.7,741.1M427.2,755.2L438.1,749.0M423.9,763.7L432.1,764.5M414.9,742.9L413.3,733.3M430.2,747.2L441.1,741.2M426.9,755.7L435.1,756.8M417.8,734.9L416.0,725.6M414.8,743.5L410.7,741.1M433.2,739.3L444.1,733.5M429.9,747.8L438.1,749.0M420.6,727.0L418.7,717.8M417.7,735.5L413.3,733.3M436.2,731.3L447.0,725.8M432.9,739.9L441.1,741.2M423.5,719.0L421.4,710.0M420.5,727.6L416.0,725.6M439.2,723.4L450.0,718.0M435.9,731.9L444.1,733.5M173.5,808.7L168.1,800.0M170.2,817.3L162.1,815.5M166.9,825.8L156.2,831.0M189.8,812.5L195.8,808.3M184.2,826.2L187.7,831.7M176.5,800.8L171.1,792.2M173.2,809.3L165.1,807.8M169.9,817.8L159.2,823.2M191.5,805.3L198.5,800.4M187.1,818.2L190.4,823.9M179.5,792.8L174.1,784.5M176.2,801.4L168.1,800.0M172.9,809.9L162.1,815.5M194.4,797.3L201.2,792.6M190.4,811.1L193.1,816.1M182.5,784.9L177.1,776.8M179.2,793.4L171.1,792.2M175.9,802.0L165.1,807.8M197.3,789.3L203.9,784.8M193.3,803.2L195.8,808.3M185.5,777.0L180.1,769.0M182.2,785.5L174.1,784.5M179.0,794.0L168.1,800.0M200.1,781.4L206.6,777.0M195.7,794.3L198.5,800.4M202.9,802.9L201.2,792.6M197.6,815.9L193.1,816.1M217.8,807.0L228.3,800.0M214.4,815.8L222.2,816.0M205.8,794.8L203.9,784.8M200.5,807.8L195.8,808.3M220.9,798.8L231.4,792.0M217.5,807.5L225.2,808.0M208.7,786.7L206.6,777.0M205.7,795.3L201.2,792.6M224.0,790.5L234.5,784.0M220.6,799.3L228.3,800.0M211.6,778.6L209.3,769.2M208.6,787.2L203.9,784.8M227.1,782.3L237.6,776.0M223.7,791.1L231.4,792.0M233.1,809.2L228.3,800.0M229.7,818.0L222.2,816.0M226.3,826.8L216.0,832.0M248.5,813.8L254.3,809.7M242.9,827.6L246.1,833.4M236.1,801.1L231.4,792.0M232.8,809.9L225.2,808.0M229.4,818.7L219.1,824.0M250.2,806.5L257.0,801.8M245.7,819.6L248.9,825.5M239.2,793.1L234.5,784.0M235.8,801.9L228.3,800.0M232.4,810.7L222.2,816.0M253.1,798.5L259.8,793.9M249.1,812.5L251.6,817.6M242.3,785.0L237.6,776.0M238.9,793.8L231.4,792.0M235.5,802.6L225.2,808.0M256.0,790.5L262.5,786.0M251.9,804.5L254.3,809.7M242.0,785.7L234.5,784.0M238.6,794.5L228.3,800.0M258.9,782.5L265.2,778.1M254.4,795.5L257.0,801.8M261.6,803.6L259.8,793.9M257.9,811.9L254.3,809.7M276.5,808.2L287.0,802.2M273.2,816.9L280.9,818.1M264.6,795.5L262.5,786.0M261.6,804.2L257.0,801.8M279.7,800.1L290.0,794.3M276.4,808.8L283.9,810.2M267.6,787.4L265.2,778.1M264.6,796.1L259.8,793.9M282.9,792.0L293.0,786.4M279.5,800.7L287.0,802.2M270.6,779.3L267.9,770.2M267.6,788.0L262.5,786.0M286.1,783.9L296.1,778.5M282.7,792.6L290.0,794.3M291.8,811.0L287.0,802.2M288.5,819.7L280.9,818.1M285.1,828.4L274.8,833.9M306.9,814.8L312.5,810.7M301.4,828.6L304.3,834.4M294.9,802.9L290.0,794.3M291.6,811.6L283.9,810.2M288.2,820.3L277.8,826.0M308.8,807.6L315.2,802.7M304.3,820.6L307.0,826.5M298.0,794.9L293.0,786.4M294.7,803.6L287.0,802.2M291.3,812.3L280.9,818.1M311.7,799.5L317.9,794.8M307.6,813.5L309.7,818.6M301.1,786.9L296.1,778.5M297.8,795.6L290.0,794.3M294.4,804.3L283.9,810.2M314.7,791.5L320.7,786.9M310.5,805.5L312.5,810.7M300.9,787.5L293.0,786.4M297.5,796.2L287.0,802.2M317.6,783.5L323.4,779.0M313.1,796.5L315.2,802.7M320.4,804.6L317.9,794.8M316.6,812.9L312.5,810.7M336.0,809.2L346.4,803.2M332.6,817.9L340.3,819.0M323.3,796.5L320.7,786.9M320.3,805.2L315.2,802.7M339.1,801.1L349.4,795.3M335.7,809.8L343.3,811.1M326.2,788.4L323.4,779.0M323.2,797.1L317.9,794.8M342.2,793.0L352.5,787.3M338.8,801.7L346.4,803.2M329.1,780.3L326.1,771.1M326.1,789.0L320.7,786.9M345.3,784.9L355.5,779.4M341.9,793.6L349.4,795.3M351.3,811.7L346.4,803.2M347.9,820.4L340.3,819.0M344.5,829.1L334.2,834.9M366.9,815.6L372.9,811.6M361.3,829.4L364.7,835.3M354.4,803.7L349.4,795.3M351.0,812.4L343.3,811.1M347.7,821.2L337.2,827.0M368.8,808.3L375.6,803.6M364.3,821.4L367.4,827.4M357.5,795.8L352.5,787.3M354.1,804.5L346.4,803.2M350.8,813.2L340.3,819.0M371.7,800.4L378.3,795.7M367.7,814.4L370.1,819.5M360.6,787.8L355.5,779.4M357.3,796.5L349.4,795.3M353.9,805.2L343.3,811.1M374.6,792.4L381.1,787.8M370.6,806.4L372.9,811.6M360.4,788.5L352.5,787.3M357.0,797.3L346.4,803.2M377.6,784.5L383.8,779.9M373.1,797.5L375.6,803.6M380.1,805.6L378.3,795.7M395.1,810.5L405.7,804.7M391.8,819.1L399.7,820.2M383.0,797.6L381.1,787.8M380.0,806.3L375.6,803.6M398.2,802.6L408.7,796.9M394.9,811.1L402.7,812.4M385.9,789.6L383.8,779.9M382.9,798.3L378.3,795.7M401.3,794.6L411.7,789.1M398.0,803.2L405.7,804.7M388.8,781.6L386.5,772.0M385.8,790.3L381.1,787.8M404.3,786.7L414.7,781.3M401.0,795.3L408.7,796.9M410.4,813.0L405.7,804.7M407.1,821.6L399.7,820.2M403.8,830.1L393.7,835.8M426.3,817.2L432.6,813.6M420.6,831.0L424.3,837.4M413.5,805.1L408.7,796.9M410.2,813.7L402.7,812.4M406.9,822.2L396.7,828.0M429.2,809.3L435.3,805.6M423.6,823.1L427.1,829.5M416.5,797.2L411.7,789.1M413.2,805.8L405.7,804.7M410.0,814.3L399.7,820.2M431.0,802.0L438.0,797.7M426.5,815.1L429.8,821.5M419.6,789.3L414.7,781.3M416.3,797.9L408.7,796.9M413.0,806.4L402.7,812.4M434.0,794.0L440.8,789.8M429.9,808.1L432.6,813.6M419.4,790.0L411.7,789.1M416.1,798.6L405.7,804.7M436.9,786.0L443.5,781.8M432.8,800.1L435.3,805.6M436.2,813.4L435.3,805.6M451.1,819.3L462.0,813.8M447.7,828.0L455.9,829.6M439.3,806.8L438.0,797.7M454.2,811.3L465.1,805.8M450.8,820.0L459.0,821.7M442.3,798.9L440.8,789.8M438.7,807.3L435.3,805.6M457.3,803.4L468.1,797.9M454.0,812.1L462.0,813.8M445.3,790.9L443.5,781.8M442.2,799.7L438.0,797.7M460.4,795.4L471.2,790.0M457.1,804.1L465.1,805.8M448.2,783.0L446.3,773.9M445.2,791.7L440.8,789.8M463.6,787.5L474.2,782.1M460.2,796.2L468.1,797.9M451.2,775.0L449.0,765.9M448.2,783.7L443.5,781.8M466.7,779.6L477.2,774.2M463.3,788.3L471.2,790.0M160.4,760.6L165.4,759.6M161.6,757.6L165.4,759.6M162.8,754.6L165.4,759.6M169.9,759.0L165.4,759.6M171.1,755.9L165.4,759.6M162.1,755.7L168.1,751.8M163.3,752.7L168.1,751.8M164.4,749.8L168.1,751.8M165.6,746.8L168.1,751.8M171.6,754.2L168.1,751.8M172.8,751.1L168.1,751.8M173.9,748.0L168.1,751.8M188.1,817.3L193.1,816.1M189.3,814.2L193.1,816.1M190.4,811.1L193.1,816.1M197.6,815.9L193.1,816.1M198.8,812.6L193.1,816.1M189.8,812.5L195.8,808.3M191.0,809.4L195.8,808.3M192.1,806.3L195.8,808.3M193.3,803.2L195.8,808.3M199.3,811.0L195.8,808.3M200.5,807.8L195.8,808.3M201.7,804.5L195.8,808.3M220.9,759.0L224.8,761.2M222.0,756.0L224.8,761.2M229.3,760.5L224.8,761.2M230.5,757.4L224.8,761.2M222.5,754.2L227.5,753.3M223.7,751.1L227.5,753.3M224.9,748.0L227.5,753.3M231.0,755.6L227.5,753.3M232.1,752.5L227.5,753.3M233.3,749.3L227.5,753.3M246.8,818.7L251.6,817.6M247.9,815.6L251.6,817.6M249.1,812.5L251.6,817.6M256.2,816.8L251.6,817.6M257.5,813.6L251.6,817.6M248.5,813.8L254.3,809.7M249.6,810.7L254.3,809.7M250.8,807.6L254.3,809.7M251.9,804.5L254.3,809.7M257.9,811.9L254.3,809.7M259.2,808.7L254.3,809.7M260.4,805.6L254.3,809.7M279.9,760.1L284.0,761.9M281.1,756.9L284.0,761.9M287.5,761.4L284.0,761.9M288.7,758.2L284.0,761.9M281.6,755.2L286.7,754.1M282.8,752.1L286.7,754.1M284.0,748.9L286.7,754.1M289.2,756.5L286.7,754.1M290.4,753.3L286.7,754.1M291.5,750.2L286.7,754.1M305.2,819.7L309.7,818.6M306.4,816.6L309.7,818.6M307.6,813.5L309.7,818.6M314.9,817.8L309.7,818.6M316.1,814.7L309.7,818.6M306.9,814.8L312.5,810.7M308.1,811.7L312.5,810.7M309.3,808.6L312.5,810.7M310.5,805.5L312.5,810.7M316.6,812.9L312.5,810.7M317.8,809.7L312.5,810.7M319.0,806.6L312.5,810.7M339.0,761.1L342.7,763.2M340.1,758.1L342.7,763.2M346.9,762.2L342.7,763.2M348.3,759.2L342.7,763.2M340.6,756.2L345.4,755.3M341.8,753.2L345.4,755.3M343.0,750.2L345.4,755.3M348.6,757.3L345.4,755.3M349.9,754.3L345.4,755.3M351.3,751.3L345.4,755.3M365.2,820.5L370.1,819.5M366.4,817.4L370.1,819.5M367.7,814.4L370.1,819.5M374.7,818.8L370.1,819.5M375.9,815.7L370.1,819.5M366.9,815.6L372.9,811.6M368.1,812.5L372.9,811.6M369.3,809.5L372.9,811.6M370.6,806.4L372.9,811.6M376.4,813.9L372.9,811.6M377.6,810.8L372.9,811.6M378.8,807.7L372.9,811.6M398.4,762.5L402.6,764.4M399.6,759.4L402.6,764.4M406.9,763.8L402.6,764.4M408.0,760.7L402.6,764.4M400.1,757.7L405.3,756.7M401.3,754.6L405.3,756.7M402.5,751.5L405.3,756.7M408.5,759.0L405.3,756.7M409.7,755.9L405.3,756.7M410.8,752.7L405.3,756.7M426.3,817.2L432.6,813.6M427.5,814.2L432.6,813.6M428.7,811.1L432.6,813.6M429.9,808.1L432.6,813.6M434.5,818.3L432.6,813.6M435.7,815.3L432.6,813.6M437.0,812.2L432.6,813.6M438.2,809.2L432.6,813.6M429.2,809.3L435.3,805.6M430.4,806.2L435.3,805.6M431.6,803.2L435.3,805.6M432.8,800.1L435.3,805.6M436.2,813.4L435.3,805.6M437.4,810.4L435.3,805.6M438.7,807.3L435.3,805.6M439.9,804.3L435.3,805.6M441.1,801.3L435.3,805.6" stroke="#a8a800" stroke-width="2.4" fill="none"/><path d="M152.4,762.1L146.6,751.7M152.4,762.1L143.3,760.3M152.4,762.1L139.9,769.0M152.4,762.1L162.1,755.7M152.4,762.1L156.6,769.3M155.4,754.3L149.6,743.9M155.4,754.3L146.3,752.5M155.4,754.3L143.0,761.1M155.4,754.3L163.9,748.6M155.4,754.3L159.4,761.5M158.5,746.4L152.6,736.0M158.5,746.4L149.3,744.7M158.5,746.4L146.0,753.3M158.5,746.4L166.7,740.8M158.5,746.4L162.8,754.6M161.5,738.6L155.7,728.2M161.5,738.6L152.3,736.8M161.5,738.6L149.0,745.4M161.5,738.6L169.6,733.0M161.5,738.6L165.6,746.8M164.6,730.7L158.7,720.3M164.6,730.7L155.4,729.0M164.6,730.7L152.0,737.6M164.6,730.7L172.4,725.2M164.6,730.7L168.0,738.0M167.6,722.9L161.7,712.5M167.6,722.9L158.4,721.1M167.6,722.9L155.1,729.8M167.6,722.9L175.3,717.3M167.6,722.9L170.8,730.2M177.3,758.0L175.2,746.0M177.3,758.0L190.4,750.5M177.3,758.0L187.1,759.1M180.4,749.9L178.1,738.1M180.4,749.9L175.1,746.7M180.4,749.9L193.4,742.5M180.4,749.9L190.1,751.2M183.6,741.8L181.0,730.1M183.6,741.8L178.0,738.7M183.6,741.8L196.5,734.6M183.6,741.8L193.2,743.2M186.7,733.7L183.8,722.2M186.7,733.7L180.9,730.8M186.7,733.7L199.6,726.6M186.7,733.7L196.3,735.2M189.8,725.6L186.7,714.3M189.8,725.6L183.8,722.9M189.8,725.6L202.6,718.7M189.8,725.6L199.3,727.3M214.4,755.5L208.7,745.1M214.4,755.5L205.4,753.7M214.4,755.5L202.1,762.3M214.4,755.5L223.1,750.0M214.4,755.5L218.6,763.0M217.5,747.4L211.8,737.1M217.5,747.4L208.5,745.7M217.5,747.4L205.2,754.3M217.5,747.4L226.0,742.0M217.5,747.4L222.0,756.0M220.7,739.2L214.9,729.1M220.7,739.2L211.6,737.7M220.7,739.2L208.2,746.4M220.7,739.2L228.9,734.0M220.7,739.2L224.9,748.0M223.8,731.1L217.9,721.1M223.8,731.1L214.6,729.8M223.8,731.1L211.3,738.4M223.8,731.1L231.8,726.0M223.8,731.1L227.4,739.0M236.6,759.4L234.6,747.4M236.6,759.4L249.5,751.9M236.6,759.4L246.1,760.7M239.7,751.1L237.5,739.3M239.7,751.1L234.5,748.0M239.7,751.1L252.5,743.8M239.7,751.1L249.2,752.5M242.7,742.8L240.3,731.2M242.7,742.8L237.4,739.9M242.7,742.8L255.6,735.7M242.7,742.8L252.2,744.4M245.8,734.4L243.2,723.1M245.8,734.4L240.2,731.8M245.8,734.4L258.6,727.6M245.8,734.4L255.3,736.3M248.8,726.1L246.1,715.0M248.8,726.1L243.1,723.7M248.8,726.1L261.7,719.4M248.8,726.1L258.3,728.2M273.3,757.1L267.7,746.5M273.3,757.1L264.3,755.3M273.3,757.1L260.9,764.0M273.3,757.1L282.1,751.1M273.3,757.1L277.7,764.1M276.4,748.8L270.8,738.4M276.4,748.8L267.4,747.1M276.4,748.8L264.0,755.9M276.4,748.8L285.0,743.1M276.4,748.8L281.1,756.9M279.6,740.5L273.9,730.3M279.6,740.5L270.5,739.0M279.6,740.5L267.1,747.8M279.6,740.5L287.9,735.0M279.6,740.5L284.0,748.9M282.7,732.2L277.0,722.2M282.7,732.2L273.6,730.9M282.7,732.2L270.2,739.7M282.7,732.2L290.8,727.0M282.7,732.2L286.4,739.9M293.3,760.5L292.6,748.3M293.3,760.5L307.4,752.9M293.3,760.5L304.0,761.7M296.4,752.2L295.5,740.3M296.4,752.2L310.4,744.8M296.4,752.2L307.0,753.6M299.4,743.9L298.4,732.2M299.4,743.9L313.5,736.7M299.4,743.9L310.1,745.4M302.4,735.5L301.2,724.2M302.4,735.5L316.5,728.6M302.4,735.5L313.2,737.3M305.5,727.2L304.1,716.1M305.5,727.2L319.6,720.5M305.5,727.2L316.2,729.2M332.8,757.7L326.8,747.3M332.8,757.7L323.5,756.0M332.8,757.7L320.1,764.8M332.8,757.7L341.3,752.1M332.8,757.7L336.8,765.1M335.9,749.8L329.9,739.4M335.9,749.8L326.5,748.1M335.9,749.8L323.2,756.8M335.9,749.8L344.2,744.2M335.9,749.8L340.1,758.1M339.1,741.8L333.0,731.4M339.1,741.8L329.6,740.2M339.1,741.8L326.3,748.9M339.1,741.8L347.1,736.2M339.1,741.8L343.0,750.2M342.2,733.9L336.1,723.5M342.2,733.9L332.7,732.2M342.2,733.9L329.4,741.0M342.2,733.9L350.0,728.3M342.2,733.9L345.5,741.3M353.8,760.5L352.2,749.0M353.8,760.5L367.4,753.6M353.8,760.5L364.1,762.1M357.3,752.6L355.3,741.1M357.3,752.6L352.3,749.8M357.3,752.6L370.6,745.8M357.3,752.6L367.3,754.3M360.8,744.7L358.3,733.2M360.8,744.7L355.3,741.9M360.8,744.7L373.8,738.0M360.8,744.7L370.5,746.5M364.2,736.8L361.4,725.3M364.2,736.8L358.4,734.0M364.2,736.8L377.0,730.2M364.2,736.8L373.7,738.7M367.7,728.9L364.4,717.4M367.7,728.9L361.4,726.1M367.7,728.9L380.2,722.4M367.7,728.9L376.9,730.9M391.6,759.4L386.0,748.9M391.6,759.4L382.7,757.4M391.6,759.4L379.5,765.9M391.6,759.4L400.6,753.6M391.6,759.4L396.2,766.5M394.8,751.3L389.1,740.9M394.8,751.3L385.8,749.5M394.8,751.3L382.5,758.0M394.8,751.3L403.5,745.7M394.8,751.3L399.6,759.4M397.9,743.1L392.2,733.0M397.9,743.1L388.9,741.5M397.9,743.1L385.6,750.1M397.9,743.1L406.4,737.7M397.9,743.1L402.5,751.5M401.1,735.0L395.2,725.1M401.1,735.0L391.9,733.6M401.1,735.0L388.7,742.1M401.1,735.0L409.3,729.8M401.1,735.0L404.9,742.6M413.8,762.7L412.1,750.8M413.8,762.7L427.2,755.2M413.8,762.7L423.9,763.7M416.9,754.5L414.9,742.9M416.9,754.5L430.2,747.2M416.9,754.5L426.9,755.7M419.9,746.4L417.8,734.9M419.9,746.4L414.8,743.5M419.9,746.4L433.2,739.3M419.9,746.4L429.9,747.8M422.9,738.2L420.6,727.0M422.9,738.2L417.7,735.5M422.9,738.2L436.2,731.3M422.9,738.2L432.9,739.9M426.0,730.0L423.5,719.0M426.0,730.0L420.5,727.6M426.0,730.0L439.2,723.4M426.0,730.0L435.9,731.9M180.0,819.4L173.5,808.7M180.0,819.4L170.2,817.3M180.0,819.4L166.9,825.8M180.0,819.4L189.8,812.5M180.0,819.4L184.2,826.2M183.1,811.2L176.5,800.8M183.1,811.2L173.2,809.3M183.1,811.2L169.9,817.8M183.1,811.2L191.5,805.3M183.1,811.2L187.1,818.2M186.1,803.0L179.5,792.8M186.1,803.0L176.2,801.4M186.1,803.0L172.9,809.9M186.1,803.0L194.4,797.3M186.1,803.0L190.4,811.1M189.1,794.9L182.5,784.9M189.1,794.9L179.2,793.4M189.1,794.9L175.9,802.0M189.1,794.9L197.3,789.3M189.1,794.9L193.3,803.2M192.2,786.7L185.5,777.0M192.2,786.7L182.2,785.5M192.2,786.7L179.0,794.0M192.2,786.7L200.1,781.4M192.2,786.7L195.7,794.3M204.9,815.5L202.9,802.9M204.9,815.5L197.6,815.9M204.9,815.5L217.8,807.0M204.9,815.5L214.4,815.8M208.1,807.0L205.8,794.8M208.1,807.0L200.5,807.8M208.1,807.0L220.9,798.8M208.1,807.0L217.5,807.5M211.2,798.5L208.7,786.7M211.2,798.5L205.7,795.3M211.2,798.5L224.0,790.5M211.2,798.5L220.6,799.3M214.4,790.0L211.6,778.6M214.4,790.0L208.6,787.2M214.4,790.0L227.1,782.3M214.4,790.0L223.7,791.1M238.9,820.5L233.1,809.2M238.9,820.5L229.7,818.0M238.9,820.5L226.3,826.8M238.9,820.5L248.5,813.8M238.9,820.5L242.9,827.6M241.9,812.3L236.1,801.1M241.9,812.3L232.8,809.9M241.9,812.3L229.4,818.7M241.9,812.3L250.2,806.5M241.9,812.3L245.7,819.6M245.0,804.1L239.2,793.1M245.0,804.1L235.8,801.9M245.0,804.1L232.4,810.7M245.0,804.1L253.1,798.5M245.0,804.1L249.1,812.5M248.1,796.0L242.3,785.0M248.1,796.0L238.9,793.8M248.1,796.0L235.5,802.6M248.1,796.0L256.0,790.5M248.1,796.0L251.9,804.5M251.1,787.8L242.0,785.7M251.1,787.8L238.6,794.5M251.1,787.8L258.9,782.5M251.1,787.8L254.4,795.5M263.8,815.5L261.6,803.6M263.8,815.5L257.9,811.9M263.8,815.5L276.5,808.2M263.8,815.5L273.2,816.9M267.1,807.2L264.6,795.5M267.1,807.2L261.6,804.2M267.1,807.2L279.7,800.1M267.1,807.2L276.4,808.8M270.5,798.8L267.6,787.4M270.5,798.8L264.6,796.1M270.5,798.8L282.9,792.0M270.5,798.8L279.5,800.7M273.8,790.5L270.6,779.3M273.8,790.5L267.6,788.0M273.8,790.5L286.1,783.9M273.8,790.5L282.7,792.6M297.8,821.6L291.8,811.0M297.8,821.6L288.5,819.7M297.8,821.6L285.1,828.4M297.8,821.6L306.9,814.8M297.8,821.6L301.4,828.6M301.0,813.4L294.9,802.9M301.0,813.4L291.6,811.6M301.0,813.4L288.2,820.3M301.0,813.4L308.8,807.6M301.0,813.4L304.3,820.6M304.1,805.2L298.0,794.9M304.1,805.2L294.7,803.6M304.1,805.2L291.3,812.3M304.1,805.2L311.7,799.5M304.1,805.2L307.6,813.5M307.3,797.1L301.1,786.9M307.3,797.1L297.8,795.6M307.3,797.1L294.4,804.3M307.3,797.1L314.7,791.5M307.3,797.1L310.5,805.5M310.5,788.9L300.9,787.5M310.5,788.9L297.5,796.2M310.5,788.9L317.6,783.5M310.5,788.9L313.1,796.5M323.3,816.6L320.4,804.6M323.3,816.6L316.6,812.9M323.3,816.6L336.0,809.2M323.3,816.6L332.6,817.9M326.4,808.3L323.3,796.5M326.4,808.3L320.3,805.2M326.4,808.3L339.1,801.1M326.4,808.3L335.7,809.8M329.6,799.9L326.2,788.4M329.6,799.9L323.2,797.1M329.6,799.9L342.2,793.0M329.6,799.9L338.8,801.7M332.7,791.6L329.1,780.3M332.7,791.6L326.1,789.0M332.7,791.6L345.3,784.9M332.7,791.6L341.9,793.6M357.2,822.1L351.3,811.7M357.2,822.1L347.9,820.4M357.2,822.1L344.5,829.1M357.2,822.1L366.9,815.6M357.2,822.1L361.3,829.4M360.4,814.1L354.4,803.7M360.4,814.1L351.0,812.4M360.4,814.1L347.7,821.2M360.4,814.1L368.8,808.3M360.4,814.1L364.3,821.4M363.6,806.0L357.5,795.8M363.6,806.0L354.1,804.5M363.6,806.0L350.8,813.2M363.6,806.0L371.7,800.4M363.6,806.0L367.7,814.4M366.8,798.0L360.6,787.8M366.8,798.0L357.3,796.5M366.8,798.0L353.9,805.2M366.8,798.0L374.6,792.4M366.8,798.0L370.6,806.4M370.0,790.0L360.4,788.5M370.0,790.0L357.0,797.3M370.0,790.0L377.6,784.5M370.0,790.0L373.1,797.5M382.2,817.7L380.1,805.6M382.2,817.7L395.1,810.5M382.2,817.7L391.8,819.1M385.3,809.6L383.0,797.6M385.3,809.6L380.0,806.3M385.3,809.6L398.2,802.6M385.3,809.6L394.9,811.1M388.5,801.4L385.9,789.6M388.5,801.4L382.9,798.3M388.5,801.4L401.3,794.6M388.5,801.4L398.0,803.2M391.6,793.3L388.8,781.6M391.6,793.3L385.8,790.3M391.6,793.3L404.3,786.7M391.6,793.3L401.0,795.3M416.1,823.2L410.4,813.0M416.1,823.2L407.1,821.6M416.1,823.2L403.8,830.1M416.1,823.2L426.3,817.2M416.1,823.2L420.6,831.0M419.3,815.2L413.5,805.1M419.3,815.2L410.2,813.7M419.3,815.2L406.9,822.2M419.3,815.2L429.2,809.3M419.3,815.2L423.6,823.1M422.5,807.2L416.5,797.2M422.5,807.2L413.2,805.8M422.5,807.2L410.0,814.3M422.5,807.2L431.0,802.0M422.5,807.2L426.5,815.1M425.6,799.1L419.6,789.3M425.6,799.1L416.3,797.9M425.6,799.1L413.0,806.4M425.6,799.1L434.0,794.0M425.6,799.1L429.9,808.1M428.8,791.1L419.4,790.0M428.8,791.1L416.1,798.6M428.8,791.1L436.9,786.0M428.8,791.1L432.8,800.1M437.7,826.0L436.2,813.4M437.7,826.0L451.1,819.3M437.7,826.0L447.7,828.0M440.9,818.0L439.3,806.8M440.9,818.0L454.2,811.3M440.9,818.0L450.8,820.0M444.1,810.0L442.3,798.9M444.1,810.0L438.7,807.3M444.1,810.0L457.3,803.4M444.1,810.0L454.0,812.1M447.4,802.1L445.3,790.9M447.4,802.1L442.2,799.7M447.4,802.1L460.4,795.4M447.4,802.1L457.1,804.1M450.6,794.1L448.2,783.0M450.6,794.1L445.2,791.7M450.6,794.1L463.6,787.5M450.6,794.1L460.2,796.2M453.8,786.1L451.2,775.0M453.8,786.1L448.2,783.7M453.8,786.1L466.7,779.6M453.8,786.1L463.3,788.3M152.4,762.1L160.4,760.6M155.4,754.3L161.6,757.6M158.5,746.4L162.8,754.6M177.3,758.0L169.9,759.0M180.4,749.9L171.1,755.9M152.4,762.1L162.1,755.7M155.4,754.3L163.3,752.7M158.5,746.4L164.4,749.8M161.5,738.6L165.6,746.8M177.3,758.0L171.6,754.2M180.4,749.9L172.8,751.1M183.6,741.8L173.9,748.0M180.0,819.4L188.1,817.3M183.1,811.2L189.3,814.2M186.1,803.0L190.4,811.1M204.9,815.5L197.6,815.9M208.1,807.0L198.8,812.6M180.0,819.4L189.8,812.5M183.1,811.2L191.0,809.4M186.1,803.0L192.1,806.3M189.1,794.9L193.3,803.2M204.9,815.5L199.3,811.0M208.1,807.0L200.5,807.8M211.2,798.5L201.7,804.5M214.4,755.5L220.9,759.0M217.5,747.4L222.0,756.0M236.6,759.4L229.3,760.5M239.7,751.1L230.5,757.4M214.4,755.5L222.5,754.2M217.5,747.4L223.7,751.1M220.7,739.2L224.9,748.0M236.6,759.4L231.0,755.6M239.7,751.1L232.1,752.5M242.7,742.8L233.3,749.3M238.9,820.5L246.8,818.7M241.9,812.3L247.9,815.6M245.0,804.1L249.1,812.5M263.8,815.5L256.2,816.8M267.1,807.2L257.5,813.6M238.9,820.5L248.5,813.8M241.9,812.3L249.6,810.7M245.0,804.1L250.8,807.6M248.1,796.0L251.9,804.5M263.8,815.5L257.9,811.9M267.1,807.2L259.2,808.7M270.5,798.8L260.4,805.6M273.3,757.1L279.9,760.1M276.4,748.8L281.1,756.9M293.3,760.5L287.5,761.4M296.4,752.2L288.7,758.2M273.3,757.1L281.6,755.2M276.4,748.8L282.8,752.1M279.6,740.5L284.0,748.9M293.3,760.5L289.2,756.5M296.4,752.2L290.4,753.3M299.4,743.9L291.5,750.2M297.8,821.6L305.2,819.7M301.0,813.4L306.4,816.6M304.1,805.2L307.6,813.5M323.3,816.6L314.9,817.8M326.4,808.3L316.1,814.7M297.8,821.6L306.9,814.8M301.0,813.4L308.1,811.7M304.1,805.2L309.3,808.6M307.3,797.1L310.5,805.5M323.3,816.6L316.6,812.9M326.4,808.3L317.8,809.7M329.6,799.9L319.0,806.6M332.8,757.7L339.0,761.1M335.9,749.8L340.1,758.1M353.8,760.5L346.9,762.2M357.3,752.6L348.3,759.2M332.8,757.7L340.6,756.2M335.9,749.8L341.8,753.2M339.1,741.8L343.0,750.2M353.8,760.5L348.6,757.3M357.3,752.6L349.9,754.3M360.8,744.7L351.3,751.3M357.2,822.1L365.2,820.5M360.4,814.1L366.4,817.4M363.6,806.0L367.7,814.4M382.2,817.7L374.7,818.8M385.3,809.6L375.9,815.7M357.2,822.1L366.9,815.6M360.4,814.1L368.1,812.5M363.6,806.0L369.3,809.5M366.8,798.0L370.6,806.4M382.2,817.7L376.4,813.9M385.3,809.6L377.6,810.8M388.5,801.4L378.8,807.7M391.6,759.4L398.4,762.5M394.8,751.3L399.6,759.4M413.8,762.7L406.9,763.8M416.9,754.5L408.0,760.7M391.6,759.4L400.1,757.7M394.8,751.3L401.3,754.6M397.9,743.1L402.5,751.5M413.8,762.7L408.5,759.0M416.9,754.5L409.7,755.9M419.9,746.4L410.8,752.7M416.1,823.2L426.3,817.2M419.3,815.2L427.5,814.2M422.5,807.2L428.7,811.1M425.6,799.1L429.9,808.1M437.7,826.0L434.5,818.3M440.9,818.0L435.7,815.3M444.1,810.0L437.0,812.2M447.4,802.1L438.2,809.2M419.3,815.2L429.2,809.3M422.5,807.2L430.4,806.2M425.6,799.1L431.6,803.2M428.8,791.1L432.8,800.1M437.7,826.0L436.2,813.4M440.9,818.0L437.4,810.4M444.1,810.0L438.7,807.3M447.4,802.1L439.9,804.3M450.6,794.1L441.1,801.3" stroke="#9a9a96" stroke-width="1.3" fill="none"/><path d="M146.6,751.7L141.8,743.2M143.3,760.3L135.8,758.9M139.9,769.0L129.7,774.6M162.1,755.7L168.1,751.8M156.6,769.3L160.0,775.2M149.6,743.9L144.8,735.4M146.3,752.5L138.8,751.1M143.0,761.1L132.8,766.8M163.9,748.6L170.8,744.0M159.4,761.5L162.7,767.4M152.6,736.0L147.9,727.5M149.3,744.7L141.8,743.2M146.0,753.3L135.8,758.9M166.7,740.8L173.4,736.2M162.8,754.6L165.4,759.6M155.7,728.2L150.9,719.7M152.3,736.8L144.8,735.4M149.0,745.4L138.8,751.1M169.6,733.0L176.1,728.4M165.6,746.8L168.1,751.8M158.7,720.3L153.9,711.8M155.4,729.0L147.9,727.5M152.0,737.6L141.8,743.2M172.4,725.2L178.8,720.6M168.0,738.0L170.8,744.0M161.7,712.5L156.9,704.0M158.4,721.1L150.9,719.7M155.1,729.8L144.8,735.4M175.3,717.3L181.5,712.8M170.8,730.2L173.4,736.2M175.2,746.0L173.4,736.2M190.4,750.5L201.1,744.4M187.1,759.1L195.0,760.0M178.1,738.1L176.1,728.4M175.1,746.7L170.8,744.0M193.4,742.5L204.1,736.5M190.1,751.2L198.1,752.2M181.0,730.1L178.8,720.6M178.0,738.7L173.4,736.2M196.5,734.6L207.1,728.7M193.2,743.2L201.1,744.4M183.8,722.2L181.5,712.8M180.9,730.8L176.1,728.4M199.6,726.6L210.1,720.8M196.3,735.2L204.1,736.5M186.7,714.3L184.2,705.0M183.8,722.9L178.8,720.6M202.6,718.7L213.2,713.0M199.3,727.3L207.1,728.7M208.7,745.1L204.1,736.5M205.4,753.7L198.1,752.2M202.1,762.3L192.0,767.9M223.1,750.0L230.3,745.4M218.6,763.0L222.1,769.1M211.8,737.1L207.1,728.7M208.5,745.7L201.1,744.4M205.2,754.3L195.0,760.0M226.0,742.0L233.0,737.6M222.0,756.0L224.8,761.2M214.9,729.1L210.1,720.8M211.6,737.7L204.1,736.5M208.2,746.4L198.1,752.2M228.9,734.0L235.7,729.7M224.9,748.0L227.5,753.3M217.9,721.1L213.2,713.0M214.6,729.8L207.1,728.7M211.3,738.4L201.1,744.4M231.8,726.0L238.4,721.8M227.4,739.0L230.3,745.4M234.6,747.4L233.0,737.6M249.5,751.9L260.0,745.8M246.1,760.7L253.9,761.7M237.5,739.3L235.7,729.7M234.5,748.0L230.3,745.4M252.5,743.8L263.1,737.9M249.2,752.5L257.0,753.8M240.3,731.2L238.4,721.8M237.4,739.9L233.0,737.6M255.6,735.7L266.1,729.9M252.2,744.4L260.0,745.8M243.2,723.1L241.1,713.9M240.2,731.8L235.7,729.7M258.6,727.6L269.2,722.0M255.3,736.3L263.1,737.9M246.1,715.0L243.9,706.0M243.1,723.7L238.4,721.8M261.7,719.4L272.3,714.0M258.3,728.2L266.1,729.9M267.7,746.5L263.1,737.9M264.3,755.3L257.0,753.8M260.9,764.0L250.8,769.6M282.1,751.1L289.4,746.2M277.7,764.1L281.3,769.8M270.8,738.4L266.1,729.9M267.4,747.1L260.0,745.8M264.0,755.9L253.9,761.7M285.0,743.1L292.1,738.4M281.1,756.9L284.0,761.9M273.9,730.3L269.2,722.0M270.5,739.0L263.1,737.9M267.1,747.8L257.0,753.8M287.9,735.0L294.8,730.5M284.0,748.9L286.7,754.1M277.0,722.2L272.3,714.0M273.6,730.9L266.1,729.9M270.2,739.7L260.0,745.8M290.8,727.0L297.5,722.7M286.4,739.9L289.4,746.2M292.6,748.3L292.1,738.4M307.4,752.9L318.9,746.8M304.0,761.7L312.7,762.6M295.5,740.3L294.8,730.5M310.4,744.8L321.9,738.8M307.0,753.6L315.8,754.7M298.4,732.2L297.5,722.7M313.5,736.7L325.0,730.9M310.1,745.4L318.9,746.8M301.2,724.2L300.2,714.8M316.5,728.6L328.0,722.9M313.2,737.3L321.9,738.8M304.1,716.1L302.9,707.0M319.6,720.5L331.1,715.0M316.2,729.2L325.0,730.9M326.8,747.3L321.9,738.8M323.5,756.0L315.8,754.7M320.1,764.8L309.7,770.6M341.3,752.1L348.2,747.4M336.8,765.1L340.0,771.1M329.9,739.4L325.0,730.9M326.5,748.1L318.9,746.8M323.2,756.8L312.7,762.6M344.2,744.2L350.9,739.6M340.1,758.1L342.7,763.2M333.0,731.4L328.0,722.9M329.6,740.2L321.9,738.8M326.3,748.9L315.8,754.7M347.1,736.2L353.6,731.7M343.0,750.2L345.4,755.3M336.1,723.5L331.1,715.0M332.7,732.2L325.0,730.9M329.4,741.0L318.9,746.8M350.0,728.3L356.3,723.8M345.5,741.3L348.2,747.4M352.2,749.0L350.9,739.6M367.4,753.6L378.5,748.0M364.1,762.1L372.5,763.5M355.3,741.1L353.6,731.7M352.3,749.8L348.2,747.4M370.6,745.8L381.5,740.2M367.3,754.3L375.5,755.8M358.3,733.2L356.3,723.8M355.3,741.9L350.9,739.6M373.8,738.0L384.4,732.5M370.5,746.5L378.5,748.0M361.4,725.3L359.1,715.9M358.4,734.0L353.6,731.7M377.0,730.2L387.4,724.8M373.7,738.7L381.5,740.2M364.4,717.4L361.8,708.0M361.4,726.1L356.3,723.8M380.2,722.4L390.4,717.0M376.9,730.9L384.4,732.5M386.0,748.9L381.5,740.2M382.7,757.4L375.5,755.8M379.5,765.9L369.5,771.2M400.6,753.6L408.0,748.9M396.2,766.5L399.9,772.2M389.1,740.9L384.4,732.5M385.8,749.5L378.5,748.0M382.5,758.0L372.5,763.5M403.5,745.7L410.7,741.1M399.6,759.4L402.6,764.4M392.2,733.0L387.4,724.8M388.9,741.5L381.5,740.2M385.6,750.1L375.5,755.8M406.4,737.7L413.3,733.3M402.5,751.5L405.3,756.7M395.2,725.1L390.4,717.0M391.9,733.6L384.4,732.5M388.7,742.1L378.5,748.0M409.3,729.8L416.0,725.6M404.9,742.6L408.0,748.9M412.1,750.8L410.7,741.1M427.2,755.2L438.1,749.0M423.9,763.7L432.1,764.5M414.9,742.9L413.3,733.3M430.2,747.2L441.1,741.2M426.9,755.7L435.1,756.8M417.8,734.9L416.0,725.6M414.8,743.5L410.7,741.1M433.2,739.3L444.1,733.5M429.9,747.8L438.1,749.0M420.6,727.0L418.7,717.8M417.7,735.5L413.3,733.3M436.2,731.3L447.0,725.8M432.9,739.9L441.1,741.2M423.5,719.0L421.4,710.0M420.5,727.6L416.0,725.6M439.2,723.4L450.0,718.0M435.9,731.9L444.1,733.5M173.5,808.7L168.1,800.0M170.2,817.3L162.1,815.5M166.9,825.8L156.2,831.0M189.8,812.5L195.8,808.3M184.2,826.2L187.7,831.7M176.5,800.8L171.1,792.2M173.2,809.3L165.1,807.8M169.9,817.8L159.2,823.2M191.5,805.3L198.5,800.4M187.1,818.2L190.4,823.9M179.5,792.8L174.1,784.5M176.2,801.4L168.1,800.0M172.9,809.9L162.1,815.5M194.4,797.3L201.2,792.6M190.4,811.1L193.1,816.1M182.5,784.9L177.1,776.8M179.2,793.4L171.1,792.2M175.9,802.0L165.1,807.8M197.3,789.3L203.9,784.8M193.3,803.2L195.8,808.3M185.5,777.0L180.1,769.0M182.2,785.5L174.1,784.5M179.0,794.0L168.1,800.0M200.1,781.4L206.6,777.0M195.7,794.3L198.5,800.4M202.9,802.9L201.2,792.6M197.6,815.9L193.1,816.1M217.8,807.0L228.3,800.0M214.4,815.8L222.2,816.0M205.8,794.8L203.9,784.8M200.5,807.8L195.8,808.3M220.9,798.8L231.4,792.0M217.5,807.5L225.2,808.0M208.7,786.7L206.6,777.0M205.7,795.3L201.2,792.6M224.0,790.5L234.5,784.0M220.6,799.3L228.3,800.0M211.6,778.6L209.3,769.2M208.6,787.2L203.9,784.8M227.1,782.3L237.6,776.0M223.7,791.1L231.4,792.0M233.1,809.2L228.3,800.0M229.7,818.0L222.2,816.0M226.3,826.8L216.0,832.0M248.5,813.8L254.3,809.7M242.9,827.6L246.1,833.4M236.1,801.1L231.4,792.0M232.8,809.9L225.2,808.0M229.4,818.7L219.1,824.0M250.2,806.5L257.0,801.8M245.7,819.6L248.9,825.5M239.2,793.1L234.5,784.0M235.8,801.9L228.3,800.0M232.4,810.7L222.2,816.0M253.1,798.5L259.8,793.9M249.1,812.5L251.6,817.6M242.3,785.0L237.6,776.0M238.9,793.8L231.4,792.0M235.5,802.6L225.2,808.0M256.0,790.5L262.5,786.0M251.9,804.5L254.3,809.7M242.0,785.7L234.5,784.0M238.6,794.5L228.3,800.0M258.9,782.5L265.2,778.1M254.4,795.5L257.0,801.8M261.6,803.6L259.8,793.9M257.9,811.9L254.3,809.7M276.5,808.2L287.0,802.2M273.2,816.9L280.9,818.1M264.6,795.5L262.5,786.0M261.6,804.2L257.0,801.8M279.7,800.1L290.0,794.3M276.4,808.8L283.9,810.2M267.6,787.4L265.2,778.1M264.6,796.1L259.8,793.9M282.9,792.0L293.0,786.4M279.5,800.7L287.0,802.2M270.6,779.3L267.9,770.2M267.6,788.0L262.5,786.0M286.1,783.9L296.1,778.5M282.7,792.6L290.0,794.3M291.8,811.0L287.0,802.2M288.5,819.7L280.9,818.1M285.1,828.4L274.8,833.9M306.9,814.8L312.5,810.7M301.4,828.6L304.3,834.4M294.9,802.9L290.0,794.3M291.6,811.6L283.9,810.2M288.2,820.3L277.8,826.0M308.8,807.6L315.2,802.7M304.3,820.6L307.0,826.5M298.0,794.9L293.0,786.4M294.7,803.6L287.0,802.2M291.3,812.3L280.9,818.1M311.7,799.5L317.9,794.8M307.6,813.5L309.7,818.6M301.1,786.9L296.1,778.5M297.8,795.6L290.0,794.3M294.4,804.3L283.9,810.2M314.7,791.5L320.7,786.9M310.5,805.5L312.5,810.7M300.9,787.5L293.0,786.4M297.5,796.2L287.0,802.2M317.6,783.5L323.4,779.0M313.1,796.5L315.2,802.7M320.4,804.6L317.9,794.8M316.6,812.9L312.5,810.7M336.0,809.2L346.4,803.2M332.6,817.9L340.3,819.0M323.3,796.5L320.7,786.9M320.3,805.2L315.2,802.7M339.1,801.1L349.4,795.3M335.7,809.8L343.3,811.1M326.2,788.4L323.4,779.0M323.2,797.1L317.9,794.8M342.2,793.0L352.5,787.3M338.8,801.7L346.4,803.2M329.1,780.3L326.1,771.1M326.1,789.0L320.7,786.9M345.3,784.9L355.5,779.4M341.9,793.6L349.4,795.3M351.3,811.7L346.4,803.2M347.9,820.4L340.3,819.0M344.5,829.1L334.2,834.9M366.9,815.6L372.9,811.6M361.3,829.4L364.7,835.3M354.4,803.7L349.4,795.3M351.0,812.4L343.3,811.1M347.7,821.2L337.2,827.0M368.8,808.3L375.6,803.6M364.3,821.4L367.4,827.4M357.5,795.8L352.5,787.3M354.1,804.5L346.4,803.2M350.8,813.2L340.3,819.0M371.7,800.4L378.3,795.7M367.7,814.4L370.1,819.5M360.6,787.8L355.5,779.4M357.3,796.5L349.4,795.3M353.9,805.2L343.3,811.1M374.6,792.4L381.1,787.8M370.6,806.4L372.9,811.6M360.4,788.5L352.5,787.3M357.0,797.3L346.4,803.2M377.6,784.5L383.8,779.9M373.1,797.5L375.6,803.6M380.1,805.6L378.3,795.7M395.1,810.5L405.7,804.7M391.8,819.1L399.7,820.2M383.0,797.6L381.1,787.8M380.0,806.3L375.6,803.6M398.2,802.6L408.7,796.9M394.9,811.1L402.7,812.4M385.9,789.6L383.8,779.9M382.9,798.3L378.3,795.7M401.3,794.6L411.7,789.1M398.0,803.2L405.7,804.7M388.8,781.6L386.5,772.0M385.8,790.3L381.1,787.8M404.3,786.7L414.7,781.3M401.0,795.3L408.7,796.9M410.4,813.0L405.7,804.7M407.1,821.6L399.7,820.2M403.8,830.1L393.7,835.8M426.3,817.2L432.6,813.6M420.6,831.0L424.3,837.4M413.5,805.1L408.7,796.9M410.2,813.7L402.7,812.4M406.9,822.2L396.7,828.0M429.2,809.3L435.3,805.6M423.6,823.1L427.1,829.5M416.5,797.2L411.7,789.1M413.2,805.8L405.7,804.7M410.0,814.3L399.7,820.2M431.0,802.0L438.0,797.7M426.5,815.1L429.8,821.5M419.6,789.3L414.7,781.3M416.3,797.9L408.7,796.9M413.0,806.4L402.7,812.4M434.0,794.0L440.8,789.8M429.9,808.1L432.6,813.6M419.4,790.0L411.7,789.1M416.1,798.6L405.7,804.7M436.9,786.0L443.5,781.8M432.8,800.1L435.3,805.6M436.2,813.4L435.3,805.6M451.1,819.3L462.0,813.8M447.7,828.0L455.9,829.6M439.3,806.8L438.0,797.7M454.2,811.3L465.1,805.8M450.8,820.0L459.0,821.7M442.3,798.9L440.8,789.8M438.7,807.3L435.3,805.6M457.3,803.4L468.1,797.9M454.0,812.1L462.0,813.8M445.3,790.9L443.5,781.8M442.2,799.7L438.0,797.7M460.4,795.4L471.2,790.0M457.1,804.1L465.1,805.8M448.2,783.0L446.3,773.9M445.2,791.7L440.8,789.8M463.6,787.5L474.2,782.1M460.2,796.2L468.1,797.9M451.2,775.0L449.0,765.9M448.2,783.7L443.5,781.8M466.7,779.6L477.2,774.2M463.3,788.3L471.2,790.0M160.4,760.6L165.4,759.6M161.6,757.6L165.4,759.6M162.8,754.6L165.4,759.6M169.9,759.0L165.4,759.6M171.1,755.9L165.4,759.6M162.1,755.7L168.1,751.8M163.3,752.7L168.1,751.8M164.4,749.8L168.1,751.8M165.6,746.8L168.1,751.8M171.6,754.2L168.1,751.8M172.8,751.1L168.1,751.8M173.9,748.0L168.1,751.8M188.1,817.3L193.1,816.1M189.3,814.2L193.1,816.1M190.4,811.1L193.1,816.1M197.6,815.9L193.1,816.1M198.8,812.6L193.1,816.1M189.8,812.5L195.8,808.3M191.0,809.4L195.8,808.3M192.1,806.3L195.8,808.3M193.3,803.2L195.8,808.3M199.3,811.0L195.8,808.3M200.5,807.8L195.8,808.3M201.7,804.5L195.8,808.3M220.9,759.0L224.8,761.2M222.0,756.0L224.8,761.2M229.3,760.5L224.8,761.2M230.5,757.4L224.8,761.2M222.5,754.2L227.5,753.3M223.7,751.1L227.5,753.3M224.9,748.0L227.5,753.3M231.0,755.6L227.5,753.3M232.1,752.5L227.5,753.3M233.3,749.3L227.5,753.3M246.8,818.7L251.6,817.6M247.9,815.6L251.6,817.6M249.1,812.5L251.6,817.6M256.2,816.8L251.6,817.6M257.5,813.6L251.6,817.6M248.5,813.8L254.3,809.7M249.6,810.7L254.3,809.7M250.8,807.6L254.3,809.7M251.9,804.5L254.3,809.7M257.9,811.9L254.3,809.7M259.2,808.7L254.3,809.7M260.4,805.6L254.3,809.7M279.9,760.1L284.0,761.9M281.1,756.9L284.0,761.9M287.5,761.4L284.0,761.9M288.7,758.2L284.0,761.9M281.6,755.2L286.7,754.1M282.8,752.1L286.7,754.1M284.0,748.9L286.7,754.1M289.2,756.5L286.7,754.1M290.4,753.3L286.7,754.1M291.5,750.2L286.7,754.1M305.2,819.7L309.7,818.6M306.4,816.6L309.7,818.6M307.6,813.5L309.7,818.6M314.9,817.8L309.7,818.6M316.1,814.7L309.7,818.6M306.9,814.8L312.5,810.7M308.1,811.7L312.5,810.7M309.3,808.6L312.5,810.7M310.5,805.5L312.5,810.7M316.6,812.9L312.5,810.7M317.8,809.7L312.5,810.7M319.0,806.6L312.5,810.7M339.0,761.1L342.7,763.2M340.1,758.1L342.7,763.2M346.9,762.2L342.7,763.2M348.3,759.2L342.7,763.2M340.6,756.2L345.4,755.3M341.8,753.2L345.4,755.3M343.0,750.2L345.4,755.3M348.6,757.3L345.4,755.3M349.9,754.3L345.4,755.3M351.3,751.3L345.4,755.3M365.2,820.5L370.1,819.5M366.4,817.4L370.1,819.5M367.7,814.4L370.1,819.5M374.7,818.8L370.1,819.5M375.9,815.7L370.1,819.5M366.9,815.6L372.9,811.6M368.1,812.5L372.9,811.6M369.3,809.5L372.9,811.6M370.6,806.4L372.9,811.6M376.4,813.9L372.9,811.6M377.6,810.8L372.9,811.6M378.8,807.7L372.9,811.6M398.4,762.5L402.6,764.4M399.6,759.4L402.6,764.4M406.9,763.8L402.6,764.4M408.0,760.7L402.6,764.4M400.1,757.7L405.3,756.7M401.3,754.6L405.3,756.7M402.5,751.5L405.3,756.7M408.5,759.0L405.3,756.7M409.7,755.9L405.3,756.7M410.8,752.7L405.3,756.7M426.3,817.2L432.6,813.6M427.5,814.2L432.6,813.6M428.7,811.1L432.6,813.6M429.9,808.1L432.6,813.6M434.5,818.3L432.6,813.6M435.7,815.3L432.6,813.6M437.0,812.2L432.6,813.6M438.2,809.2L432.6,813.6M429.2,809.3L435.3,805.6M430.4,806.2L435.3,805.6M431.6,803.2L435.3,805.6M432.8,800.1L435.3,805.6M436.2,813.4L435.3,805.6M437.4,810.4L435.3,805.6M438.7,807.3L435.3,805.6M439.9,804.3L435.3,805.6M441.1,801.3L435.3,805.6" stroke="#f0f000" stroke-width="1.4" fill="none"/><path d="M157.2,763.1L172.4,721.9M219.2,756.5L228.6,730.1M278.1,758.1L287.5,731.2M337.6,758.7L347.0,732.9M396.4,760.4L405.9,734.0M184.8,820.4L197.0,785.7M243.7,821.5L255.9,786.8M302.6,822.6L315.3,787.9M362.0,823.1L374.8,789.0M420.9,824.2L433.6,790.1" stroke="#8c8c88" stroke-width="2.4" fill="none"/><circle cx="437.7" cy="826.0" r="4.9" fill="url(#gG)" stroke="#5a5a56" stroke-width="0.5"/><circle cx="416.1" cy="823.2" r="4.9" fill="url(#gG)" stroke="#5a5a56" stroke-width="0.5"/><circle cx="357.2" cy="822.1" r="4.9" fill="url(#gG)" stroke="#5a5a56" stroke-width="0.5"/><circle cx="297.8" cy="821.6" r="4.9" fill="url(#gG)" stroke="#5a5a56" stroke-width="0.5"/><circle cx="238.9" cy="820.5" r="4.9" fill="url(#gG)" stroke="#5a5a56" stroke-width="0.5"/><circle cx="180.0" cy="819.4" r="4.9" fill="url(#gG)" stroke="#5a5a56" stroke-width="0.5"/><circle cx="440.9" cy="818.0" r="4.9" fill="url(#gG)" stroke="#5a5a56" stroke-width="0.5"/><circle cx="382.2" cy="817.7" r="4.9" fill="url(#gG)" stroke="#5a5a56" stroke-width="0.5"/><circle cx="323.3" cy="816.6" r="4.9" fill="url(#gG)" stroke="#5a5a56" stroke-width="0.5"/><circle cx="204.9" cy="815.5" r="4.9" fill="url(#gG)" stroke="#5a5a56" stroke-width="0.5"/><circle cx="263.8" cy="815.5" r="4.9" fill="url(#gG)" stroke="#5a5a56" stroke-width="0.5"/><circle cx="419.3" cy="815.2" r="4.9" fill="url(#gG)" stroke="#5a5a56" stroke-width="0.5"/><circle cx="360.4" cy="814.1" r="4.9" fill="url(#gG)" stroke="#5a5a56" stroke-width="0.5"/><circle cx="301.0" cy="813.4" r="4.9" fill="url(#gG)" stroke="#5a5a56" stroke-width="0.5"/><circle cx="241.9" cy="812.3" r="4.9" fill="url(#gG)" stroke="#5a5a56" stroke-width="0.5"/><circle cx="183.1" cy="811.2" r="4.9" fill="url(#gG)" stroke="#5a5a56" stroke-width="0.5"/><circle cx="444.1" cy="810.0" r="4.9" fill="url(#gG)" stroke="#5a5a56" stroke-width="0.5"/><circle cx="385.3" cy="809.6" r="4.9" fill="url(#gG)" stroke="#5a5a56" stroke-width="0.5"/><circle cx="326.4" cy="808.3" r="4.9" fill="url(#gG)" stroke="#5a5a56" stroke-width="0.5"/><circle cx="267.1" cy="807.2" r="4.9" fill="url(#gG)" stroke="#5a5a56" stroke-width="0.5"/><circle cx="422.5" cy="807.2" r="4.9" fill="url(#gG)" stroke="#5a5a56" stroke-width="0.5"/><circle cx="208.1" cy="807.0" r="4.9" fill="url(#gG)" stroke="#5a5a56" stroke-width="0.5"/><circle cx="363.6" cy="806.0" r="4.9" fill="url(#gG)" stroke="#5a5a56" stroke-width="0.5"/><circle cx="304.1" cy="805.2" r="4.9" fill="url(#gG)" stroke="#5a5a56" stroke-width="0.5"/><circle cx="245.0" cy="804.1" r="4.9" fill="url(#gG)" stroke="#5a5a56" stroke-width="0.5"/><circle cx="186.1" cy="803.0" r="4.9" fill="url(#gG)" stroke="#5a5a56" stroke-width="0.5"/><circle cx="447.4" cy="802.1" r="4.9" fill="url(#gG)" stroke="#5a5a56" stroke-width="0.5"/><circle cx="388.5" cy="801.4" r="4.9" fill="url(#gG)" stroke="#5a5a56" stroke-width="0.5"/><circle cx="329.6" cy="799.9" r="4.9" fill="url(#gG)" stroke="#5a5a56" stroke-width="0.5"/><circle cx="425.6" cy="799.1" r="4.9" fill="url(#gG)" stroke="#5a5a56" stroke-width="0.5"/><circle cx="270.5" cy="798.8" r="4.9" fill="url(#gG)" stroke="#5a5a56" stroke-width="0.5"/><circle cx="211.2" cy="798.5" r="4.9" fill="url(#gG)" stroke="#5a5a56" stroke-width="0.5"/><circle cx="366.8" cy="798.0" r="4.9" fill="url(#gG)" stroke="#5a5a56" stroke-width="0.5"/><circle cx="307.3" cy="797.1" r="4.9" fill="url(#gG)" stroke="#5a5a56" stroke-width="0.5"/><circle cx="248.1" cy="796.0" r="4.9" fill="url(#gG)" stroke="#5a5a56" stroke-width="0.5"/><circle cx="189.1" cy="794.9" r="4.9" fill="url(#gG)" stroke="#5a5a56" stroke-width="0.5"/><circle cx="450.6" cy="794.1" r="4.9" fill="url(#gG)" stroke="#5a5a56" stroke-width="0.5"/><circle cx="391.6" cy="793.3" r="4.9" fill="url(#gG)" stroke="#5a5a56" stroke-width="0.5"/><circle cx="332.7" cy="791.6" r="4.9" fill="url(#gG)" stroke="#5a5a56" stroke-width="0.5"/><circle cx="428.8" cy="791.1" r="4.9" fill="url(#gG)" stroke="#5a5a56" stroke-width="0.5"/><circle cx="273.8" cy="790.5" r="4.9" fill="url(#gG)" stroke="#5a5a56" stroke-width="0.5"/><circle cx="214.4" cy="790.0" r="4.9" fill="url(#gG)" stroke="#5a5a56" stroke-width="0.5"/><circle cx="370.0" cy="790.0" r="4.9" fill="url(#gG)" stroke="#5a5a56" stroke-width="0.5"/><circle cx="310.5" cy="788.9" r="4.9" fill="url(#gG)" stroke="#5a5a56" stroke-width="0.5"/><circle cx="251.1" cy="787.8" r="4.9" fill="url(#gG)" stroke="#5a5a56" stroke-width="0.5"/><circle cx="192.2" cy="786.7" r="4.9" fill="url(#gG)" stroke="#5a5a56" stroke-width="0.5"/><circle cx="453.8" cy="786.1" r="4.9" fill="url(#gG)" stroke="#5a5a56" stroke-width="0.5"/><circle cx="413.8" cy="762.7" r="4.9" fill="url(#gG)" stroke="#5a5a56" stroke-width="0.5"/><circle cx="152.4" cy="762.1" r="4.9" fill="url(#gG)" stroke="#5a5a56" stroke-width="0.5"/><circle cx="293.3" cy="760.5" r="4.9" fill="url(#gD)" stroke="#5a5a56" stroke-width="0.5"/><circle cx="353.8" cy="760.5" r="4.9" fill="url(#gG)" stroke="#5a5a56" stroke-width="0.5"/><circle cx="236.6" cy="759.4" r="4.9" fill="url(#gG)" stroke="#5a5a56" stroke-width="0.5"/><circle cx="391.6" cy="759.4" r="4.9" fill="url(#gG)" stroke="#5a5a56" stroke-width="0.5"/><circle cx="177.3" cy="758.0" r="4.9" fill="url(#gG)" stroke="#5a5a56" stroke-width="0.5"/><circle cx="332.8" cy="757.7" r="4.9" fill="url(#gG)" stroke="#5a5a56" stroke-width="0.5"/><circle cx="273.3" cy="757.1" r="4.9" fill="url(#gG)" stroke="#5a5a56" stroke-width="0.5"/><circle cx="214.4" cy="755.5" r="4.9" fill="url(#gG)" stroke="#5a5a56" stroke-width="0.5"/><circle cx="416.9" cy="754.5" r="4.9" fill="url(#gG)" stroke="#5a5a56" stroke-width="0.5"/><circle cx="155.4" cy="754.3" r="4.9" fill="url(#gG)" stroke="#5a5a56" stroke-width="0.5"/><circle cx="357.3" cy="752.6" r="4.9" fill="url(#gG)" stroke="#5a5a56" stroke-width="0.5"/><circle cx="296.4" cy="752.2" r="4.9" fill="url(#gD)" stroke="#5a5a56" stroke-width="0.5"/><circle cx="394.8" cy="751.3" r="4.9" fill="url(#gG)" stroke="#5a5a56" stroke-width="0.5"/><circle cx="239.7" cy="751.1" r="4.9" fill="url(#gG)" stroke="#5a5a56" stroke-width="0.5"/><circle cx="180.4" cy="749.9" r="4.9" fill="url(#gG)" stroke="#5a5a56" stroke-width="0.5"/><circle cx="335.9" cy="749.8" r="4.9" fill="url(#gG)" stroke="#5a5a56" stroke-width="0.5"/><circle cx="276.4" cy="748.8" r="4.9" fill="url(#gG)" stroke="#5a5a56" stroke-width="0.5"/><circle cx="217.5" cy="747.4" r="4.9" fill="url(#gG)" stroke="#5a5a56" stroke-width="0.5"/><circle cx="158.5" cy="746.4" r="4.9" fill="url(#gG)" stroke="#5a5a56" stroke-width="0.5"/><circle cx="419.9" cy="746.4" r="4.9" fill="url(#gG)" stroke="#5a5a56" stroke-width="0.5"/><circle cx="360.8" cy="744.7" r="4.9" fill="url(#gG)" stroke="#5a5a56" stroke-width="0.5"/><circle cx="299.4" cy="743.9" r="4.9" fill="url(#gD)" stroke="#5a5a56" stroke-width="0.5"/><circle cx="397.9" cy="743.1" r="4.9" fill="url(#gG)" stroke="#5a5a56" stroke-width="0.5"/><circle cx="242.7" cy="742.8" r="4.9" fill="url(#gG)" stroke="#5a5a56" stroke-width="0.5"/><circle cx="339.1" cy="741.8" r="4.9" fill="url(#gG)" stroke="#5a5a56" stroke-width="0.5"/><circle cx="183.6" cy="741.8" r="4.9" fill="url(#gG)" stroke="#5a5a56" stroke-width="0.5"/><circle cx="279.6" cy="740.5" r="4.9" fill="url(#gG)" stroke="#5a5a56" stroke-width="0.5"/><circle cx="220.7" cy="739.2" r="4.9" fill="url(#gG)" stroke="#5a5a56" stroke-width="0.5"/><circle cx="161.5" cy="738.6" r="4.9" fill="url(#gG)" stroke="#5a5a56" stroke-width="0.5"/><circle cx="422.9" cy="738.2" r="4.9" fill="url(#gG)" stroke="#5a5a56" stroke-width="0.5"/><circle cx="364.2" cy="736.8" r="4.9" fill="url(#gG)" stroke="#5a5a56" stroke-width="0.5"/><circle cx="302.4" cy="735.5" r="4.9" fill="url(#gD)" stroke="#5a5a56" stroke-width="0.5"/><circle cx="401.1" cy="735.0" r="4.9" fill="url(#gG)" stroke="#5a5a56" stroke-width="0.5"/><circle cx="245.8" cy="734.4" r="4.9" fill="url(#gG)" stroke="#5a5a56" stroke-width="0.5"/><circle cx="342.2" cy="733.9" r="4.9" fill="url(#gG)" stroke="#5a5a56" stroke-width="0.5"/><circle cx="186.7" cy="733.7" r="4.9" fill="url(#gG)" stroke="#5a5a56" stroke-width="0.5"/><circle cx="282.7" cy="732.2" r="4.9" fill="url(#gG)" stroke="#5a5a56" stroke-width="0.5"/><circle cx="223.8" cy="731.1" r="4.9" fill="url(#gG)" stroke="#5a5a56" stroke-width="0.5"/><circle cx="164.6" cy="730.7" r="4.9" fill="url(#gG)" stroke="#5a5a56" stroke-width="0.5"/><circle cx="426.0" cy="730.0" r="4.9" fill="url(#gG)" stroke="#5a5a56" stroke-width="0.5"/><circle cx="367.7" cy="728.9" r="4.9" fill="url(#gG)" stroke="#5a5a56" stroke-width="0.5"/><circle cx="305.5" cy="727.2" r="4.9" fill="url(#gD)" stroke="#5a5a56" stroke-width="0.5"/><circle cx="248.8" cy="726.1" r="4.9" fill="url(#gG)" stroke="#5a5a56" stroke-width="0.5"/><circle cx="189.8" cy="725.6" r="4.9" fill="url(#gG)" stroke="#5a5a56" stroke-width="0.5"/><circle cx="167.6" cy="722.9" r="4.9" fill="url(#gG)" stroke="#5a5a56" stroke-width="0.5"/><circle cx="421.6" cy="845.4" r="3.9" fill="url(#gY)" stroke="#b0b000" stroke-width="0.4"/><circle cx="449.8" cy="845.4" r="3.9" fill="url(#gY)" stroke="#b0b000" stroke-width="0.4"/><circle cx="362.0" cy="843.2" r="3.9" fill="url(#gY)" stroke="#b0b000" stroke-width="0.4"/><circle cx="301.6" cy="842.3" r="3.9" fill="url(#gY)" stroke="#b0b000" stroke-width="0.4"/><circle cx="243.4" cy="841.3" r="3.9" fill="url(#gY)" stroke="#b0b000" stroke-width="0.4"/><circle cx="185.0" cy="839.5" r="3.9" fill="url(#gY)" stroke="#b0b000" stroke-width="0.4"/><circle cx="452.9" cy="837.5" r="3.9" fill="url(#gY)" stroke="#b0b000" stroke-width="0.4"/><circle cx="424.3" cy="837.4" r="3.9" fill="url(#gY)" stroke="#b0b000" stroke-width="0.4"/><circle cx="393.7" cy="835.8" r="3.9" fill="url(#gY)" stroke="#b0b000" stroke-width="0.4"/><circle cx="364.7" cy="835.3" r="3.9" fill="url(#gY)" stroke="#b0b000" stroke-width="0.4"/><circle cx="334.2" cy="834.9" r="3.9" fill="url(#gY)" stroke="#b0b000" stroke-width="0.4"/><circle cx="304.3" cy="834.4" r="3.9" fill="url(#gY)" stroke="#b0b000" stroke-width="0.4"/><circle cx="274.8" cy="833.9" r="3.9" fill="url(#gY)" stroke="#b0b000" stroke-width="0.4"/><circle cx="246.1" cy="833.4" r="3.9" fill="url(#gY)" stroke="#b0b000" stroke-width="0.4"/><circle cx="216.0" cy="832.0" r="3.9" fill="url(#gY)" stroke="#b0b000" stroke-width="0.4"/><circle cx="187.7" cy="831.7" r="3.9" fill="url(#gY)" stroke="#b0b000" stroke-width="0.4"/><circle cx="156.2" cy="831.0" r="3.9" fill="url(#gY)" stroke="#b0b000" stroke-width="0.4"/><circle cx="455.9" cy="829.6" r="3.9" fill="url(#gY)" stroke="#b0b000" stroke-width="0.4"/><circle cx="427.1" cy="829.5" r="3.9" fill="url(#gY)" stroke="#b0b000" stroke-width="0.4"/><circle cx="396.7" cy="828.0" r="3.9" fill="url(#gY)" stroke="#b0b000" stroke-width="0.4"/><circle cx="367.4" cy="827.4" r="3.9" fill="url(#gY)" stroke="#b0b000" stroke-width="0.4"/><circle cx="337.2" cy="827.0" r="3.9" fill="url(#gY)" stroke="#b0b000" stroke-width="0.4"/><circle cx="307.0" cy="826.5" r="3.9" fill="url(#gY)" stroke="#b0b000" stroke-width="0.4"/><circle cx="277.8" cy="826.0" r="3.9" fill="url(#gY)" stroke="#b0b000" stroke-width="0.4"/><circle cx="248.9" cy="825.5" r="3.9" fill="url(#gY)" stroke="#b0b000" stroke-width="0.4"/><circle cx="219.1" cy="824.0" r="3.9" fill="url(#gY)" stroke="#b0b000" stroke-width="0.4"/><circle cx="190.4" cy="823.9" r="3.9" fill="url(#gY)" stroke="#b0b000" stroke-width="0.4"/><circle cx="159.2" cy="823.2" r="3.9" fill="url(#gY)" stroke="#b0b000" stroke-width="0.4"/><circle cx="459.0" cy="821.7" r="3.9" fill="url(#gY)" stroke="#b0b000" stroke-width="0.4"/><circle cx="429.8" cy="821.5" r="3.9" fill="url(#gY)" stroke="#b0b000" stroke-width="0.4"/><circle cx="399.7" cy="820.2" r="3.9" fill="url(#gY)" stroke="#b0b000" stroke-width="0.4"/><circle cx="340.3" cy="819.0" r="3.9" fill="url(#gY)" stroke="#b0b000" stroke-width="0.4"/><circle cx="280.9" cy="818.1" r="3.9" fill="url(#gY)" stroke="#b0b000" stroke-width="0.4"/><circle cx="222.2" cy="816.0" r="3.9" fill="url(#gY)" stroke="#b0b000" stroke-width="0.4"/><circle cx="162.1" cy="815.5" r="3.9" fill="url(#gY)" stroke="#b0b000" stroke-width="0.4"/><circle cx="462.0" cy="813.8" r="3.9" fill="url(#gY)" stroke="#b0b000" stroke-width="0.4"/><circle cx="402.7" cy="812.4" r="3.9" fill="url(#gY)" stroke="#b0b000" stroke-width="0.4"/><circle cx="343.3" cy="811.1" r="3.9" fill="url(#gY)" stroke="#b0b000" stroke-width="0.4"/><circle cx="283.9" cy="810.2" r="3.9" fill="url(#gY)" stroke="#b0b000" stroke-width="0.4"/><circle cx="225.2" cy="808.0" r="3.9" fill="url(#gY)" stroke="#b0b000" stroke-width="0.4"/><circle cx="165.1" cy="807.8" r="3.9" fill="url(#gY)" stroke="#b0b000" stroke-width="0.4"/><circle cx="465.1" cy="805.8" r="3.9" fill="url(#gY)" stroke="#b0b000" stroke-width="0.4"/><circle cx="405.7" cy="804.7" r="3.9" fill="url(#gY)" stroke="#b0b000" stroke-width="0.4"/><circle cx="375.6" cy="803.6" r="3.9" fill="url(#gY)" stroke="#b0b000" stroke-width="0.4"/><circle cx="346.4" cy="803.2" r="3.9" fill="url(#gY)" stroke="#b0b000" stroke-width="0.4"/><circle cx="315.2" cy="802.7" r="3.9" fill="url(#gY)" stroke="#b0b000" stroke-width="0.4"/><circle cx="287.0" cy="802.2" r="3.9" fill="url(#gY)" stroke="#b0b000" stroke-width="0.4"/><circle cx="257.0" cy="801.8" r="3.9" fill="url(#gY)" stroke="#b0b000" stroke-width="0.4"/><circle cx="198.5" cy="800.4" r="3.9" fill="url(#gY)" stroke="#b0b000" stroke-width="0.4"/><circle cx="168.1" cy="800.0" r="3.9" fill="url(#gY)" stroke="#b0b000" stroke-width="0.4"/><circle cx="228.3" cy="800.0" r="3.9" fill="url(#gY)" stroke="#b0b000" stroke-width="0.4"/><circle cx="468.1" cy="797.9" r="3.9" fill="url(#gY)" stroke="#b0b000" stroke-width="0.4"/><circle cx="438.0" cy="797.7" r="3.9" fill="url(#gY)" stroke="#b0b000" stroke-width="0.4"/><circle cx="408.7" cy="796.9" r="3.9" fill="url(#gY)" stroke="#b0b000" stroke-width="0.4"/><circle cx="378.3" cy="795.7" r="3.9" fill="url(#gY)" stroke="#b0b000" stroke-width="0.4"/><circle cx="349.4" cy="795.3" r="3.9" fill="url(#gY)" stroke="#b0b000" stroke-width="0.4"/><circle cx="317.9" cy="794.8" r="3.9" fill="url(#gY)" stroke="#b0b000" stroke-width="0.4"/><circle cx="290.0" cy="794.3" r="3.9" fill="url(#gY)" stroke="#b0b000" stroke-width="0.4"/><circle cx="259.8" cy="793.9" r="3.9" fill="url(#gY)" stroke="#b0b000" stroke-width="0.4"/><circle cx="201.2" cy="792.6" r="3.9" fill="url(#gY)" stroke="#b0b000" stroke-width="0.4"/><circle cx="171.1" cy="792.2" r="3.9" fill="url(#gY)" stroke="#b0b000" stroke-width="0.4"/><circle cx="231.4" cy="792.0" r="3.9" fill="url(#gY)" stroke="#b0b000" stroke-width="0.4"/><circle cx="471.2" cy="790.0" r="3.9" fill="url(#gY)" stroke="#b0b000" stroke-width="0.4"/><circle cx="440.8" cy="789.8" r="3.9" fill="url(#gY)" stroke="#b0b000" stroke-width="0.4"/><circle cx="411.7" cy="789.1" r="3.9" fill="url(#gY)" stroke="#b0b000" stroke-width="0.4"/><circle cx="381.1" cy="787.8" r="3.9" fill="url(#gY)" stroke="#b0b000" stroke-width="0.4"/><circle cx="352.5" cy="787.3" r="3.9" fill="url(#gY)" stroke="#b0b000" stroke-width="0.4"/><circle cx="320.7" cy="786.9" r="3.9" fill="url(#gY)" stroke="#b0b000" stroke-width="0.4"/><circle cx="293.0" cy="786.4" r="3.9" fill="url(#gY)" stroke="#b0b000" stroke-width="0.4"/><circle cx="262.5" cy="786.0" r="3.9" fill="url(#gY)" stroke="#b0b000" stroke-width="0.4"/><circle cx="203.9" cy="784.8" r="3.9" fill="url(#gY)" stroke="#b0b000" stroke-width="0.4"/><circle cx="174.1" cy="784.5" r="3.9" fill="url(#gY)" stroke="#b0b000" stroke-width="0.4"/><circle cx="234.5" cy="784.0" r="3.9" fill="url(#gY)" stroke="#b0b000" stroke-width="0.4"/><circle cx="157.3" cy="783.0" r="3.9" fill="url(#gY)" stroke="#b0b000" stroke-width="0.4"/><circle cx="474.2" cy="782.1" r="3.9" fill="url(#gY)" stroke="#b0b000" stroke-width="0.4"/><circle cx="443.5" cy="781.8" r="3.9" fill="url(#gY)" stroke="#b0b000" stroke-width="0.4"/><circle cx="414.7" cy="781.3" r="3.9" fill="url(#gY)" stroke="#b0b000" stroke-width="0.4"/><circle cx="397.2" cy="780.0" r="3.9" fill="url(#gY)" stroke="#b0b000" stroke-width="0.4"/><circle cx="426.2" cy="780.0" r="3.9" fill="url(#gY)" stroke="#b0b000" stroke-width="0.4"/><circle cx="383.8" cy="779.9" r="3.9" fill="url(#gY)" stroke="#b0b000" stroke-width="0.4"/><circle cx="355.5" cy="779.4" r="3.9" fill="url(#gY)" stroke="#b0b000" stroke-width="0.4"/><circle cx="323.4" cy="779.0" r="3.9" fill="url(#gY)" stroke="#b0b000" stroke-width="0.4"/><circle cx="337.3" cy="779.0" r="3.9" fill="url(#gY)" stroke="#b0b000" stroke-width="0.4"/><circle cx="366.5" cy="779.0" r="3.9" fill="url(#gY)" stroke="#b0b000" stroke-width="0.4"/><circle cx="296.1" cy="778.5" r="3.9" fill="url(#gY)" stroke="#b0b000" stroke-width="0.4"/><circle cx="306.6" cy="778.5" r="3.9" fill="url(#gY)" stroke="#b0b000" stroke-width="0.4"/><circle cx="265.2" cy="778.1" r="3.9" fill="url(#gY)" stroke="#b0b000" stroke-width="0.4"/><circle cx="247.8" cy="777.6" r="3.9" fill="url(#gY)" stroke="#b0b000" stroke-width="0.4"/><circle cx="278.6" cy="777.6" r="3.9" fill="url(#gY)" stroke="#b0b000" stroke-width="0.4"/><circle cx="206.6" cy="777.0" r="3.9" fill="url(#gY)" stroke="#b0b000" stroke-width="0.4"/><circle cx="219.4" cy="777.0" r="3.9" fill="url(#gY)" stroke="#b0b000" stroke-width="0.4"/><circle cx="177.1" cy="776.8" r="3.9" fill="url(#gY)" stroke="#b0b000" stroke-width="0.4"/><circle cx="237.6" cy="776.0" r="3.9" fill="url(#gY)" stroke="#b0b000" stroke-width="0.4"/><circle cx="189.0" cy="775.7" r="3.9" fill="url(#gY)" stroke="#b0b000" stroke-width="0.4"/><circle cx="160.0" cy="775.2" r="3.9" fill="url(#gY)" stroke="#b0b000" stroke-width="0.4"/><circle cx="129.7" cy="774.6" r="3.9" fill="url(#gY)" stroke="#b0b000" stroke-width="0.4"/><circle cx="477.2" cy="774.2" r="3.9" fill="url(#gY)" stroke="#b0b000" stroke-width="0.4"/><circle cx="446.3" cy="773.9" r="3.9" fill="url(#gY)" stroke="#b0b000" stroke-width="0.4"/><circle cx="429.1" cy="772.2" r="3.9" fill="url(#gY)" stroke="#b0b000" stroke-width="0.4"/><circle cx="399.9" cy="772.2" r="3.9" fill="url(#gY)" stroke="#b0b000" stroke-width="0.4"/><circle cx="386.5" cy="772.0" r="3.9" fill="url(#gY)" stroke="#b0b000" stroke-width="0.4"/><circle cx="369.5" cy="771.2" r="3.9" fill="url(#gY)" stroke="#b0b000" stroke-width="0.4"/><circle cx="340.0" cy="771.1" r="3.9" fill="url(#gY)" stroke="#b0b000" stroke-width="0.4"/><circle cx="326.1" cy="771.1" r="3.9" fill="url(#gY)" stroke="#b0b000" stroke-width="0.4"/><circle cx="309.7" cy="770.6" r="3.9" fill="url(#gY)" stroke="#b0b000" stroke-width="0.4"/><circle cx="267.9" cy="770.2" r="3.9" fill="url(#gY)" stroke="#b0b000" stroke-width="0.4"/><circle cx="281.3" cy="769.8" r="3.9" fill="url(#gY)" stroke="#b0b000" stroke-width="0.4"/><circle cx="250.8" cy="769.6" r="3.9" fill="url(#gY)" stroke="#b0b000" stroke-width="0.4"/><circle cx="209.3" cy="769.2" r="3.9" fill="url(#gY)" stroke="#b0b000" stroke-width="0.4"/><circle cx="222.1" cy="769.1" r="3.9" fill="url(#gY)" stroke="#b0b000" stroke-width="0.4"/><circle cx="180.1" cy="769.0" r="3.9" fill="url(#gY)" stroke="#b0b000" stroke-width="0.4"/><circle cx="192.0" cy="767.9" r="3.9" fill="url(#gY)" stroke="#b0b000" stroke-width="0.4"/><circle cx="162.7" cy="767.4" r="3.9" fill="url(#gY)" stroke="#b0b000" stroke-width="0.4"/><circle cx="132.8" cy="766.8" r="3.9" fill="url(#gY)" stroke="#b0b000" stroke-width="0.4"/><circle cx="449.0" cy="765.9" r="3.9" fill="url(#gY)" stroke="#b0b000" stroke-width="0.4"/><circle cx="432.1" cy="764.5" r="3.9" fill="url(#gY)" stroke="#b0b000" stroke-width="0.4"/><circle cx="372.5" cy="763.5" r="3.9" fill="url(#gY)" stroke="#b0b000" stroke-width="0.4"/><circle cx="312.7" cy="762.6" r="3.9" fill="url(#gY)" stroke="#b0b000" stroke-width="0.4"/><circle cx="253.9" cy="761.7" r="3.9" fill="url(#gY)" stroke="#b0b000" stroke-width="0.4"/><circle cx="195.0" cy="760.0" r="3.9" fill="url(#gY)" stroke="#b0b000" stroke-width="0.4"/><circle cx="135.8" cy="758.9" r="3.9" fill="url(#gY)" stroke="#b0b000" stroke-width="0.4"/><circle cx="435.1" cy="756.8" r="3.9" fill="url(#gY)" stroke="#b0b000" stroke-width="0.4"/><circle cx="375.5" cy="755.8" r="3.9" fill="url(#gY)" stroke="#b0b000" stroke-width="0.4"/><circle cx="315.8" cy="754.7" r="3.9" fill="url(#gY)" stroke="#b0b000" stroke-width="0.4"/><circle cx="257.0" cy="753.8" r="3.9" fill="url(#gY)" stroke="#b0b000" stroke-width="0.4"/><circle cx="198.1" cy="752.2" r="3.9" fill="url(#gY)" stroke="#b0b000" stroke-width="0.4"/><circle cx="138.8" cy="751.1" r="3.9" fill="url(#gY)" stroke="#b0b000" stroke-width="0.4"/><circle cx="438.1" cy="749.0" r="3.9" fill="url(#gY)" stroke="#b0b000" stroke-width="0.4"/><circle cx="408.0" cy="748.9" r="3.9" fill="url(#gY)" stroke="#b0b000" stroke-width="0.4"/><circle cx="378.5" cy="748.0" r="3.9" fill="url(#gY)" stroke="#b0b000" stroke-width="0.4"/><circle cx="348.2" cy="747.4" r="3.9" fill="url(#gY)" stroke="#b0b000" stroke-width="0.4"/><circle cx="318.9" cy="746.8" r="3.9" fill="url(#gY)" stroke="#b0b000" stroke-width="0.4"/><circle cx="289.4" cy="746.2" r="3.9" fill="url(#gY)" stroke="#b0b000" stroke-width="0.4"/><circle cx="260.0" cy="745.8" r="3.9" fill="url(#gY)" stroke="#b0b000" stroke-width="0.4"/><circle cx="230.3" cy="745.4" r="3.9" fill="url(#gY)" stroke="#b0b000" stroke-width="0.4"/><circle cx="201.1" cy="744.4" r="3.9" fill="url(#gY)" stroke="#b0b000" stroke-width="0.4"/><circle cx="170.8" cy="744.0" r="3.9" fill="url(#gY)" stroke="#b0b000" stroke-width="0.4"/><circle cx="141.8" cy="743.2" r="3.9" fill="url(#gY)" stroke="#b0b000" stroke-width="0.4"/><circle cx="441.1" cy="741.2" r="3.9" fill="url(#gY)" stroke="#b0b000" stroke-width="0.4"/><circle cx="410.7" cy="741.1" r="3.9" fill="url(#gY)" stroke="#b0b000" stroke-width="0.4"/><circle cx="381.5" cy="740.2" r="3.9" fill="url(#gY)" stroke="#b0b000" stroke-width="0.4"/><circle cx="350.9" cy="739.6" r="3.9" fill="url(#gY)" stroke="#b0b000" stroke-width="0.4"/><circle cx="321.9" cy="738.8" r="3.9" fill="url(#gY)" stroke="#b0b000" stroke-width="0.4"/><circle cx="292.1" cy="738.4" r="3.9" fill="url(#gY)" stroke="#b0b000" stroke-width="0.4"/><circle cx="263.1" cy="737.9" r="3.9" fill="url(#gY)" stroke="#b0b000" stroke-width="0.4"/><circle cx="233.0" cy="737.6" r="3.9" fill="url(#gY)" stroke="#b0b000" stroke-width="0.4"/><circle cx="204.1" cy="736.5" r="3.9" fill="url(#gY)" stroke="#b0b000" stroke-width="0.4"/><circle cx="173.4" cy="736.2" r="3.9" fill="url(#gY)" stroke="#b0b000" stroke-width="0.4"/><circle cx="144.8" cy="735.4" r="3.9" fill="url(#gY)" stroke="#b0b000" stroke-width="0.4"/><circle cx="444.1" cy="733.5" r="3.9" fill="url(#gY)" stroke="#b0b000" stroke-width="0.4"/><circle cx="413.3" cy="733.3" r="3.9" fill="url(#gY)" stroke="#b0b000" stroke-width="0.4"/><circle cx="384.4" cy="732.5" r="3.9" fill="url(#gY)" stroke="#b0b000" stroke-width="0.4"/><circle cx="353.6" cy="731.7" r="3.9" fill="url(#gY)" stroke="#b0b000" stroke-width="0.4"/><circle cx="325.0" cy="730.9" r="3.9" fill="url(#gY)" stroke="#b0b000" stroke-width="0.4"/><circle cx="294.8" cy="730.5" r="3.9" fill="url(#gY)" stroke="#b0b000" stroke-width="0.4"/><circle cx="266.1" cy="729.9" r="3.9" fill="url(#gY)" stroke="#b0b000" stroke-width="0.4"/><circle cx="235.7" cy="729.7" r="3.9" fill="url(#gY)" stroke="#b0b000" stroke-width="0.4"/><circle cx="207.1" cy="728.7" r="3.9" fill="url(#gY)" stroke="#b0b000" stroke-width="0.4"/><circle cx="176.1" cy="728.4" r="3.9" fill="url(#gY)" stroke="#b0b000" stroke-width="0.4"/><circle cx="147.9" cy="727.5" r="3.9" fill="url(#gY)" stroke="#b0b000" stroke-width="0.4"/><circle cx="447.0" cy="725.8" r="3.9" fill="url(#gY)" stroke="#b0b000" stroke-width="0.4"/><circle cx="416.0" cy="725.6" r="3.9" fill="url(#gY)" stroke="#b0b000" stroke-width="0.4"/><circle cx="387.4" cy="724.8" r="3.9" fill="url(#gY)" stroke="#b0b000" stroke-width="0.4"/><circle cx="356.3" cy="723.8" r="3.9" fill="url(#gY)" stroke="#b0b000" stroke-width="0.4"/><circle cx="328.0" cy="722.9" r="3.9" fill="url(#gY)" stroke="#b0b000" stroke-width="0.4"/><circle cx="297.5" cy="722.7" r="3.9" fill="url(#gY)" stroke="#b0b000" stroke-width="0.4"/><circle cx="269.2" cy="722.0" r="3.9" fill="url(#gY)" stroke="#b0b000" stroke-width="0.4"/><circle cx="238.4" cy="721.8" r="3.9" fill="url(#gY)" stroke="#b0b000" stroke-width="0.4"/><circle cx="210.1" cy="720.8" r="3.9" fill="url(#gY)" stroke="#b0b000" stroke-width="0.4"/><circle cx="178.8" cy="720.6" r="3.9" fill="url(#gY)" stroke="#b0b000" stroke-width="0.4"/><circle cx="150.9" cy="719.7" r="3.9" fill="url(#gY)" stroke="#b0b000" stroke-width="0.4"/><circle cx="450.0" cy="718.0" r="3.9" fill="url(#gY)" stroke="#b0b000" stroke-width="0.4"/><circle cx="418.7" cy="717.8" r="3.9" fill="url(#gY)" stroke="#b0b000" stroke-width="0.4"/><circle cx="390.4" cy="717.0" r="3.9" fill="url(#gY)" stroke="#b0b000" stroke-width="0.4"/><circle cx="359.1" cy="715.9" r="3.9" fill="url(#gY)" stroke="#b0b000" stroke-width="0.4"/><circle cx="331.1" cy="715.0" r="3.9" fill="url(#gY)" stroke="#b0b000" stroke-width="0.4"/><circle cx="300.2" cy="714.8" r="3.9" fill="url(#gY)" stroke="#b0b000" stroke-width="0.4"/><circle cx="272.3" cy="714.0" r="3.9" fill="url(#gY)" stroke="#b0b000" stroke-width="0.4"/><circle cx="241.1" cy="713.9" r="3.9" fill="url(#gY)" stroke="#b0b000" stroke-width="0.4"/><circle cx="213.2" cy="713.0" r="3.9" fill="url(#gY)" stroke="#b0b000" stroke-width="0.4"/><circle cx="181.5" cy="712.8" r="3.9" fill="url(#gY)" stroke="#b0b000" stroke-width="0.4"/><circle cx="153.9" cy="711.8" r="3.9" fill="url(#gY)" stroke="#b0b000" stroke-width="0.4"/><circle cx="421.4" cy="710.0" r="3.9" fill="url(#gY)" stroke="#b0b000" stroke-width="0.4"/><circle cx="361.8" cy="708.0" r="3.9" fill="url(#gY)" stroke="#b0b000" stroke-width="0.4"/><circle cx="302.9" cy="707.0" r="3.9" fill="url(#gY)" stroke="#b0b000" stroke-width="0.4"/><circle cx="243.9" cy="706.0" r="3.9" fill="url(#gY)" stroke="#b0b000" stroke-width="0.4"/><circle cx="184.2" cy="705.0" r="3.9" fill="url(#gY)" stroke="#b0b000" stroke-width="0.4"/><circle cx="156.9" cy="704.0" r="3.9" fill="url(#gY)" stroke="#b0b000" stroke-width="0.4"/></g><line x1="288.4" y1="780.2" x2="314.9" y2="713.5" stroke="#a00c14" stroke-width="3.0"/><polygon points="318.8,704.6 311.3,712.0 318.9,715.4" fill="#a00c14"/><text x="313.2" y="696.8" font-size="16.5" fill="#a00c14">E<tspan font-size="15.5" dy="3.4">y</tspan></text><g stroke="#111" stroke-width="1.2" fill="#111"><line x1="110.3" y1="806.8" x2="97.2" y2="776.8"/><line x1="110.3" y1="806.8" x2="142.4" y2="794.8"/><line x1="110.3" y1="806.8" x2="106.6" y2="816.3"/></g><polygon points="96.6,775.4 95.9,779.6 99.2,778.2" fill="#111"/><polygon points="143.9,794.2 139.9,793.6 141.3,797.1" fill="#111"/><polygon points="106.3,817.8 104.9,813.9 108.3,814.6" fill="#111"/><text x="88.6" y="772.4" font-size="12" fill="#111">x (a)</text><text x="146.2" y="797.3" font-size="12" fill="#111">z</text><text x="95.8" y="828.6" font-size="12" fill="#111">y (b)</text>
</svg></body></html>
